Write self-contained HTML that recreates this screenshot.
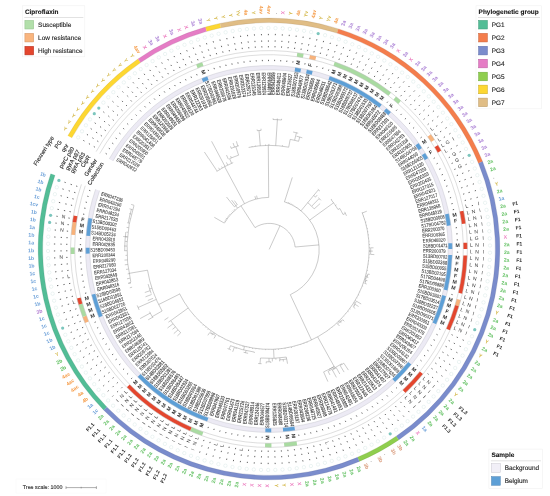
<!DOCTYPE html>
<html><head><meta charset="utf-8"><style>html,body{margin:0;padding:0;background:#fff;}svg{display:block;}</style></head><body>
<svg width="550" height="496" viewBox="0 0 550 496" font-family="Liberation Sans, Arial, sans-serif" text-rendering="geometricPrecision">
<rect width="550" height="496" fill="#fff"/>
<g id="tree" fill="none" stroke="#8a8a8a" stroke-width="0.45">
<path d="M269.2,249.4L280.0,225.7M255.0,227.6A26,26 0 0 1 295.1,247.0M255.0,227.6L240.9,205.8M224.5,222.9A52,52 0 0 1 268.7,197.4M224.3,223.1L214.3,217.3M225.2,221.7L224.5,221.2M226.1,220.3L225.3,219.7M227.1,218.9L225.9,218.1M228.1,217.6L227.4,217.0M229.1,216.2L228.4,215.7M230.2,215.0L229.5,214.3M231.4,213.7L231.0,213.3M232.6,212.5L231.9,211.8M233.8,211.3L233.1,210.6M235.0,210.2L234.2,209.3M237.5,208.1L235.7,205.8M234.4,206.8A55,55 0 0 1 237.3,204.6M234.4,206.8L226.5,197.0M235.8,205.7L231.6,200.1M237.3,204.6L234.4,200.6M255.7,199.2L254.9,196.2M257.3,198.8L256.6,195.6M244.5,203.6L224.6,166.6M216.6,171.5A94,94 0 0 1 233.2,162.6M217.1,171.1L204.4,152.0M225.0,166.4L211.6,141.3M219.7,169.5L218.6,167.8M222.3,167.9L221.6,166.6M231.6,163.3L229.6,158.7M229.6,158.7A99,99 0 0 1 238.6,155.2M228.4,159.2L226.5,155.1M231.3,157.9L230.6,156.1M238.6,155.2L235.8,146.7M231.0,148.4A108,108 0 0 1 238.9,145.7M231.2,148.3L230.5,146.4M234.5,147.1L233.1,143.0M237.8,146.1L236.4,141.3M227.7,165.1L226.4,162.4M268.7,197.4L268.3,145.4M248.8,147.4A104,104 0 0 1 288.7,147.2M248.8,147.4L248.7,147.1M252.1,146.8L252.0,146.0M255.4,146.3L255.3,145.5M260.3,145.8L259.0,130.5M257.3,130.7A119.3,119.3 0 0 1 261.1,130.4M257.3,130.7L257.1,129.5M261.1,130.4L261.0,128.7M265.5,145.5L265.5,144.5M275.7,145.6L277.4,119.7M273.0,119.5A130,130 0 0 1 281.5,120.0M273.0,119.5L273.1,118.3M277.3,119.7L277.3,118.5M281.5,120.0L281.6,118.8M268.9,145.4L268.9,143.9M282.4,146.2L282.5,145.2M288.7,147.2L290.2,139.4M290.2,139.4A112,112 0 0 1 298.6,141.3M294.6,140.3L296.4,132.7M298.6,141.3L299.7,137.1M296.4,136.2A116.4,116.4 0 0 1 302.3,137.8M293.1,132.0A119.8,119.8 0 0 1 298.2,133.2M295.1,247.0L319.0,244.9M284.2,201.7A50,50 0 0 1 290.3,294.7M284.5,201.8L292.3,177.4M286.5,202.5L286.7,202.2M288.1,203.1L288.4,202.2M289.5,203.7L289.9,202.8M291.0,204.4L291.3,203.7M292.5,205.1L292.8,204.5M293.9,205.9L294.1,205.6M295.3,206.7L295.5,206.5M296.7,207.6L297.0,207.1M298.0,208.5L298.2,208.2M299.3,209.5L299.6,209.1M300.6,210.5L300.9,210.1M301.0,210.8L318.4,189.8M307.7,202.6A60.6,60.6 0 0 1 314.2,208.9M311.7,206.2L319.2,198.5M314.2,208.9L320.1,203.6M313.6,195.5A69.8,69.8 0 0 1 315.5,197.1M315.5,197.1L317.2,195.1M318.3,197.7A71.3,71.3 0 0 1 320.9,200.3M317.8,189.3A77.3,77.3 0 0 1 319.9,191.1M309.7,220.1L333.6,202.8M331.2,199.7A79.5,79.5 0 0 1 338.0,209.5M331.2,199.7L332.0,199.1M338.0,209.5L339.8,208.5M339.8,208.5A81.6,81.6 0 0 1 343.0,214.5M343.0,214.5L345.4,213.4M344.6,211.8A84.3,84.3 0 0 1 346.5,215.8M335.5,205.5L336.4,204.9M290.3,294.7L311.5,340.0M362.1,212.4A100,100 0 0 1 179.5,293.6M362.3,213.0L362.5,212.9M363.5,216.0L364.0,215.8M364.5,219.1L365.0,218.9M365.4,222.2L366.3,222.0M366.3,225.3L366.9,225.2M367.0,228.5L367.7,228.4M367.6,231.7L368.2,231.6M368.1,234.9L368.9,234.8M368.6,238.1L369.1,238.0M368.9,241.3L369.3,241.3M369.1,244.6L370.1,244.5M369.2,247.8L370.2,247.8M369.2,251.1L370.1,251.1M369.1,254.3L369.8,254.4M368.9,257.6L369.3,257.6M368.5,260.8L368.9,260.8M368.1,264.0L368.6,264.1M367.6,267.2L367.9,267.2M367.0,270.4L367.8,270.6M366.2,273.5L366.7,273.7M365.4,276.7L366.2,276.9M364.5,279.8L365.0,279.9M363.4,282.9L364.3,283.2M362.3,285.9L363.1,286.2M361.1,288.9L361.2,289.0M359.7,291.9L360.1,292.0M358.3,294.8L359.1,295.2M356.8,297.7L357.3,297.9M355.2,300.5L356.0,301.0M353.5,303.2L353.9,303.5M351.7,305.9L351.9,306.1M349.8,308.6L350.4,309.0M347.8,311.2L348.5,311.7M345.8,313.7L346.1,314.0M343.7,316.1L343.9,316.3M341.5,318.5L341.8,318.8M339.2,320.8L339.9,321.5M336.8,323.1L337.4,323.7M334.4,325.2L334.6,325.4M331.9,327.3L332.2,327.6M329.3,329.3L329.5,329.5M326.7,331.2L326.9,331.4M362.3,213.0L366.8,211.2M370.7,247.8L373.5,247.8M370.7,251.1L372.8,251.1M370.6,254.4L374.3,254.6M370.7,247.8A101.5,101.5 0 0 1 370.6,254.4M369.2,251.1L370.7,251.1M367.9,274.0L369.7,274.4M367.1,277.2L368.3,277.5M367.9,274.0A101.75748604948447,101.75748604948447 0 0 1 367.1,277.2M366.8,275.4L367.5,275.6M366.0,280.3L367.4,280.7M364.9,283.4L366.7,284.0M366.0,280.3A101.60791799087625,101.60791799087625 0 0 1 364.9,283.4M364.9,281.7L365.5,281.8M366.8,275.4A101,101 0 0 1 364.9,281.7M364.9,278.2L365.9,278.5M356.5,301.2L361.2,304.0M355.2,304.4L358.6,306.5M353.4,307.1L355.2,308.4M355.2,304.4A102.08529734743101,102.08529734743101 0 0 1 353.4,307.1M353.8,305.4L354.3,305.7M356.5,301.2A101.5,101.5 0 0 1 353.8,305.4M353.9,302.5L355.2,303.3M342.7,319.7L344.3,321.3M340.4,322.1L341.4,323.1M342.7,319.7A101.72055159494876,101.72055159494876 0 0 1 340.4,322.1M341.2,320.5L341.6,320.9M337.6,323.9L339.5,326.0M341.2,320.5A101.2,101.2 0 0 1 337.6,323.9M338.6,321.4L339.4,322.3M317.7,336.9L334.2,366.6M343.8,363.2L348.4,370.1M340.1,365.5L344.1,372.1M343.8,363.2A136.0591604813039,136.0591604813039 0 0 1 340.1,365.5M341.6,363.8L342.0,364.4M336.3,367.8L339.8,374.0M332.4,370.0L336.4,377.4M336.3,367.8A136.13138786470023,136.13138786470023 0 0 1 332.4,370.0M334.0,368.2L334.4,368.9M328.1,371.3L329.9,374.9M341.6,363.8A135.36109539897532,135.36109539897532 0 0 1 328.1,371.3M334.3,366.5L335.0,367.7M323.6,371.9L327.9,381.6M334.3,366.5A134,134 0 0 1 323.6,371.9M334.2,366.6A134,134 0 0 1 329.0,369.3M306.8,342.1L307.2,342.9M303.8,343.2L304.0,343.9M300.7,344.3L300.9,344.8M297.6,345.3L297.7,345.5M294.5,346.1L294.6,346.4M291.4,346.9L291.6,347.9M288.2,347.6L288.3,348.0M285.0,348.1L285.1,348.9M281.8,348.6L281.8,349.0M278.5,349.0L278.6,349.8M275.3,349.2L275.3,349.9M272.1,349.4L272.1,349.8M268.8,349.4L268.8,349.7M265.6,349.3L265.5,350.1M262.3,349.2L262.3,349.4M259.1,348.9L259.1,349.3M255.9,348.5L255.8,349.2M252.7,348.0L252.5,348.9M249.5,347.4L249.3,348.1M246.3,346.7L246.2,347.2M243.2,345.9L242.9,346.9M240.0,345.1L239.9,345.4M236.9,344.1L236.9,344.3M233.9,343.0L233.7,343.3M230.9,341.8L230.7,342.3M227.9,340.5L227.8,340.7M225.0,339.1L224.8,339.4M222.1,337.6L221.8,338.0M219.2,336.0L218.9,336.6M216.5,334.4L216.3,334.6M213.7,332.6L213.5,333.0M211.1,330.8L210.5,331.5M208.4,328.8L207.8,329.6M205.9,326.8L205.4,327.4M203.4,324.7L202.9,325.3M201.0,322.5L200.6,323.0M198.7,320.3L198.5,320.5M273.6,349.3L274.0,358.3M286.3,357.1A109,109 0 0 1 260.5,358.0M286.3,357.1L286.6,359.0M286.7,359.0A111,111 0 0 1 279.6,359.9M286.7,359.0L287.5,363.7M283.2,359.5L283.4,361.5M279.6,359.9L279.7,361.4M279.8,357.9L280.0,360.0M275.9,358.2L275.9,359.7M272.3,358.4L272.4,361.4M269.0,358.4L269.0,361.8M270.8,361.8A112.4,112.4 0 0 1 266.3,361.8M270.8,361.8L270.8,362.9M266.3,361.8L266.2,363.4M260.5,358.0L260.0,363.6M261.6,363.7A114.6,114.6 0 0 1 258.2,363.5M244.5,346.3L243.6,350.0M254.4,352.1A103.8,103.8 0 0 1 230.5,345.7M254.4,352.1L254.3,352.9M246.0,350.6L245.5,352.7M236.3,347.8L235.9,349.0M230.5,345.7L229.1,349.1M234.4,347.2L232.7,351.8M248.1,353.3A106,106 0 0 1 243.6,352.3M231.0,349.9A107.5,107.5 0 0 1 227.5,348.5M215.7,335.6L213.9,338.5M212.5,334.4L212.0,335.2M209.8,332.5L207.8,335.3M212.5,334.4A102.14298882097295,102.14298882097295 0 0 1 209.8,332.5M211.5,332.9L211.2,333.5M215.7,335.6A101.5,101.5 0 0 1 211.5,332.9M214.4,333.1L213.6,334.3M188.2,308.0L170.7,320.7M180.7,332.8A121.6,121.6 0 0 1 170.7,320.7M180.7,332.8L177.4,335.9M178.0,329.9L173.8,333.6M175.5,326.9L172.5,329.3M173.0,323.8L167.5,328.0M170.6,320.6L168.4,322.2M168.4,317.4L164.4,320.1M179.7,294.0L158.7,304.5M162.1,311.0A123.5,123.5 0 0 1 147.5,270.2M162.1,311.0L152.3,316.6M153.0,317.9A134.9,134.9 0 0 1 149.5,311.7M150.3,313.1L140.1,318.6M152.6,317.3L148.2,319.8M156.3,299.4L138.1,307.5M139.2,310.0A143.4,143.4 0 0 1 137.2,305.4M151.9,288.2L149.6,289.0M151.2,293.5A126,126 0 0 1 148.1,284.1M153.1,298.3L147.8,300.5M151.6,294.5L145.5,296.8M150.1,290.7L144.8,292.5M147.5,270.2L129.0,273.4M130.8,281.9A142.2,142.2 0 0 1 134.0,205.5M132.1,287.2L129.8,287.8M131.0,282.7L128.3,283.3M129.9,278.2L127.0,278.8M129.1,273.6L127.7,273.9M128.4,269.1L126.0,269.4M127.8,264.5L124.8,264.8M127.4,259.9L124.5,260.1M127.1,255.3L125.5,255.4M127.0,250.7L124.3,250.7M127.0,246.1L124.1,246.0M127.2,241.5L125.2,241.4M127.6,236.9L125.3,236.7M128.0,232.3L126.5,232.1M128.7,227.7L126.6,227.4M129.4,223.2L127.3,222.8M130.4,218.6L129.8,218.5M131.4,214.1L129.3,213.6M132.7,209.7L129.5,208.8M134.0,205.3L131.2,204.4M131.0,282.7L128.3,283.3M127.6,236.9L123.2,236.5M124.7,250.7A144.5,144.5 0 0 1 125.8,232.0M128.2,222.9A143.5,143.5 0 0 1 131.4,209.3"/>
</g>
<g font-size="5.5" fill="#464646" font-weight="bold">
<text transform="translate(136.08 171.23) rotate(30.33) scale(0.83 1)" text-anchor="end" dominant-baseline="central" font-size="5.0" font-weight="normal" fill="#3a3a3a" stroke="#3a3a3a" stroke-width="0.08">ERR042832</text>
<text transform="translate(138.67 166.96) rotate(32.19) scale(0.83 1)" text-anchor="end" dominant-baseline="central" font-size="5.0" font-weight="normal" fill="#3a3a3a" stroke="#3a3a3a" stroke-width="0.08">ERR217028</text>
<text transform="translate(141.40 162.77) rotate(34.05) scale(0.83 1)" text-anchor="end" dominant-baseline="central" font-size="5.0" font-weight="normal" fill="#3a3a3a" stroke="#3a3a3a" stroke-width="0.08">ERR048779</text>
<text transform="translate(144.27 158.68) rotate(35.91) scale(0.83 1)" text-anchor="end" dominant-baseline="central" font-size="5.0" font-weight="normal" fill="#3a3a3a" stroke="#3a3a3a" stroke-width="0.08">ERR045991</text>
<text transform="translate(147.26 154.68) rotate(37.77) scale(0.83 1)" text-anchor="end" dominant-baseline="central" font-size="5.0" font-weight="normal" fill="#3a3a3a" stroke="#3a3a3a" stroke-width="0.08">ERR200950</text>
<text transform="translate(150.39 150.78) rotate(39.63) scale(0.83 1)" text-anchor="end" dominant-baseline="central" font-size="5.0" font-weight="normal" fill="#3a3a3a" stroke="#3a3a3a" stroke-width="0.08">ERR203517</text>
<text transform="translate(153.64 146.98) rotate(41.49) scale(0.83 1)" text-anchor="end" dominant-baseline="central" font-size="5.0" font-weight="normal" fill="#3a3a3a" stroke="#3a3a3a" stroke-width="0.08">ERR041408</text>
<text transform="translate(157.01 143.29) rotate(43.35) scale(0.83 1)" text-anchor="end" dominant-baseline="central" font-size="5.0" font-weight="normal" fill="#3a3a3a" stroke="#3a3a3a" stroke-width="0.08">ERR126851</text>
<text transform="translate(160.50 139.71) rotate(45.21) scale(0.83 1)" text-anchor="end" dominant-baseline="central" font-size="5.0" font-weight="normal" fill="#3a3a3a" stroke="#3a3a3a" stroke-width="0.08">ERR043943</text>
<text transform="translate(164.10 136.25) rotate(47.07) scale(0.755 1)" text-anchor="end" dominant-baseline="central">ERR049028</text>
<text transform="translate(167.82 132.91) rotate(48.93) scale(0.755 1)" text-anchor="end" dominant-baseline="central">ERR120968</text>
<text transform="translate(171.64 129.68) rotate(50.79) scale(0.755 1)" text-anchor="end" dominant-baseline="central">ERR202028</text>
<text transform="translate(175.56 126.59) rotate(52.65) scale(0.755 1)" text-anchor="end" dominant-baseline="central">ERR049551</text>
<text transform="translate(179.58 123.62) rotate(54.50) scale(0.755 1)" text-anchor="end" dominant-baseline="central">ERR049455</text>
<text transform="translate(183.70 120.78) rotate(56.36) scale(0.755 1)" text-anchor="end" dominant-baseline="central">ERR206499</text>
<text transform="translate(187.90 118.08) rotate(58.22) scale(0.755 1)" text-anchor="end" dominant-baseline="central">ERR043622</text>
<text transform="translate(192.19 115.52) rotate(60.08) scale(0.755 1)" text-anchor="end" dominant-baseline="central">ERR049120</text>
<text transform="translate(196.57 113.10) rotate(61.94) scale(0.755 1)" text-anchor="end" dominant-baseline="central">ERR044744</text>
<text transform="translate(201.01 110.82) rotate(63.80) scale(0.755 1)" text-anchor="end" dominant-baseline="central">ERR122363</text>
<text transform="translate(205.53 108.69) rotate(65.66) scale(0.755 1)" text-anchor="end" dominant-baseline="central">ERR201929</text>
<text transform="translate(210.12 106.70) rotate(67.52) scale(0.755 1)" text-anchor="end" dominant-baseline="central">ERR205054</text>
<text transform="translate(214.77 104.86) rotate(69.38) scale(0.755 1)" text-anchor="end" dominant-baseline="central">S17BD02961</text>
<text transform="translate(219.48 103.18) rotate(71.24) scale(0.755 1)" text-anchor="end" dominant-baseline="central">ERR049528</text>
<text transform="translate(224.23 101.65) rotate(73.10) scale(0.755 1)" text-anchor="end" dominant-baseline="central">ERR203078</text>
<text transform="translate(229.04 100.28) rotate(74.96) scale(0.755 1)" text-anchor="end" dominant-baseline="central">ERR041596</text>
<text transform="translate(233.89 99.06) rotate(76.82) scale(0.755 1)" text-anchor="end" dominant-baseline="central">ERR201028</text>
<text transform="translate(238.77 98.00) rotate(78.68) scale(0.755 1)" text-anchor="end" dominant-baseline="central">ERR200976</text>
<text transform="translate(243.69 97.09) rotate(80.54) scale(0.755 1)" text-anchor="end" dominant-baseline="central">ERR203374</text>
<text transform="translate(248.63 96.35) rotate(82.40) scale(0.755 1)" text-anchor="end" dominant-baseline="central">ERR128711</text>
<text transform="translate(253.59 95.77) rotate(84.26) scale(0.755 1)" text-anchor="end" dominant-baseline="central">ERR125146</text>
<text transform="translate(258.57 95.35) rotate(86.12) scale(0.755 1)" text-anchor="end" dominant-baseline="central">ERR129593</text>
<text transform="translate(263.57 95.10) rotate(87.98) scale(0.755 1)" text-anchor="end" dominant-baseline="central">ERR125924</text>
<text transform="translate(268.56 95.00) rotate(89.84) scale(0.755 1)" text-anchor="end" dominant-baseline="central">ERR044070</text>
<text transform="translate(273.56 95.07) rotate(271.70) scale(0.755 1)" text-anchor="start" dominant-baseline="central">ERR043999</text>
<text transform="translate(278.55 95.30) rotate(273.56) scale(0.755 1)" text-anchor="start" dominant-baseline="central">ERR049411</text>
<text transform="translate(283.54 95.69) rotate(275.42) scale(0.755 1)" text-anchor="start" dominant-baseline="central">ERR048604</text>
<text transform="translate(288.50 96.24) rotate(277.28) scale(0.755 1)" text-anchor="start" dominant-baseline="central">ERR125627</text>
<text transform="translate(293.45 96.95) rotate(279.14) scale(0.755 1)" text-anchor="start" dominant-baseline="central">S18BD07353</text>
<text transform="translate(298.37 97.83) rotate(280.99) scale(0.755 1)" text-anchor="start" dominant-baseline="central">ERR049977</text>
<text transform="translate(303.26 98.86) rotate(282.85) scale(0.755 1)" text-anchor="start" dominant-baseline="central">S13BD01934</text>
<text transform="translate(308.12 100.05) rotate(284.71) scale(0.755 1)" text-anchor="start" dominant-baseline="central">ERR206850</text>
<text transform="translate(312.93 101.40) rotate(286.57) scale(0.755 1)" text-anchor="start" dominant-baseline="central">ERR045604</text>
<text transform="translate(317.69 102.90) rotate(288.43) scale(0.755 1)" text-anchor="start" dominant-baseline="central">ERR048011</text>
<text transform="translate(322.41 104.56) rotate(290.29) scale(0.755 1)" text-anchor="start" dominant-baseline="central">S16BD00642</text>
<text transform="translate(327.07 106.37) rotate(292.15) scale(0.755 1)" text-anchor="start" dominant-baseline="central">S18BD01271</text>
<text transform="translate(331.67 108.33) rotate(294.01) scale(0.755 1)" text-anchor="start" dominant-baseline="central">S17BD09388</text>
<text transform="translate(336.20 110.43) rotate(295.87) scale(0.755 1)" text-anchor="start" dominant-baseline="central">S15BD05572</text>
<text transform="translate(340.66 112.69) rotate(297.73) scale(0.755 1)" text-anchor="start" dominant-baseline="central">S18BD05737</text>
<text transform="translate(345.05 115.09) rotate(299.59) scale(0.755 1)" text-anchor="start" dominant-baseline="central">S17BD08137</text>
<text transform="translate(349.35 117.62) rotate(301.45) scale(0.755 1)" text-anchor="start" dominant-baseline="central">S17BD07474</text>
<text transform="translate(353.57 120.30) rotate(303.31) scale(0.755 1)" text-anchor="start" dominant-baseline="central">S13BD01533</text>
<text transform="translate(357.70 123.11) rotate(305.17) scale(0.755 1)" text-anchor="start" dominant-baseline="central">S15BD07767</text>
<text transform="translate(361.74 126.06) rotate(307.03) scale(0.755 1)" text-anchor="start" dominant-baseline="central">S18BD01064</text>
<text transform="translate(365.68 129.13) rotate(308.89) scale(0.755 1)" text-anchor="start" dominant-baseline="central">ERR045072</text>
<text transform="translate(369.52 132.33) rotate(310.75) scale(0.755 1)" text-anchor="start" dominant-baseline="central">S18BD09469</text>
<text transform="translate(373.25 135.66) rotate(312.61) scale(0.755 1)" text-anchor="start" dominant-baseline="central">ERR217301</text>
<text transform="translate(376.88 139.10) rotate(314.47) scale(0.83 1)" text-anchor="start" dominant-baseline="central" font-size="5.0" font-weight="normal" fill="#3a3a3a" stroke="#3a3a3a" stroke-width="0.08">ERR046320</text>
<text transform="translate(380.39 142.66) rotate(316.33) scale(0.83 1)" text-anchor="start" dominant-baseline="central" font-size="5.0" font-weight="normal" fill="#3a3a3a" stroke="#3a3a3a" stroke-width="0.08">ERR215685</text>
<text transform="translate(383.78 146.33) rotate(318.19) scale(0.83 1)" text-anchor="start" dominant-baseline="central" font-size="5.0" font-weight="normal" fill="#3a3a3a" stroke="#3a3a3a" stroke-width="0.08">ERR047564</text>
<text transform="translate(387.05 150.11) rotate(320.05) scale(0.83 1)" text-anchor="start" dominant-baseline="central" font-size="5.0" font-weight="normal" fill="#3a3a3a" stroke="#3a3a3a" stroke-width="0.08">ERR042753</text>
<text transform="translate(390.20 153.99) rotate(321.91) scale(0.83 1)" text-anchor="start" dominant-baseline="central" font-size="5.0" font-weight="normal" fill="#3a3a3a" stroke="#3a3a3a" stroke-width="0.08">ERR201918</text>
<text transform="translate(393.22 157.97) rotate(323.77) scale(0.83 1)" text-anchor="start" dominant-baseline="central" font-size="5.0" font-weight="normal" fill="#3a3a3a" stroke="#3a3a3a" stroke-width="0.08">ERR120965</text>
<text transform="translate(396.11 162.05) rotate(325.63) scale(0.83 1)" text-anchor="start" dominant-baseline="central" font-size="5.0" font-weight="normal" fill="#3a3a3a" stroke="#3a3a3a" stroke-width="0.08">S14BD04709</text>
<text transform="translate(398.86 166.22) rotate(327.48) scale(0.83 1)" text-anchor="start" dominant-baseline="central" font-size="5.0" font-weight="normal" fill="#3a3a3a" stroke="#3a3a3a" stroke-width="0.08">ERR044056</text>
<text transform="translate(401.48 170.48) rotate(329.34) scale(0.83 1)" text-anchor="start" dominant-baseline="central" font-size="5.0" font-weight="normal" fill="#3a3a3a" stroke="#3a3a3a" stroke-width="0.08">S16BD06405</text>
<text transform="translate(403.96 174.82) rotate(331.20) scale(0.83 1)" text-anchor="start" dominant-baseline="central" font-size="5.0" font-weight="normal" fill="#3a3a3a" stroke="#3a3a3a" stroke-width="0.08">ERR121320</text>
<text transform="translate(406.29 179.24) rotate(333.06) scale(0.83 1)" text-anchor="start" dominant-baseline="central" font-size="5.0" font-weight="normal" fill="#3a3a3a" stroke="#3a3a3a" stroke-width="0.08">ERR047359</text>
<text transform="translate(408.48 183.73) rotate(334.92) scale(0.83 1)" text-anchor="start" dominant-baseline="central" font-size="5.0" font-weight="normal" fill="#3a3a3a" stroke="#3a3a3a" stroke-width="0.08">ERR200393</text>
<text transform="translate(410.53 188.29) rotate(336.78) scale(0.83 1)" text-anchor="start" dominant-baseline="central" font-size="5.0" font-weight="normal" fill="#3a3a3a" stroke="#3a3a3a" stroke-width="0.08">ERR200405</text>
<text transform="translate(412.42 192.92) rotate(338.64) scale(0.83 1)" text-anchor="start" dominant-baseline="central" font-size="5.0" font-weight="normal" fill="#3a3a3a" stroke="#3a3a3a" stroke-width="0.08">ERR127015</text>
<text transform="translate(414.17 197.60) rotate(340.50) scale(0.83 1)" text-anchor="start" dominant-baseline="central" font-size="5.0" font-weight="normal" fill="#3a3a3a" stroke="#3a3a3a" stroke-width="0.08">ERR042821</text>
<text transform="translate(415.76 202.34) rotate(342.36) scale(0.83 1)" text-anchor="start" dominant-baseline="central" font-size="5.0" font-weight="normal" fill="#3a3a3a" stroke="#3a3a3a" stroke-width="0.08">ERR127017</text>
<text transform="translate(417.20 207.12) rotate(344.22) scale(0.83 1)" text-anchor="start" dominant-baseline="central" font-size="5.0" font-weight="normal" fill="#3a3a3a" stroke="#3a3a3a" stroke-width="0.08">ERR048331</text>
<text transform="translate(418.48 211.95) rotate(346.08) scale(0.83 1)" text-anchor="start" dominant-baseline="central" font-size="5.0" font-weight="normal" fill="#3a3a3a" stroke="#3a3a3a" stroke-width="0.08">ERR126958</text>
<text transform="translate(419.60 216.82) rotate(347.94) scale(0.83 1)" text-anchor="start" dominant-baseline="central" font-size="5.0" font-weight="normal" fill="#3a3a3a" stroke="#3a3a3a" stroke-width="0.08">ERR048319</text>
<text transform="translate(420.57 221.73) rotate(349.80) scale(0.83 1)" text-anchor="start" dominant-baseline="central" font-size="5.0" font-weight="normal" fill="#3a3a3a" stroke="#3a3a3a" stroke-width="0.08">S18BD00006</text>
<text transform="translate(421.37 226.66) rotate(351.66) scale(0.83 1)" text-anchor="start" dominant-baseline="central" font-size="5.0" font-weight="normal" fill="#3a3a3a" stroke="#3a3a3a" stroke-width="0.08">S17BD04752</text>
<text transform="translate(422.02 231.62) rotate(353.52) scale(0.83 1)" text-anchor="start" dominant-baseline="central" font-size="5.0" font-weight="normal" fill="#3a3a3a" stroke="#3a3a3a" stroke-width="0.08">ERR200370</text>
<text transform="translate(422.50 236.59) rotate(355.38) scale(0.83 1)" text-anchor="start" dominant-baseline="central" font-size="5.0" font-weight="normal" fill="#3a3a3a" stroke="#3a3a3a" stroke-width="0.08">ERR200365</text>
<text transform="translate(422.82 241.58) rotate(357.24) scale(0.83 1)" text-anchor="start" dominant-baseline="central" font-size="5.0" font-weight="normal" fill="#3a3a3a" stroke="#3a3a3a" stroke-width="0.08">ERR048320</text>
<text transform="translate(422.98 246.58) rotate(359.10) scale(0.83 1)" text-anchor="start" dominant-baseline="central" font-size="5.0" font-weight="normal" fill="#3a3a3a" stroke="#3a3a3a" stroke-width="0.08">S18BD01471</text>
<text transform="translate(422.98 251.57) rotate(0.96) scale(0.83 1)" text-anchor="start" dominant-baseline="central" font-size="5.0" font-weight="normal" fill="#3a3a3a" stroke="#3a3a3a" stroke-width="0.08">ERR200379</text>
<text transform="translate(422.81 256.57) rotate(2.82) scale(0.83 1)" text-anchor="start" dominant-baseline="central" font-size="5.0" font-weight="normal" fill="#3a3a3a" stroke="#3a3a3a" stroke-width="0.08">S13BD00702</text>
<text transform="translate(422.49 261.56) rotate(4.68) scale(0.83 1)" text-anchor="start" dominant-baseline="central" font-size="5.0" font-weight="normal" fill="#3a3a3a" stroke="#3a3a3a" stroke-width="0.08">S15BD02368</text>
<text transform="translate(422.00 266.53) rotate(6.54) scale(0.83 1)" text-anchor="start" dominant-baseline="central" font-size="5.0" font-weight="normal" fill="#3a3a3a" stroke="#3a3a3a" stroke-width="0.08">S15BD00055</text>
<text transform="translate(421.35 271.49) rotate(8.40) scale(0.83 1)" text-anchor="start" dominant-baseline="central" font-size="5.0" font-weight="normal" fill="#3a3a3a" stroke="#3a3a3a" stroke-width="0.08">S13BD02195</text>
<text transform="translate(420.54 276.42) rotate(10.26) scale(0.83 1)" text-anchor="start" dominant-baseline="central" font-size="5.0" font-weight="normal" fill="#3a3a3a" stroke="#3a3a3a" stroke-width="0.08">S17BD04498</text>
<text transform="translate(419.57 281.32) rotate(12.12) scale(0.83 1)" text-anchor="start" dominant-baseline="central" font-size="5.0" font-weight="normal" fill="#3a3a3a" stroke="#3a3a3a" stroke-width="0.08">S17BD00886</text>
<text transform="translate(418.44 286.19) rotate(13.97) scale(0.83 1)" text-anchor="start" dominant-baseline="central" font-size="5.0" font-weight="normal" fill="#3a3a3a" stroke="#3a3a3a" stroke-width="0.08">ERR200360</text>
<text transform="translate(417.16 291.02) rotate(15.83) scale(0.83 1)" text-anchor="start" dominant-baseline="central" font-size="5.0" font-weight="normal" fill="#3a3a3a" stroke="#3a3a3a" stroke-width="0.08">S16BD03881</text>
<text transform="translate(415.71 295.81) rotate(17.69) scale(0.83 1)" text-anchor="start" dominant-baseline="central" font-size="5.0" font-weight="normal" fill="#3a3a3a" stroke="#3a3a3a" stroke-width="0.08">S17BD03514</text>
<text transform="translate(414.12 300.54) rotate(19.55) scale(0.83 1)" text-anchor="start" dominant-baseline="central" font-size="5.0" font-weight="normal" fill="#3a3a3a" stroke="#3a3a3a" stroke-width="0.08">S18BD02237</text>
<text transform="translate(412.37 305.22) rotate(21.41) scale(0.83 1)" text-anchor="start" dominant-baseline="central" font-size="5.0" font-weight="normal" fill="#3a3a3a" stroke="#3a3a3a" stroke-width="0.08">S18BD00005</text>
<text transform="translate(410.47 309.85) rotate(23.27) scale(0.83 1)" text-anchor="start" dominant-baseline="central" font-size="5.0" font-weight="normal" fill="#3a3a3a" stroke="#3a3a3a" stroke-width="0.08">S13BD05571</text>
<text transform="translate(408.42 314.41) rotate(25.13) scale(0.83 1)" text-anchor="start" dominant-baseline="central" font-size="5.0" font-weight="normal" fill="#3a3a3a" stroke="#3a3a3a" stroke-width="0.08">ERR200861</text>
<text transform="translate(406.22 318.90) rotate(26.99) scale(0.83 1)" text-anchor="start" dominant-baseline="central" font-size="5.0" font-weight="normal" fill="#3a3a3a" stroke="#3a3a3a" stroke-width="0.08">ERR040003</text>
<text transform="translate(403.88 323.31) rotate(28.85) scale(0.83 1)" text-anchor="start" dominant-baseline="central" font-size="5.0" font-weight="normal" fill="#3a3a3a" stroke="#3a3a3a" stroke-width="0.08">ERR202478</text>
<text transform="translate(401.40 327.65) rotate(30.71) scale(0.83 1)" text-anchor="start" dominant-baseline="central" font-size="5.0" font-weight="normal" fill="#3a3a3a" stroke="#3a3a3a" stroke-width="0.08">ERR201662</text>
<text transform="translate(398.78 331.90) rotate(32.57) scale(0.83 1)" text-anchor="start" dominant-baseline="central" font-size="5.0" font-weight="normal" fill="#3a3a3a" stroke="#3a3a3a" stroke-width="0.08">ERR040417</text>
<text transform="translate(396.02 336.07) rotate(34.43) scale(0.83 1)" text-anchor="start" dominant-baseline="central" font-size="5.0" font-weight="normal" fill="#3a3a3a" stroke="#3a3a3a" stroke-width="0.08">ERR043407</text>
<text transform="translate(393.13 340.15) rotate(36.29) scale(0.83 1)" text-anchor="start" dominant-baseline="central" font-size="5.0" font-weight="normal" fill="#3a3a3a" stroke="#3a3a3a" stroke-width="0.08">ERR206164</text>
<text transform="translate(390.11 344.13) rotate(38.15) scale(0.83 1)" text-anchor="start" dominant-baseline="central" font-size="5.0" font-weight="normal" fill="#3a3a3a" stroke="#3a3a3a" stroke-width="0.08">ERR044132</text>
<text transform="translate(386.95 348.01) rotate(40.01) scale(0.83 1)" text-anchor="start" dominant-baseline="central" font-size="5.0" font-weight="normal" fill="#3a3a3a" stroke="#3a3a3a" stroke-width="0.08">S15BD09867</text>
<text transform="translate(383.68 351.78) rotate(41.87) scale(0.83 1)" text-anchor="start" dominant-baseline="central" font-size="5.0" font-weight="normal" fill="#3a3a3a" stroke="#3a3a3a" stroke-width="0.08">S15BD07768</text>
<text transform="translate(380.28 355.45) rotate(43.73) scale(0.83 1)" text-anchor="start" dominant-baseline="central" font-size="5.0" font-weight="normal" fill="#3a3a3a" stroke="#3a3a3a" stroke-width="0.08">S13BD01889</text>
<text transform="translate(376.77 359.01) rotate(45.59) scale(0.83 1)" text-anchor="start" dominant-baseline="central" font-size="5.0" font-weight="normal" fill="#3a3a3a" stroke="#3a3a3a" stroke-width="0.08">S16BD07634</text>
<text transform="translate(373.14 362.45) rotate(47.45) scale(0.755 1)" text-anchor="start" dominant-baseline="central">ERR127927</text>
<text transform="translate(369.41 365.77) rotate(49.31) scale(0.755 1)" text-anchor="start" dominant-baseline="central">ERR041407</text>
<text transform="translate(365.57 368.96) rotate(51.17) scale(0.755 1)" text-anchor="start" dominant-baseline="central">ERR041674</text>
<text transform="translate(361.62 372.03) rotate(53.03) scale(0.755 1)" text-anchor="start" dominant-baseline="central">ERR215613</text>
<text transform="translate(357.58 374.97) rotate(54.89) scale(0.755 1)" text-anchor="start" dominant-baseline="central">ERR214337</text>
<text transform="translate(353.45 377.78) rotate(56.75) scale(0.755 1)" text-anchor="start" dominant-baseline="central">ERR122645</text>
<text transform="translate(349.22 380.45) rotate(58.61) scale(0.755 1)" text-anchor="start" dominant-baseline="central">ERR200378</text>
<text transform="translate(344.92 382.99) rotate(60.46) scale(0.755 1)" text-anchor="start" dominant-baseline="central">ERR048654</text>
<text transform="translate(340.53 385.38) rotate(62.32) scale(0.755 1)" text-anchor="start" dominant-baseline="central">ERR042401</text>
<text transform="translate(336.06 387.63) rotate(64.18) scale(0.755 1)" text-anchor="start" dominant-baseline="central">ERR218899</text>
<text transform="translate(331.53 389.73) rotate(66.04) scale(0.755 1)" text-anchor="start" dominant-baseline="central">ERR048652</text>
<text transform="translate(326.93 391.69) rotate(67.90) scale(0.755 1)" text-anchor="start" dominant-baseline="central">ERR041491</text>
<text transform="translate(322.27 393.49) rotate(69.76) scale(0.755 1)" text-anchor="start" dominant-baseline="central">ERR214278</text>
<text transform="translate(317.55 395.15) rotate(71.62) scale(0.755 1)" text-anchor="start" dominant-baseline="central">ERR206008</text>
<text transform="translate(312.78 396.64) rotate(73.48) scale(0.755 1)" text-anchor="start" dominant-baseline="central">ERR045827</text>
<text transform="translate(307.97 397.99) rotate(75.34) scale(0.755 1)" text-anchor="start" dominant-baseline="central">ERR048725</text>
<text transform="translate(303.12 399.17) rotate(77.20) scale(0.755 1)" text-anchor="start" dominant-baseline="central">ERR208236</text>
<text transform="translate(298.22 400.20) rotate(79.06) scale(0.755 1)" text-anchor="start" dominant-baseline="central">ERR043654</text>
<text transform="translate(293.30 401.07) rotate(80.92) scale(0.755 1)" text-anchor="start" dominant-baseline="central">ERR203197</text>
<text transform="translate(288.35 401.78) rotate(82.78) scale(0.755 1)" text-anchor="start" dominant-baseline="central">S14BD06564</text>
<text transform="translate(283.39 402.33) rotate(84.64) scale(0.755 1)" text-anchor="start" dominant-baseline="central">S18BD03714</text>
<text transform="translate(278.40 402.71) rotate(86.50) scale(0.755 1)" text-anchor="start" dominant-baseline="central">ERR048480</text>
<text transform="translate(273.41 402.94) rotate(88.36) scale(0.755 1)" text-anchor="start" dominant-baseline="central">ERR125825</text>
<text transform="translate(268.41 403.00) rotate(-89.78) scale(0.755 1)" text-anchor="end" dominant-baseline="central">S18BD00474</text>
<text transform="translate(263.42 402.90) rotate(-87.92) scale(0.755 1)" text-anchor="end" dominant-baseline="central">ERR044577</text>
<text transform="translate(258.42 402.64) rotate(-86.06) scale(0.755 1)" text-anchor="end" dominant-baseline="central">ERR124246</text>
<text transform="translate(253.44 402.21) rotate(-84.20) scale(0.755 1)" text-anchor="end" dominant-baseline="central">ERR049914</text>
<text transform="translate(248.48 401.63) rotate(-82.34) scale(0.755 1)" text-anchor="end" dominant-baseline="central">ERR047327</text>
<text transform="translate(243.54 400.88) rotate(-80.48) scale(0.755 1)" text-anchor="end" dominant-baseline="central">ERR215726</text>
<text transform="translate(238.62 399.97) rotate(-78.62) scale(0.755 1)" text-anchor="end" dominant-baseline="central">ERR041319</text>
<text transform="translate(233.74 398.91) rotate(-76.76) scale(0.755 1)" text-anchor="end" dominant-baseline="central">ERR041673</text>
<text transform="translate(228.89 397.69) rotate(-74.90) scale(0.755 1)" text-anchor="end" dominant-baseline="central">ERR047701</text>
<text transform="translate(224.09 396.31) rotate(-73.05) scale(0.755 1)" text-anchor="end" dominant-baseline="central">ERR045533</text>
<text transform="translate(219.33 394.77) rotate(-71.19) scale(0.755 1)" text-anchor="end" dominant-baseline="central">ERR047907</text>
<text transform="translate(214.63 393.08) rotate(-69.33) scale(0.755 1)" text-anchor="end" dominant-baseline="central">S17BD09998</text>
<text transform="translate(209.98 391.24) rotate(-67.47) scale(0.755 1)" text-anchor="end" dominant-baseline="central">S13BD07855</text>
<text transform="translate(205.40 389.25) rotate(-65.61) scale(0.755 1)" text-anchor="end" dominant-baseline="central">S18BD05636</text>
<text transform="translate(200.88 387.12) rotate(-63.75) scale(0.755 1)" text-anchor="end" dominant-baseline="central">S18BD01389</text>
<text transform="translate(196.43 384.83) rotate(-61.89) scale(0.755 1)" text-anchor="end" dominant-baseline="central">S18BD01964</text>
<text transform="translate(192.07 382.41) rotate(-60.03) scale(0.755 1)" text-anchor="end" dominant-baseline="central">S16BD03265</text>
<text transform="translate(187.78 379.84) rotate(-58.17) scale(0.755 1)" text-anchor="end" dominant-baseline="central">S16BD02924</text>
<text transform="translate(183.57 377.13) rotate(-56.31) scale(0.755 1)" text-anchor="end" dominant-baseline="central">S16BD05447</text>
<text transform="translate(179.46 374.29) rotate(-54.45) scale(0.755 1)" text-anchor="end" dominant-baseline="central">S13BD06485</text>
<text transform="translate(175.44 371.32) rotate(-52.59) scale(0.755 1)" text-anchor="end" dominant-baseline="central">S16BD06576</text>
<text transform="translate(171.52 368.22) rotate(-50.73) scale(0.755 1)" text-anchor="end" dominant-baseline="central">S18BD01391</text>
<text transform="translate(167.70 365.00) rotate(-48.87) scale(0.755 1)" text-anchor="end" dominant-baseline="central">S18BD02602</text>
<text transform="translate(163.99 361.65) rotate(-47.01) scale(0.755 1)" text-anchor="end" dominant-baseline="central">S14BD02081</text>
<text transform="translate(160.39 358.18) rotate(-45.15) scale(0.83 1)" text-anchor="end" dominant-baseline="central" font-size="5.0" font-weight="normal" fill="#3a3a3a" stroke="#3a3a3a" stroke-width="0.08">S13BD02476</text>
<text transform="translate(156.91 354.60) rotate(-43.29) scale(0.83 1)" text-anchor="end" dominant-baseline="central" font-size="5.0" font-weight="normal" fill="#3a3a3a" stroke="#3a3a3a" stroke-width="0.08">ERR207624</text>
<text transform="translate(153.54 350.91) rotate(-41.43) scale(0.83 1)" text-anchor="end" dominant-baseline="central" font-size="5.0" font-weight="normal" fill="#3a3a3a" stroke="#3a3a3a" stroke-width="0.08">ERR212394</text>
<text transform="translate(150.29 347.11) rotate(-39.57) scale(0.83 1)" text-anchor="end" dominant-baseline="central" font-size="5.0" font-weight="normal" fill="#3a3a3a" stroke="#3a3a3a" stroke-width="0.08">ERR209762</text>
<text transform="translate(147.17 343.20) rotate(-37.71) scale(0.83 1)" text-anchor="end" dominant-baseline="central" font-size="5.0" font-weight="normal" fill="#3a3a3a" stroke="#3a3a3a" stroke-width="0.08">ERR125741</text>
<text transform="translate(144.18 339.20) rotate(-35.85) scale(0.83 1)" text-anchor="end" dominant-baseline="central" font-size="5.0" font-weight="normal" fill="#3a3a3a" stroke="#3a3a3a" stroke-width="0.08">ERR048989</text>
<text transform="translate(141.32 335.10) rotate(-33.99) scale(0.83 1)" text-anchor="end" dominant-baseline="central" font-size="5.0" font-weight="normal" fill="#3a3a3a" stroke="#3a3a3a" stroke-width="0.08">ERR202146</text>
<text transform="translate(138.59 330.91) rotate(-32.13) scale(0.83 1)" text-anchor="end" dominant-baseline="central" font-size="5.0" font-weight="normal" fill="#3a3a3a" stroke="#3a3a3a" stroke-width="0.08">ERR217084</text>
<text transform="translate(136.00 326.64) rotate(-30.27) scale(0.83 1)" text-anchor="end" dominant-baseline="central" font-size="5.0" font-weight="normal" fill="#3a3a3a" stroke="#3a3a3a" stroke-width="0.08">ERR217081</text>
<text transform="translate(133.55 322.28) rotate(-28.41) scale(0.83 1)" text-anchor="end" dominant-baseline="central" font-size="5.0" font-weight="normal" fill="#3a3a3a" stroke="#3a3a3a" stroke-width="0.08">ERR042852</text>
<text transform="translate(131.25 317.85) rotate(-26.56) scale(0.83 1)" text-anchor="end" dominant-baseline="central" font-size="5.0" font-weight="normal" fill="#3a3a3a" stroke="#3a3a3a" stroke-width="0.08">ERR127036</text>
<text transform="translate(129.08 313.34) rotate(-24.70) scale(0.83 1)" text-anchor="end" dominant-baseline="central" font-size="5.0" font-weight="normal" fill="#3a3a3a" stroke="#3a3a3a" stroke-width="0.08">ERR042831</text>
<text transform="translate(127.07 308.77) rotate(-22.84) scale(0.83 1)" text-anchor="end" dominant-baseline="central" font-size="5.0" font-weight="normal" fill="#3a3a3a" stroke="#3a3a3a" stroke-width="0.08">ERR042851</text>
<text transform="translate(125.21 304.13) rotate(-20.98) scale(0.83 1)" text-anchor="end" dominant-baseline="central" font-size="5.0" font-weight="normal" fill="#3a3a3a" stroke="#3a3a3a" stroke-width="0.08">S16BD02726</text>
<text transform="translate(123.49 299.43) rotate(-19.12) scale(0.83 1)" text-anchor="end" dominant-baseline="central" font-size="5.0" font-weight="normal" fill="#3a3a3a" stroke="#3a3a3a" stroke-width="0.08">S16BD04652</text>
<text transform="translate(121.93 294.69) rotate(-17.26) scale(0.83 1)" text-anchor="end" dominant-baseline="central" font-size="5.0" font-weight="normal" fill="#3a3a3a" stroke="#3a3a3a" stroke-width="0.08">S16BD01991</text>
<text transform="translate(120.53 289.89) rotate(-15.40) scale(0.83 1)" text-anchor="end" dominant-baseline="central" font-size="5.0" font-weight="normal" fill="#3a3a3a" stroke="#3a3a3a" stroke-width="0.08">S16BD03590</text>
<text transform="translate(119.28 285.05) rotate(-13.54) scale(0.83 1)" text-anchor="end" dominant-baseline="central" font-size="5.0" font-weight="normal" fill="#3a3a3a" stroke="#3a3a3a" stroke-width="0.08">ERR048316</text>
<text transform="translate(118.19 280.17) rotate(-11.68) scale(0.83 1)" text-anchor="end" dominant-baseline="central" font-size="5.0" font-weight="normal" fill="#3a3a3a" stroke="#3a3a3a" stroke-width="0.08">ERR042853</text>
<text transform="translate(117.26 275.26) rotate(-9.82) scale(0.83 1)" text-anchor="end" dominant-baseline="central" font-size="5.0" font-weight="normal" fill="#3a3a3a" stroke="#3a3a3a" stroke-width="0.08">ERR042849</text>
<text transform="translate(116.48 270.32) rotate(-7.96) scale(0.83 1)" text-anchor="end" dominant-baseline="central" font-size="5.0" font-weight="normal" fill="#3a3a3a" stroke="#3a3a3a" stroke-width="0.08">ERR127034</text>
<text transform="translate(115.87 265.36) rotate(-6.10) scale(0.83 1)" text-anchor="end" dominant-baseline="central" font-size="5.0" font-weight="normal" fill="#3a3a3a" stroke="#3a3a3a" stroke-width="0.08">ERR217080</text>
<text transform="translate(115.42 260.39) rotate(-4.24) scale(0.83 1)" text-anchor="end" dominant-baseline="central" font-size="5.0" font-weight="normal" fill="#3a3a3a" stroke="#3a3a3a" stroke-width="0.08">ERR048290</text>
<text transform="translate(115.13 255.40) rotate(-2.38) scale(0.83 1)" text-anchor="end" dominant-baseline="central" font-size="5.0" font-weight="normal" fill="#3a3a3a" stroke="#3a3a3a" stroke-width="0.08">ERR200344</text>
<text transform="translate(115.01 250.40) rotate(-0.52) scale(0.83 1)" text-anchor="end" dominant-baseline="central" font-size="5.0" font-weight="normal" fill="#3a3a3a" stroke="#3a3a3a" stroke-width="0.08">S15BD09453</text>
<text transform="translate(115.04 245.40) rotate(1.34) scale(0.83 1)" text-anchor="end" dominant-baseline="central" font-size="5.0" font-weight="normal" fill="#3a3a3a" stroke="#3a3a3a" stroke-width="0.08">ERR042835</text>
<text transform="translate(115.24 240.41) rotate(3.20) scale(0.83 1)" text-anchor="end" dominant-baseline="central" font-size="5.0" font-weight="normal" fill="#3a3a3a" stroke="#3a3a3a" stroke-width="0.08">ERR042810</text>
<text transform="translate(115.60 235.42) rotate(5.06) scale(0.83 1)" text-anchor="end" dominant-baseline="central" font-size="5.0" font-weight="normal" fill="#3a3a3a" stroke="#3a3a3a" stroke-width="0.08">S14BD05234</text>
<text transform="translate(116.12 230.45) rotate(6.92) scale(0.83 1)" text-anchor="end" dominant-baseline="central" font-size="5.0" font-weight="normal" fill="#3a3a3a" stroke="#3a3a3a" stroke-width="0.08">S15BD00463</text>
<text transform="translate(116.80 225.50) rotate(8.78) scale(0.83 1)" text-anchor="end" dominant-baseline="central" font-size="5.0" font-weight="normal" fill="#3a3a3a" stroke="#3a3a3a" stroke-width="0.08">S13BD00302</text>
<text transform="translate(117.65 220.57) rotate(10.64) scale(0.83 1)" text-anchor="end" dominant-baseline="central" font-size="5.0" font-weight="normal" fill="#3a3a3a" stroke="#3a3a3a" stroke-width="0.08">ERR217033</text>
<text transform="translate(118.65 215.68) rotate(12.50) scale(0.83 1)" text-anchor="end" dominant-baseline="central" font-size="5.0" font-weight="normal" fill="#3a3a3a" stroke="#3a3a3a" stroke-width="0.08">ERR048234</text>
<text transform="translate(119.81 210.82) rotate(14.36) scale(0.83 1)" text-anchor="end" dominant-baseline="central" font-size="5.0" font-weight="normal" fill="#3a3a3a" stroke="#3a3a3a" stroke-width="0.08">ERR047294</text>
<text transform="translate(121.13 206.00) rotate(16.22) scale(0.83 1)" text-anchor="end" dominant-baseline="central" font-size="5.0" font-weight="normal" fill="#3a3a3a" stroke="#3a3a3a" stroke-width="0.08">ERR048286</text>
<text transform="translate(122.60 201.22) rotate(18.08) scale(0.83 1)" text-anchor="end" dominant-baseline="central" font-size="5.0" font-weight="normal" fill="#3a3a3a" stroke="#3a3a3a" stroke-width="0.08">ERR047236</text>
</g>
<path d="M109.22,158.97A183.4,183.4 0 1 1 95.60,189.28L99.57,190.64A179.2,179.2 0 1 0 112.88,161.03Z" fill="#eceaf4" stroke="none"/>
<path d="M201.64,78.42A183.4,183.4 0 0 1 207.21,76.32L208.63,80.28A179.2,179.2 0 0 0 203.18,82.32Z" fill="#5d9fd6"/>
<path d="M295.18,67.48A183.4,183.4 0 0 1 301.05,68.42L300.32,72.56A179.2,179.2 0 0 0 294.58,71.63Z" fill="#5d9fd6"/>
<path d="M306.89,69.56A183.4,183.4 0 0 1 312.70,70.88L311.70,74.96A179.2,179.2 0 0 0 306.03,73.67Z" fill="#5d9fd6"/>
<path d="M329.81,75.97A183.4,183.4 0 0 1 381.81,104.40L379.23,107.71A179.2,179.2 0 0 0 328.41,79.94Z" fill="#5d9fd6"/>
<path d="M386.44,108.13A183.4,183.4 0 0 1 390.95,112.02L388.16,115.16A179.2,179.2 0 0 0 383.75,111.36Z" fill="#5d9fd6"/>
<path d="M418.67,143.01A183.4,183.4 0 0 1 422.03,147.92L418.53,150.24A179.2,179.2 0 0 0 415.24,145.44Z" fill="#5d9fd6"/>
<path d="M425.23,152.94A183.4,183.4 0 0 1 428.27,158.06L424.62,160.14A179.2,179.2 0 0 0 421.65,155.14Z" fill="#5d9fd6"/>
<path d="M448.95,213.60A183.4,183.4 0 0 1 450.87,225.35L446.70,225.89A179.2,179.2 0 0 0 444.83,214.41Z" fill="#5d9fd6"/>
<path d="M452.31,243.14A183.4,183.4 0 0 1 452.40,249.09L448.20,249.09A179.2,179.2 0 0 0 448.11,243.27Z" fill="#5d9fd6"/>
<path d="M452.30,255.04A183.4,183.4 0 0 1 447.67,290.40L443.58,289.45A179.2,179.2 0 0 0 448.10,254.90Z" fill="#5d9fd6"/>
<path d="M446.23,296.17A183.4,183.4 0 0 1 436.28,324.19L432.45,322.47A179.2,179.2 0 0 0 442.17,295.09Z" fill="#5d9fd6"/>
<path d="M411.37,364.61A183.4,183.4 0 0 1 395.20,382.07L392.31,379.03A179.2,179.2 0 0 0 408.11,361.97Z" fill="#5d9fd6"/>
<path d="M295.00,430.55A183.4,183.4 0 0 1 283.17,431.85L282.84,427.66A179.2,179.2 0 0 0 294.40,426.39Z" fill="#5d9fd6"/>
<path d="M271.28,432.39A183.4,183.4 0 0 1 265.32,432.36L265.41,428.16A179.2,179.2 0 0 0 271.22,428.19Z" fill="#5d9fd6"/>
<path d="M207.04,421.62A183.4,183.4 0 0 1 137.57,376.91L140.58,373.98A179.2,179.2 0 0 0 208.46,417.66Z" fill="#5d9fd6"/>
<path d="M98.84,317.42A183.4,183.4 0 0 1 91.42,294.82L95.48,293.77A179.2,179.2 0 0 0 102.74,315.86Z" fill="#5d9fd6"/>
<path d="M85.66,253.64A183.4,183.4 0 0 1 85.60,247.69L89.80,247.72A179.2,179.2 0 0 0 89.86,253.54Z" fill="#5d9fd6"/>
<path d="M86.08,235.80A183.4,183.4 0 0 1 88.23,218.08L92.37,218.79A179.2,179.2 0 0 0 90.26,236.10Z" fill="#5d9fd6"/>
<path d="M112.88,161.03A179.2,179.2 0 1 1 99.57,190.64" fill="none" stroke="#c8c8d0" stroke-width="0.5"/>
<path d="M109.22,158.97A183.4,183.4 0 1 1 95.60,189.28" fill="none" stroke="#c8c8d0" stroke-width="0.5"/>
<path d="M196.13,64.47A198.4,198.4 0 0 1 202.16,62.20L203.54,66.06A194.3,194.3 0 0 0 197.64,68.28Z" fill="#a9dba1"/>
<path d="M297.32,52.63A198.4,198.4 0 0 1 303.67,53.65L302.96,57.69A194.3,194.3 0 0 0 296.73,56.69Z" fill="#a9dba1"/>
<path d="M309.99,54.88A198.4,198.4 0 0 1 316.27,56.31L315.30,60.30A194.3,194.3 0 0 0 309.15,58.89Z" fill="#f8b27a"/>
<path d="M334.78,61.82A198.4,198.4 0 0 1 391.04,92.57L388.51,95.80A194.3,194.3 0 0 0 333.42,65.69Z" fill="#a9dba1"/>
<path d="M396.05,96.61A198.4,198.4 0 0 1 400.93,100.82L398.20,103.88A194.3,194.3 0 0 0 393.42,99.76Z" fill="#a9dba1"/>
<path d="M430.91,134.34A198.4,198.4 0 0 1 434.55,139.65L431.13,141.91A194.3,194.3 0 0 0 427.57,136.71Z" fill="#f8b27a"/>
<path d="M438.01,145.08A198.4,198.4 0 0 1 441.29,150.62L437.73,152.66A194.3,194.3 0 0 0 434.52,147.23Z" fill="#e4462e"/>
<path d="M463.67,210.70A198.4,198.4 0 0 1 465.74,223.41L461.68,223.94A194.3,194.3 0 0 0 459.65,211.49Z" fill="#e4462e"/>
<path d="M467.30,242.66A198.4,198.4 0 0 1 467.40,249.10L463.30,249.09A194.3,194.3 0 0 0 463.20,242.79Z" fill="#e4462e"/>
<path d="M467.29,255.53A198.4,198.4 0 0 1 462.28,293.78L458.29,292.86A194.3,194.3 0 0 0 463.19,255.40Z" fill="#e4462e"/>
<path d="M460.72,300.03A198.4,198.4 0 0 1 458.97,306.23L455.04,305.04A194.3,194.3 0 0 0 456.76,298.98Z" fill="#f8b27a"/>
<path d="M458.97,306.23A198.4,198.4 0 0 1 449.96,330.34L446.22,328.66A194.3,194.3 0 0 0 455.04,305.04Z" fill="#e4462e"/>
<path d="M423.01,374.07A198.4,198.4 0 0 1 405.52,392.96L402.70,389.98A194.3,194.3 0 0 0 419.83,371.49Z" fill="#e4462e"/>
<path d="M297.13,445.40A198.4,198.4 0 0 1 284.33,446.81L284.01,442.72A194.3,194.3 0 0 0 296.54,441.34Z" fill="#a9dba1"/>
<path d="M271.46,447.38A198.4,198.4 0 0 1 265.02,447.36L265.11,443.26A194.3,194.3 0 0 0 271.41,443.29Z" fill="#a9dba1"/>
<path d="M201.98,435.74A198.4,198.4 0 0 1 190.00,431.00L191.64,427.23A194.3,194.3 0 0 0 203.36,431.88Z" fill="#a9dba1"/>
<path d="M190.00,431.00A198.4,198.4 0 0 1 126.82,387.37L129.75,384.51A194.3,194.3 0 0 0 191.64,427.23Z" fill="#e4462e"/>
<path d="M84.93,323.02A198.4,198.4 0 0 1 82.62,317.01L86.47,315.60A194.3,194.3 0 0 0 88.73,321.49Z" fill="#f8b27a"/>
<path d="M82.62,317.01A198.4,198.4 0 0 1 78.60,304.78L82.54,303.62A194.3,194.3 0 0 0 86.47,315.60Z" fill="#a9dba1"/>
<path d="M78.60,304.78A198.4,198.4 0 0 1 76.89,298.57L80.86,297.54A194.3,194.3 0 0 0 82.54,303.62Z" fill="#e4462e"/>
<path d="M70.66,254.02A198.4,198.4 0 0 1 70.61,247.58L74.70,247.61A194.3,194.3 0 0 0 74.76,253.92Z" fill="#a9dba1"/>
<path d="M71.11,234.72A198.4,198.4 0 0 1 72.46,221.91L76.52,222.47A194.3,194.3 0 0 0 75.20,235.01Z" fill="#f8b27a"/>
<path d="M72.46,221.91A198.4,198.4 0 0 1 73.44,215.55L77.48,216.24A194.3,194.3 0 0 0 76.52,222.47Z" fill="#e4462e"/>
<path d="M99.72,153.62A194.3,194.3 0 1 1 85.29,185.73" fill="none" stroke="#bdbdbd" stroke-width="0.5"/>
<path d="M96.15,151.60A198.4,198.4 0 1 1 81.41,184.39" fill="none" stroke="#bdbdbd" stroke-width="0.5"/>
<path d="M67.92,135.70A230.8,230.8 0 0 1 138.06,58.94L140.55,62.56A226.4,226.4 0 0 0 71.76,137.86Z" fill="#fdd731" stroke="#fdd731" stroke-width="0.15"/>
<path d="M138.06,58.94A230.8,230.8 0 0 1 205.50,27.11L206.71,31.34A226.4,226.4 0 0 0 140.55,62.56Z" fill="#e57cc5" stroke="#e57cc5" stroke-width="0.15"/>
<path d="M205.50,27.11A230.8,230.8 0 0 1 220.03,23.46L220.96,27.76A226.4,226.4 0 0 0 206.71,31.34Z" fill="#fdd731" stroke="#fdd731" stroke-width="0.15"/>
<path d="M220.03,23.46A230.8,230.8 0 0 1 338.42,28.89L337.09,33.08A226.4,226.4 0 0 0 220.96,27.76Z" fill="#e0bd85" stroke="#e0bd85" stroke-width="0.15"/>
<path d="M338.42,28.89A230.8,230.8 0 0 1 482.56,161.47L478.49,163.14A226.4,226.4 0 0 0 337.09,33.08Z" fill="#f47d4c" stroke="#f47d4c" stroke-width="0.15"/>
<path d="M482.56,161.47A230.8,230.8 0 0 1 398.68,439.93L396.20,436.29A226.4,226.4 0 0 0 478.49,163.14Z" fill="#7a8ccc" stroke="#7a8ccc" stroke-width="0.15"/>
<path d="M398.68,439.93A230.8,230.8 0 0 1 359.28,461.41L357.56,457.36A226.4,226.4 0 0 0 396.20,436.29Z" fill="#8fce4e" stroke="#8fce4e" stroke-width="0.15"/>
<path d="M359.28,461.41A230.8,230.8 0 0 1 103.60,409.97L106.75,406.90A226.4,226.4 0 0 0 357.56,457.36Z" fill="#7a8ccc" stroke="#7a8ccc" stroke-width="0.15"/>
<path d="M103.60,409.97A230.8,230.8 0 0 1 50.78,173.84L54.94,175.27A226.4,226.4 0 0 0 106.75,406.90Z" fill="#52bd96" stroke="#52bd96" stroke-width="0.15"/>
<path d="M71.76,137.86A226.4,226.4 0 1 1 54.94,175.27" fill="none" stroke="#000" stroke-opacity="0.18" stroke-width="0.4"/>
<path d="M67.92,135.70A230.8,230.8 0 1 1 50.78,173.84" fill="none" stroke="#000" stroke-opacity="0.18" stroke-width="0.4"/>
<path d="M106.8,154.1L105.7,153.4" stroke="#4a4a4a" stroke-width="0.85"/>
<path d="M94.9,147.2L93.8,146.5" stroke="#4a4a4a" stroke-width="0.85"/>
<path d="M90.0,144.3L88.9,143.6" stroke="#4a4a4a" stroke-width="0.85"/>
<path d="M84.4,141.0L83.3,140.4" stroke="#4a4a4a" stroke-width="0.85"/>
<path d="M109.9,148.9L108.8,148.2" stroke="#4a4a4a" stroke-width="0.85"/>
<path d="M98.3,141.6L97.2,140.9" stroke="#4a4a4a" stroke-width="0.85"/>
<path d="M93.5,138.5L92.4,137.8" stroke="#4a4a4a" stroke-width="0.85"/>
<path d="M88.0,135.1L86.9,134.4" stroke="#4a4a4a" stroke-width="0.85"/>
<path d="M113.3,143.8L112.2,143.0" stroke="#4a4a4a" stroke-width="0.85"/>
<path d="M101.9,136.1L100.8,135.4" stroke="#4a4a4a" stroke-width="0.85"/>
<path d="M97.2,132.9L96.1,132.2" stroke="#4a4a4a" stroke-width="0.85"/>
<path d="M91.8,129.3L90.7,128.5" stroke="#4a4a4a" stroke-width="0.85"/>
<path d="M116.8,138.8L115.7,138.0" stroke="#4a4a4a" stroke-width="0.85"/>
<path d="M105.7,130.7L104.6,130.0" stroke="#4a4a4a" stroke-width="0.85"/>
<path d="M101.1,127.4L100.0,126.6" stroke="#4a4a4a" stroke-width="0.85"/>
<path d="M95.8,123.6L94.7,122.8" stroke="#4a4a4a" stroke-width="0.85"/>
<path d="M120.4,133.9L119.4,133.1" stroke="#4a4a4a" stroke-width="0.85"/>
<path d="M109.6,125.5L108.6,124.7" stroke="#4a4a4a" stroke-width="0.85"/>
<path d="M105.1,122.0L104.1,121.2" stroke="#4a4a4a" stroke-width="0.85"/>
<path d="M100.0,118.0L98.9,117.2" stroke="#4a4a4a" stroke-width="0.85"/>
<path d="M124.2,129.1L123.2,128.3" stroke="#4a4a4a" stroke-width="0.85"/>
<path d="M113.7,120.4L112.7,119.6" stroke="#4a4a4a" stroke-width="0.85"/>
<path d="M109.3,116.8L108.3,115.9" stroke="#4a4a4a" stroke-width="0.85"/>
<path d="M104.3,112.6L103.3,111.8" stroke="#4a4a4a" stroke-width="0.85"/>
<path d="M128.2,124.5L127.2,123.6" stroke="#4a4a4a" stroke-width="0.85"/>
<path d="M117.9,115.4L117.0,114.6" stroke="#4a4a4a" stroke-width="0.85"/>
<path d="M113.7,111.6L112.7,110.8" stroke="#4a4a4a" stroke-width="0.85"/>
<path d="M108.8,107.3L107.8,106.5" stroke="#4a4a4a" stroke-width="0.85"/>
<path d="M132.3,120.0L131.4,119.1" stroke="#4a4a4a" stroke-width="0.85"/>
<path d="M122.4,110.6L121.4,109.7" stroke="#4a4a4a" stroke-width="0.85"/>
<path d="M118.2,106.7L117.3,105.8" stroke="#4a4a4a" stroke-width="0.85"/>
<path d="M113.5,102.2L112.5,101.3" stroke="#4a4a4a" stroke-width="0.85"/>
<path d="M136.6,115.6L135.7,114.7" stroke="#4a4a4a" stroke-width="0.85"/>
<path d="M126.9,105.9L126.0,105.0" stroke="#4a4a4a" stroke-width="0.85"/>
<path d="M122.9,101.9L122.0,100.9" stroke="#4a4a4a" stroke-width="0.85"/>
<path d="M118.3,97.2L117.4,96.3" stroke="#4a4a4a" stroke-width="0.85"/>
<path d="M141.0,111.4L140.1,110.4" stroke="#4a4a4a" stroke-width="0.85"/>
<path d="M131.6,101.4L130.8,100.4" stroke="#4a4a4a" stroke-width="0.85"/>
<text x="127.32" y="96.71" transform="rotate(47.07 127.32 96.71)" text-anchor="middle" dominant-baseline="central" font-size="5.0" fill="#333">~</text>
<path d="M123.3,92.4L122.5,91.5" stroke="#4a4a4a" stroke-width="0.85"/>
<path d="M145.5,107.3L144.7,106.3" stroke="#4a4a4a" stroke-width="0.85"/>
<path d="M136.5,97.0L135.7,96.0" stroke="#4a4a4a" stroke-width="0.85"/>
<path d="M132.8,92.7L131.9,91.7" stroke="#4a4a4a" stroke-width="0.85"/>
<path d="M128.5,87.8L127.6,86.8" stroke="#4a4a4a" stroke-width="0.85"/>
<path d="M150.2,103.4L149.4,102.4" stroke="#4a4a4a" stroke-width="0.85"/>
<path d="M141.5,92.8L140.7,91.8" stroke="#4a4a4a" stroke-width="0.85"/>
<path d="M137.9,88.3L137.1,87.3" stroke="#4a4a4a" stroke-width="0.85"/>
<path d="M133.8,83.3L133.0,82.3" stroke="#4a4a4a" stroke-width="0.85"/>
<path d="M155.0,99.6L154.2,98.6" stroke="#4a4a4a" stroke-width="0.85"/>
<path d="M146.6,88.7L145.9,87.7" stroke="#4a4a4a" stroke-width="0.85"/>
<path d="M143.2,84.2L142.4,83.1" stroke="#4a4a4a" stroke-width="0.85"/>
<path d="M139.2,79.0L138.5,78.0" stroke="#4a4a4a" stroke-width="0.85"/>
<path d="M159.9,96.0L159.1,94.9" stroke="#4a4a4a" stroke-width="0.85"/>
<path d="M151.9,84.8L151.2,83.8" stroke="#4a4a4a" stroke-width="0.85"/>
<path d="M148.6,80.2L147.9,79.1" stroke="#4a4a4a" stroke-width="0.85"/>
<path d="M144.8,74.9L144.1,73.8" stroke="#4a4a4a" stroke-width="0.85"/>
<path d="M164.9,92.5L164.2,91.4" stroke="#4a4a4a" stroke-width="0.85"/>
<path d="M157.3,81.1L156.6,80.0" stroke="#4a4a4a" stroke-width="0.85"/>
<path d="M154.1,76.4L153.4,75.3" stroke="#4a4a4a" stroke-width="0.85"/>
<path d="M150.5,71.0L149.8,69.9" stroke="#4a4a4a" stroke-width="0.85"/>
<path d="M170.0,89.2L169.3,88.1" stroke="#4a4a4a" stroke-width="0.85"/>
<path d="M162.8,77.6L162.1,76.5" stroke="#4a4a4a" stroke-width="0.85"/>
<path d="M159.8,72.7L159.1,71.6" stroke="#4a4a4a" stroke-width="0.85"/>
<path d="M156.4,67.2L155.7,66.1" stroke="#4a4a4a" stroke-width="0.85"/>
<path d="M175.3,86.1L174.6,85.0" stroke="#4a4a4a" stroke-width="0.85"/>
<path d="M168.4,74.2L167.8,73.1" stroke="#4a4a4a" stroke-width="0.85"/>
<path d="M165.6,69.3L164.9,68.2" stroke="#4a4a4a" stroke-width="0.85"/>
<path d="M162.3,63.6L161.7,62.5" stroke="#4a4a4a" stroke-width="0.85"/>
<path d="M180.6,83.1L180.0,82.0" stroke="#4a4a4a" stroke-width="0.85"/>
<path d="M174.2,71.0L173.5,69.9" stroke="#4a4a4a" stroke-width="0.85"/>
<path d="M171.5,66.0L170.9,64.9" stroke="#4a4a4a" stroke-width="0.85"/>
<path d="M168.4,60.3L167.8,59.1" stroke="#4a4a4a" stroke-width="0.85"/>
<path d="M186.0,80.4L185.5,79.2" stroke="#4a4a4a" stroke-width="0.85"/>
<path d="M180.0,68.1L179.4,66.9" stroke="#4a4a4a" stroke-width="0.85"/>
<path d="M177.5,62.9L176.9,61.8" stroke="#4a4a4a" stroke-width="0.85"/>
<path d="M174.6,57.1L174.0,56.0" stroke="#4a4a4a" stroke-width="0.85"/>
<path d="M191.5,77.8L191.0,76.6" stroke="#4a4a4a" stroke-width="0.85"/>
<path d="M185.9,65.3L185.4,64.1" stroke="#4a4a4a" stroke-width="0.85"/>
<path d="M183.5,60.1L183.0,58.9" stroke="#4a4a4a" stroke-width="0.85"/>
<path d="M180.9,54.2L180.3,53.0" stroke="#4a4a4a" stroke-width="0.85"/>
<path d="M197.1,75.3L196.6,74.1" stroke="#4a4a4a" stroke-width="0.85"/>
<path d="M191.9,62.7L191.4,61.5" stroke="#4a4a4a" stroke-width="0.85"/>
<path d="M189.7,57.4L189.2,56.2" stroke="#4a4a4a" stroke-width="0.85"/>
<path d="M187.2,51.4L186.7,50.2" stroke="#4a4a4a" stroke-width="0.85"/>
<text x="202.59" y="72.48" transform="rotate(69.38 202.59 72.48)" text-anchor="middle" dominant-baseline="central" font-size="5.2" font-weight="bold" fill="#333">M</text>
<path d="M198.0,60.3L197.5,59.0" stroke="#4a4a4a" stroke-width="0.85"/>
<path d="M196.0,54.9L195.5,53.7" stroke="#4a4a4a" stroke-width="0.85"/>
<path d="M193.7,48.8L193.2,47.6" stroke="#4a4a4a" stroke-width="0.85"/>
<path d="M208.6,71.0L208.1,69.8" stroke="#4a4a4a" stroke-width="0.85"/>
<path d="M204.2,58.1L203.7,56.8" stroke="#4a4a4a" stroke-width="0.85"/>
<path d="M202.3,52.7L201.9,51.4" stroke="#4a4a4a" stroke-width="0.85"/>
<path d="M200.2,46.5L199.8,45.3" stroke="#4a4a4a" stroke-width="0.85"/>
<path d="M214.4,69.2L214.0,67.9" stroke="#4a4a4a" stroke-width="0.85"/>
<path d="M210.4,56.1L210.0,54.8" stroke="#4a4a4a" stroke-width="0.85"/>
<path d="M208.7,50.6L208.3,49.4" stroke="#4a4a4a" stroke-width="0.85"/>
<path d="M206.8,44.4L206.5,43.1" stroke="#4a4a4a" stroke-width="0.85"/>
<path d="M220.2,67.5L219.9,66.2" stroke="#4a4a4a" stroke-width="0.85"/>
<path d="M216.7,54.3L216.3,53.0" stroke="#4a4a4a" stroke-width="0.85"/>
<path d="M215.2,48.8L214.9,47.5" stroke="#4a4a4a" stroke-width="0.85"/>
<path d="M213.5,42.5L213.2,41.2" stroke="#4a4a4a" stroke-width="0.85"/>
<path d="M226.1,66.0L225.8,64.7" stroke="#4a4a4a" stroke-width="0.85"/>
<path d="M223.0,52.7L222.7,51.4" stroke="#4a4a4a" stroke-width="0.85"/>
<path d="M221.7,47.1L221.4,45.8" stroke="#4a4a4a" stroke-width="0.85"/>
<path d="M220.2,40.8L219.9,39.5" stroke="#4a4a4a" stroke-width="0.85"/>
<path d="M232.1,64.7L231.9,63.4" stroke="#4a4a4a" stroke-width="0.85"/>
<path d="M229.4,51.3L229.2,50.0" stroke="#4a4a4a" stroke-width="0.85"/>
<path d="M228.3,45.7L228.0,44.4" stroke="#4a4a4a" stroke-width="0.85"/>
<path d="M227.0,39.3L226.8,38.0" stroke="#4a4a4a" stroke-width="0.85"/>
<path d="M238.1,63.6L237.9,62.3" stroke="#4a4a4a" stroke-width="0.85"/>
<path d="M235.9,50.1L235.6,48.8" stroke="#4a4a4a" stroke-width="0.85"/>
<path d="M234.9,44.5L234.7,43.2" stroke="#4a4a4a" stroke-width="0.85"/>
<path d="M233.8,38.1L233.6,36.8" stroke="#4a4a4a" stroke-width="0.85"/>
<path d="M244.1,62.7L244.0,61.4" stroke="#4a4a4a" stroke-width="0.85"/>
<path d="M242.3,49.1L242.2,47.8" stroke="#4a4a4a" stroke-width="0.85"/>
<path d="M241.6,43.5L241.4,42.2" stroke="#4a4a4a" stroke-width="0.85"/>
<path d="M240.7,37.0L240.5,35.7" stroke="#4a4a4a" stroke-width="0.85"/>
<path d="M250.2,62.0L250.1,60.7" stroke="#4a4a4a" stroke-width="0.85"/>
<path d="M248.8,48.4L248.7,47.1" stroke="#4a4a4a" stroke-width="0.85"/>
<path d="M248.3,42.7L248.1,41.4" stroke="#4a4a4a" stroke-width="0.85"/>
<path d="M247.6,36.2L247.5,34.9" stroke="#4a4a4a" stroke-width="0.85"/>
<path d="M256.3,61.5L256.2,60.2" stroke="#4a4a4a" stroke-width="0.85"/>
<path d="M255.3,47.8L255.3,46.5" stroke="#4a4a4a" stroke-width="0.85"/>
<path d="M255.0,42.1L254.9,40.8" stroke="#4a4a4a" stroke-width="0.85"/>
<path d="M254.5,35.6L254.4,34.3" stroke="#4a4a4a" stroke-width="0.85"/>
<path d="M262.4,61.2L262.3,59.9" stroke="#4a4a4a" stroke-width="0.85"/>
<path d="M261.9,47.5L261.8,46.2" stroke="#4a4a4a" stroke-width="0.85"/>
<path d="M261.7,41.8L261.6,40.5" stroke="#4a4a4a" stroke-width="0.85"/>
<path d="M261.5,35.3L261.4,34.0" stroke="#4a4a4a" stroke-width="0.85"/>
<path d="M268.5,61.1L268.5,59.8" stroke="#4a4a4a" stroke-width="0.85"/>
<path d="M268.4,47.4L268.4,46.1" stroke="#4a4a4a" stroke-width="0.85"/>
<path d="M268.4,41.7L268.4,40.4" stroke="#4a4a4a" stroke-width="0.85"/>
<path d="M268.4,35.2L268.4,33.9" stroke="#4a4a4a" stroke-width="0.85"/>
<path d="M274.6,61.1L274.6,59.8" stroke="#4a4a4a" stroke-width="0.85"/>
<path d="M275.0,47.4L275.0,46.1" stroke="#4a4a4a" stroke-width="0.85"/>
<path d="M275.1,41.7L275.2,40.4" stroke="#4a4a4a" stroke-width="0.85"/>
<path d="M275.3,35.2L275.4,33.9" stroke="#4a4a4a" stroke-width="0.85"/>
<path d="M280.7,61.4L280.7,60.1" stroke="#4a4a4a" stroke-width="0.85"/>
<path d="M281.5,47.7L281.6,46.4" stroke="#4a4a4a" stroke-width="0.85"/>
<path d="M281.9,42.0L281.9,40.8" stroke="#4a4a4a" stroke-width="0.85"/>
<path d="M282.3,35.6L282.3,34.3" stroke="#4a4a4a" stroke-width="0.85"/>
<path d="M286.7,61.9L286.9,60.6" stroke="#4a4a4a" stroke-width="0.85"/>
<path d="M288.0,48.3L288.2,47.0" stroke="#4a4a4a" stroke-width="0.85"/>
<path d="M288.6,42.6L288.7,41.3" stroke="#4a4a4a" stroke-width="0.85"/>
<path d="M289.2,36.1L289.3,34.8" stroke="#4a4a4a" stroke-width="0.85"/>
<path d="M292.8,62.6L293.0,61.3" stroke="#4a4a4a" stroke-width="0.85"/>
<path d="M294.5,49.0L294.7,47.7" stroke="#4a4a4a" stroke-width="0.85"/>
<path d="M295.3,43.3L295.4,42.0" stroke="#4a4a4a" stroke-width="0.85"/>
<path d="M296.1,36.9L296.2,35.6" stroke="#4a4a4a" stroke-width="0.85"/>
<text x="298.94" y="62.79" transform="rotate(279.14 298.94 62.79)" text-anchor="middle" dominant-baseline="central" font-size="5.2" font-weight="bold" fill="#333">M</text>
<path d="M301.0,49.9L301.2,48.6" stroke="#4a4a4a" stroke-width="0.85"/>
<path d="M301.9,44.3L302.1,43.0" stroke="#4a4a4a" stroke-width="0.85"/>
<path d="M303.0,37.9L303.2,36.6" stroke="#4a4a4a" stroke-width="0.85"/>
<path d="M304.8,64.5L305.1,63.2" stroke="#4a4a4a" stroke-width="0.85"/>
<path d="M307.5,51.1L307.7,49.8" stroke="#4a4a4a" stroke-width="0.85"/>
<path d="M308.5,45.5L308.8,44.2" stroke="#4a4a4a" stroke-width="0.85"/>
<path d="M309.8,39.1L310.0,37.8" stroke="#4a4a4a" stroke-width="0.85"/>
<text x="310.96" y="65.13" transform="rotate(282.85 310.96 65.13)" text-anchor="middle" dominant-baseline="central" font-size="5.2" font-weight="bold" fill="#333">F</text>
<path d="M313.9,52.4L314.2,51.1" stroke="#4a4a4a" stroke-width="0.85"/>
<path d="M315.1,46.8L315.4,45.6" stroke="#4a4a4a" stroke-width="0.85"/>
<path d="M316.6,40.5L316.9,39.2" stroke="#4a4a4a" stroke-width="0.85"/>
<path d="M316.7,67.2L317.1,66.0" stroke="#4a4a4a" stroke-width="0.85"/>
<path d="M320.2,54.0L320.5,52.7" stroke="#4a4a4a" stroke-width="0.85"/>
<path d="M321.7,48.4L322.0,47.2" stroke="#4a4a4a" stroke-width="0.85"/>
<path d="M323.3,42.2L323.6,40.9" stroke="#4a4a4a" stroke-width="0.85"/>
<path d="M322.6,68.9L323.0,67.6" stroke="#4a4a4a" stroke-width="0.85"/>
<path d="M326.5,55.7L326.9,54.5" stroke="#4a4a4a" stroke-width="0.85"/>
<path d="M328.1,50.3L328.5,49.0" stroke="#4a4a4a" stroke-width="0.85"/>
<path d="M330.0,44.0L330.4,42.8" stroke="#4a4a4a" stroke-width="0.85"/>
<path d="M328.4,70.7L328.8,69.5" stroke="#4a4a4a" stroke-width="0.85"/>
<path d="M332.8,57.7L333.2,56.5" stroke="#4a4a4a" stroke-width="0.85"/>
<path d="M334.6,52.3L335.0,51.1" stroke="#4a4a4a" stroke-width="0.85"/>
<path d="M336.6,46.1L337.0,44.9" stroke="#4a4a4a" stroke-width="0.85"/>
<text x="334.41" y="72.11" transform="rotate(290.29 334.41 72.11)" text-anchor="middle" dominant-baseline="central" font-size="5.2" font-weight="bold" fill="#333">M</text>
<path d="M338.9,59.9L339.4,58.6" stroke="#4a4a4a" stroke-width="0.85"/>
<path d="M340.9,54.5L341.4,53.3" stroke="#4a4a4a" stroke-width="0.85"/>
<path d="M343.2,48.4L343.6,47.2" stroke="#4a4a4a" stroke-width="0.85"/>
<text x="340.12" y="74.32" transform="rotate(292.15 340.12 74.32)" text-anchor="middle" dominant-baseline="central" font-size="5.2" font-weight="bold" fill="#333">M</text>
<path d="M345.0,62.2L345.5,61.0" stroke="#4a4a4a" stroke-width="0.85"/>
<path d="M347.2,57.0L347.7,55.8" stroke="#4a4a4a" stroke-width="0.85"/>
<path d="M349.6,50.9L350.1,49.7" stroke="#4a4a4a" stroke-width="0.85"/>
<text x="345.75" y="76.72" transform="rotate(294.01 345.75 76.72)" text-anchor="middle" dominant-baseline="central" font-size="5.2" font-weight="bold" fill="#333">M</text>
<path d="M351.1,64.8L351.6,63.6" stroke="#4a4a4a" stroke-width="0.85"/>
<path d="M353.4,59.6L353.9,58.4" stroke="#4a4a4a" stroke-width="0.85"/>
<path d="M356.0,53.7L356.6,52.5" stroke="#4a4a4a" stroke-width="0.85"/>
<text x="351.30" y="79.30" transform="rotate(295.87 351.30 79.30)" text-anchor="middle" dominant-baseline="central" font-size="5.2" font-weight="bold" fill="#333">M</text>
<path d="M357.0,67.6L357.6,66.4" stroke="#4a4a4a" stroke-width="0.85"/>
<path d="M359.5,62.4L360.0,61.3" stroke="#4a4a4a" stroke-width="0.85"/>
<path d="M362.3,56.6L362.9,55.4" stroke="#4a4a4a" stroke-width="0.85"/>
<text x="356.76" y="82.06" transform="rotate(297.73 356.76 82.06)" text-anchor="middle" dominant-baseline="central" font-size="5.2" font-weight="bold" fill="#333">M</text>
<path d="M362.8,70.5L363.4,69.4" stroke="#4a4a4a" stroke-width="0.85"/>
<path d="M365.5,65.5L366.1,64.3" stroke="#4a4a4a" stroke-width="0.85"/>
<path d="M368.5,59.7L369.1,58.6" stroke="#4a4a4a" stroke-width="0.85"/>
<text x="362.13" y="85.00" transform="rotate(299.59 362.13 85.00)" text-anchor="middle" dominant-baseline="central" font-size="5.2" font-weight="bold" fill="#333">M</text>
<path d="M368.6,73.7L369.2,72.5" stroke="#4a4a4a" stroke-width="0.85"/>
<path d="M371.4,68.7L372.0,67.6" stroke="#4a4a4a" stroke-width="0.85"/>
<path d="M374.6,63.0L375.2,61.9" stroke="#4a4a4a" stroke-width="0.85"/>
<text x="367.40" y="88.11" transform="rotate(301.45 367.40 88.11)" text-anchor="middle" dominant-baseline="central" font-size="5.2" font-weight="bold" fill="#333">M</text>
<path d="M374.2,77.0L374.9,75.9" stroke="#4a4a4a" stroke-width="0.85"/>
<path d="M377.2,72.1L377.9,71.0" stroke="#4a4a4a" stroke-width="0.85"/>
<path d="M380.6,66.6L381.3,65.5" stroke="#4a4a4a" stroke-width="0.85"/>
<text x="372.57" y="91.38" transform="rotate(303.31 372.57 91.38)" text-anchor="middle" dominant-baseline="central" font-size="5.2" font-weight="bold" fill="#333">M</text>
<path d="M379.7,80.5L380.5,79.4" stroke="#4a4a4a" stroke-width="0.85"/>
<path d="M382.9,75.7L383.6,74.6" stroke="#4a4a4a" stroke-width="0.85"/>
<path d="M386.4,70.3L387.2,69.2" stroke="#4a4a4a" stroke-width="0.85"/>
<text x="377.63" y="94.83" transform="rotate(305.17 377.63 94.83)" text-anchor="middle" dominant-baseline="central" font-size="5.2" font-weight="bold" fill="#333">M</text>
<path d="M385.2,84.2L385.9,83.1" stroke="#4a4a4a" stroke-width="0.85"/>
<path d="M388.4,79.5L389.2,78.4" stroke="#4a4a4a" stroke-width="0.85"/>
<path d="M392.2,74.2L392.9,73.1" stroke="#4a4a4a" stroke-width="0.85"/>
<text x="382.58" y="98.44" transform="rotate(307.03 382.58 98.44)" text-anchor="middle" dominant-baseline="central" font-size="5.2" font-weight="bold" fill="#333">M</text>
<path d="M390.4,88.0L391.2,87.0" stroke="#4a4a4a" stroke-width="0.85"/>
<path d="M393.9,83.5L394.7,82.4" stroke="#4a4a4a" stroke-width="0.85"/>
<path d="M397.8,78.3L398.6,77.2" stroke="#4a4a4a" stroke-width="0.85"/>
<path d="M387.0,102.7L387.8,101.7" stroke="#4a4a4a" stroke-width="0.85"/>
<path d="M395.6,92.0L396.4,91.0" stroke="#4a4a4a" stroke-width="0.85"/>
<path d="M399.2,87.6L400.0,86.6" stroke="#4a4a4a" stroke-width="0.85"/>
<path d="M403.3,82.5L404.1,81.5" stroke="#4a4a4a" stroke-width="0.85"/>
<text x="392.11" y="106.12" transform="rotate(310.75 392.11 106.12)" text-anchor="middle" dominant-baseline="central" font-size="5.2" font-weight="bold" fill="#333">F</text>
<path d="M400.6,96.2L401.5,95.2" stroke="#4a4a4a" stroke-width="0.85"/>
<path d="M404.3,91.9L405.2,90.9" stroke="#4a4a4a" stroke-width="0.85"/>
<path d="M408.6,87.0L409.4,86.0" stroke="#4a4a4a" stroke-width="0.85"/>
<path d="M396.2,110.7L397.1,109.7" stroke="#4a4a4a" stroke-width="0.85"/>
<path d="M405.5,100.6L406.4,99.6" stroke="#4a4a4a" stroke-width="0.85"/>
<path d="M409.4,96.4L410.3,95.4" stroke="#4a4a4a" stroke-width="0.85"/>
<path d="M413.8,91.6L414.7,90.6" stroke="#4a4a4a" stroke-width="0.85"/>
<path d="M400.7,114.9L401.6,113.9" stroke="#4a4a4a" stroke-width="0.85"/>
<path d="M410.3,105.1L411.2,104.2" stroke="#4a4a4a" stroke-width="0.85"/>
<path d="M414.2,101.0L415.2,100.1" stroke="#4a4a4a" stroke-width="0.85"/>
<path d="M418.8,96.4L419.7,95.5" stroke="#4a4a4a" stroke-width="0.85"/>
<path d="M404.9,119.2L405.9,118.3" stroke="#4a4a4a" stroke-width="0.85"/>
<path d="M414.9,109.8L415.8,108.9" stroke="#4a4a4a" stroke-width="0.85"/>
<path d="M419.0,105.8L419.9,104.9" stroke="#4a4a4a" stroke-width="0.85"/>
<path d="M423.7,101.3L424.6,100.4" stroke="#4a4a4a" stroke-width="0.85"/>
<path d="M409.1,123.7L410.1,122.8" stroke="#4a4a4a" stroke-width="0.85"/>
<path d="M419.3,114.6L420.3,113.7" stroke="#4a4a4a" stroke-width="0.85"/>
<path d="M423.5,110.8L424.5,109.9" stroke="#4a4a4a" stroke-width="0.85"/>
<path d="M428.4,106.4L429.4,105.6" stroke="#4a4a4a" stroke-width="0.85"/>
<path d="M413.1,128.3L414.1,127.5" stroke="#4a4a4a" stroke-width="0.85"/>
<path d="M423.6,119.5L424.6,118.7" stroke="#4a4a4a" stroke-width="0.85"/>
<path d="M427.9,115.8L428.9,115.0" stroke="#4a4a4a" stroke-width="0.85"/>
<path d="M432.9,111.7L433.9,110.8" stroke="#4a4a4a" stroke-width="0.85"/>
<path d="M416.9,133.0L417.9,132.2" stroke="#4a4a4a" stroke-width="0.85"/>
<path d="M427.7,124.6L428.7,123.8" stroke="#4a4a4a" stroke-width="0.85"/>
<path d="M432.2,121.1L433.2,120.3" stroke="#4a4a4a" stroke-width="0.85"/>
<path d="M437.3,117.1L438.3,116.3" stroke="#4a4a4a" stroke-width="0.85"/>
<path d="M420.6,137.9L421.7,137.1" stroke="#4a4a4a" stroke-width="0.85"/>
<text x="432.18" y="129.42" transform="rotate(323.77 432.18 129.42)" text-anchor="middle" dominant-baseline="central" font-size="5.0" fill="#333">L</text>
<path d="M436.2,126.4L437.3,125.7" stroke="#4a4a4a" stroke-width="0.85"/>
<path d="M441.5,122.6L442.5,121.8" stroke="#4a4a4a" stroke-width="0.85"/>
<text x="424.66" y="142.52" transform="rotate(325.63 424.66 142.52)" text-anchor="middle" dominant-baseline="central" font-size="5.2" font-weight="bold" fill="#333">M</text>
<text x="435.97" y="134.78" transform="rotate(325.63 435.97 134.78)" text-anchor="middle" dominant-baseline="central" font-size="5.0" fill="#333">L</text>
<path d="M440.1,131.9L441.2,131.2" stroke="#4a4a4a" stroke-width="0.85"/>
<path d="M445.5,128.3L446.6,127.5" stroke="#4a4a4a" stroke-width="0.85"/>
<path d="M427.5,148.0L428.6,147.3" stroke="#4a4a4a" stroke-width="0.85"/>
<text x="439.59" y="140.26" transform="rotate(327.48 439.59 140.26)" text-anchor="middle" dominant-baseline="central" font-size="5.0" fill="#333">L</text>
<path d="M443.8,137.5L444.9,136.8" stroke="#4a4a4a" stroke-width="0.85"/>
<path d="M449.3,134.1L450.4,133.4" stroke="#4a4a4a" stroke-width="0.85"/>
<text x="431.24" y="152.84" transform="rotate(329.34 431.24 152.84)" text-anchor="middle" dominant-baseline="central" font-size="5.2" font-weight="bold" fill="#333">F</text>
<text x="443.03" y="145.85" transform="rotate(329.34 443.03 145.85)" text-anchor="middle" dominant-baseline="central" font-size="5.0" fill="#333">L</text>
<text x="447.93" y="142.95" transform="rotate(329.34 447.93 142.95)" text-anchor="middle" dominant-baseline="central" font-size="5.0" fill="#333">G</text>
<text x="453.52" y="139.63" transform="rotate(329.34 453.52 139.63)" text-anchor="middle" dominant-baseline="central" font-size="5.0" fill="#333">I</text>
<path d="M433.7,158.5L434.8,157.8" stroke="#4a4a4a" stroke-width="0.85"/>
<text x="446.28" y="151.55" transform="rotate(331.20 446.28 151.55)" text-anchor="middle" dominant-baseline="central" font-size="5.0" fill="#333">L</text>
<path d="M450.7,149.1L451.8,148.5" stroke="#4a4a4a" stroke-width="0.85"/>
<path d="M456.4,146.0L457.5,145.4" stroke="#4a4a4a" stroke-width="0.85"/>
<path d="M436.6,163.9L437.7,163.3" stroke="#4a4a4a" stroke-width="0.85"/>
<path d="M448.8,157.7L449.9,157.1" stroke="#4a4a4a" stroke-width="0.85"/>
<text x="454.43" y="154.78" transform="rotate(333.06 454.43 154.78)" text-anchor="middle" dominant-baseline="central" font-size="5.0" fill="#333">G</text>
<path d="M459.6,152.1L460.8,151.5" stroke="#4a4a4a" stroke-width="0.85"/>
<path d="M439.2,169.3L440.4,168.8" stroke="#4a4a4a" stroke-width="0.85"/>
<path d="M451.6,163.5L452.8,163.0" stroke="#4a4a4a" stroke-width="0.85"/>
<text x="457.39" y="160.84" transform="rotate(334.92 457.39 160.84)" text-anchor="middle" dominant-baseline="central" font-size="5.0" fill="#333">G</text>
<path d="M462.7,158.4L463.9,157.8" stroke="#4a4a4a" stroke-width="0.85"/>
<path d="M441.7,174.9L442.9,174.4" stroke="#4a4a4a" stroke-width="0.85"/>
<path d="M454.3,169.5L455.5,169.0" stroke="#4a4a4a" stroke-width="0.85"/>
<text x="460.16" y="167.00" transform="rotate(336.78 460.16 167.00)" text-anchor="middle" dominant-baseline="central" font-size="5.0" fill="#333">G</text>
<path d="M465.5,164.7L466.7,164.2" stroke="#4a4a4a" stroke-width="0.85"/>
<path d="M444.0,180.6L445.3,180.1" stroke="#4a4a4a" stroke-width="0.85"/>
<path d="M456.8,175.6L458.0,175.1" stroke="#4a4a4a" stroke-width="0.85"/>
<path d="M462.1,173.5L463.3,173.0" stroke="#4a4a4a" stroke-width="0.85"/>
<path d="M468.2,171.1L469.4,170.6" stroke="#4a4a4a" stroke-width="0.85"/>
<path d="M446.2,186.3L447.4,185.8" stroke="#4a4a4a" stroke-width="0.85"/>
<path d="M459.1,181.7L460.3,181.3" stroke="#4a4a4a" stroke-width="0.85"/>
<path d="M464.5,179.8L465.7,179.4" stroke="#4a4a4a" stroke-width="0.85"/>
<path d="M470.6,177.6L471.8,177.2" stroke="#4a4a4a" stroke-width="0.85"/>
<path d="M448.1,192.0L449.4,191.7" stroke="#4a4a4a" stroke-width="0.85"/>
<path d="M461.2,187.9L462.4,187.5" stroke="#4a4a4a" stroke-width="0.85"/>
<path d="M466.6,186.2L467.8,185.8" stroke="#4a4a4a" stroke-width="0.85"/>
<path d="M472.8,184.2L474.0,183.8" stroke="#4a4a4a" stroke-width="0.85"/>
<path d="M449.9,197.9L451.1,197.5" stroke="#4a4a4a" stroke-width="0.85"/>
<path d="M463.1,194.2L464.3,193.8" stroke="#4a4a4a" stroke-width="0.85"/>
<path d="M468.5,192.6L469.8,192.3" stroke="#4a4a4a" stroke-width="0.85"/>
<path d="M474.8,190.8L476.0,190.5" stroke="#4a4a4a" stroke-width="0.85"/>
<path d="M451.4,203.8L452.7,203.5" stroke="#4a4a4a" stroke-width="0.85"/>
<path d="M464.7,200.5L466.0,200.2" stroke="#4a4a4a" stroke-width="0.85"/>
<path d="M470.3,199.1L471.5,198.8" stroke="#4a4a4a" stroke-width="0.85"/>
<path d="M476.6,197.6L477.8,197.2" stroke="#4a4a4a" stroke-width="0.85"/>
<path d="M452.8,209.7L454.1,209.5" stroke="#4a4a4a" stroke-width="0.85"/>
<text x="466.84" y="206.73" transform="rotate(347.94 466.84 206.73)" text-anchor="middle" dominant-baseline="central" font-size="5.0" fill="#333">L</text>
<path d="M471.8,205.7L473.0,205.4" stroke="#4a4a4a" stroke-width="0.85"/>
<text x="478.77" y="204.18" transform="rotate(347.94 478.77 204.18)" text-anchor="middle" dominant-baseline="central" font-size="5.0" fill="#333">I</text>
<text x="454.62" y="215.60" transform="rotate(349.80 454.62 215.60)" text-anchor="middle" dominant-baseline="central" font-size="5.2" font-weight="bold" fill="#333">M</text>
<text x="468.10" y="213.18" transform="rotate(349.80 468.10 213.18)" text-anchor="middle" dominant-baseline="central" font-size="5.0" fill="#333">L</text>
<text x="473.71" y="212.17" transform="rotate(349.80 473.71 212.17)" text-anchor="middle" dominant-baseline="central" font-size="5.0" fill="#333">N</text>
<text x="480.11" y="211.02" transform="rotate(349.80 480.11 211.02)" text-anchor="middle" dominant-baseline="central" font-size="5.0" fill="#333">I</text>
<text x="455.61" y="221.64" transform="rotate(351.66 455.61 221.64)" text-anchor="middle" dominant-baseline="central" font-size="5.2" font-weight="bold" fill="#333">F</text>
<text x="469.16" y="219.66" transform="rotate(351.66 469.16 219.66)" text-anchor="middle" dominant-baseline="central" font-size="5.0" fill="#333">L</text>
<text x="474.80" y="218.83" transform="rotate(351.66 474.80 218.83)" text-anchor="middle" dominant-baseline="central" font-size="5.0" fill="#333">N</text>
<text x="481.23" y="217.89" transform="rotate(351.66 481.23 217.89)" text-anchor="middle" dominant-baseline="central" font-size="5.0" fill="#333">I</text>
<path d="M455.7,227.8L457.0,227.6" stroke="#4a4a4a" stroke-width="0.85"/>
<text x="470.01" y="226.17" transform="rotate(353.52 470.01 226.17)" text-anchor="middle" dominant-baseline="central" font-size="5.0" fill="#333">L</text>
<text x="475.67" y="225.52" transform="rotate(353.52 475.67 225.52)" text-anchor="middle" dominant-baseline="central" font-size="5.0" fill="#333">N</text>
<text x="482.13" y="224.79" transform="rotate(353.52 482.13 224.79)" text-anchor="middle" dominant-baseline="central" font-size="5.0" fill="#333">I</text>
<path d="M456.3,233.9L457.6,233.8" stroke="#4a4a4a" stroke-width="0.85"/>
<text x="470.64" y="232.70" transform="rotate(355.38 470.64 232.70)" text-anchor="middle" dominant-baseline="central" font-size="5.0" fill="#333">L</text>
<text x="476.32" y="232.24" transform="rotate(355.38 476.32 232.24)" text-anchor="middle" dominant-baseline="central" font-size="5.0" fill="#333">N</text>
<text x="482.80" y="231.72" transform="rotate(355.38 482.80 231.72)" text-anchor="middle" dominant-baseline="central" font-size="5.0" fill="#333">I</text>
<path d="M456.7,239.9L458.0,239.9" stroke="#4a4a4a" stroke-width="0.85"/>
<text x="471.07" y="239.25" transform="rotate(357.24 471.07 239.25)" text-anchor="middle" dominant-baseline="central" font-size="5.0" fill="#333">L</text>
<text x="476.76" y="238.98" transform="rotate(357.24 476.76 238.98)" text-anchor="middle" dominant-baseline="central" font-size="5.0" fill="#333">G</text>
<text x="483.25" y="238.67" transform="rotate(357.24 483.25 238.67)" text-anchor="middle" dominant-baseline="central" font-size="5.0" fill="#333">I</text>
<text x="457.58" y="246.03" transform="rotate(359.10 457.58 246.03)" text-anchor="middle" dominant-baseline="central" font-size="5.2" font-weight="bold" fill="#333">M</text>
<text x="471.27" y="245.82" transform="rotate(359.10 471.27 245.82)" text-anchor="middle" dominant-baseline="central" font-size="5.0" fill="#333">L</text>
<text x="476.97" y="245.73" transform="rotate(359.10 476.97 245.73)" text-anchor="middle" dominant-baseline="central" font-size="5.0" fill="#333">N</text>
<text x="483.47" y="245.62" transform="rotate(359.10 483.47 245.62)" text-anchor="middle" dominant-baseline="central" font-size="5.0" fill="#333">I</text>
<path d="M456.9,252.1L458.2,252.2" stroke="#4a4a4a" stroke-width="0.85"/>
<text x="471.27" y="252.38" transform="rotate(0.96 471.27 252.38)" text-anchor="middle" dominant-baseline="central" font-size="5.0" fill="#333">L</text>
<text x="476.97" y="252.48" transform="rotate(0.96 476.97 252.48)" text-anchor="middle" dominant-baseline="central" font-size="5.0" fill="#333">N</text>
<text x="483.47" y="252.58" transform="rotate(0.96 483.47 252.58)" text-anchor="middle" dominant-baseline="central" font-size="5.0" fill="#333">I</text>
<text x="457.37" y="258.27" transform="rotate(2.82 457.37 258.27)" text-anchor="middle" dominant-baseline="central" font-size="5.2" font-weight="bold" fill="#333">M</text>
<text x="471.06" y="258.94" transform="rotate(2.82 471.06 258.94)" text-anchor="middle" dominant-baseline="central" font-size="5.0" fill="#333">L</text>
<text x="476.75" y="259.22" transform="rotate(2.82 476.75 259.22)" text-anchor="middle" dominant-baseline="central" font-size="5.0" fill="#333">N</text>
<text x="483.24" y="259.54" transform="rotate(2.82 483.24 259.54)" text-anchor="middle" dominant-baseline="central" font-size="5.0" fill="#333">I</text>
<text x="456.97" y="264.38" transform="rotate(4.68 456.97 264.38)" text-anchor="middle" dominant-baseline="central" font-size="5.2" font-weight="bold" fill="#333">F</text>
<text x="470.63" y="265.49" transform="rotate(4.68 470.63 265.49)" text-anchor="middle" dominant-baseline="central" font-size="5.0" fill="#333">L</text>
<text x="476.31" y="265.96" transform="rotate(4.68 476.31 265.96)" text-anchor="middle" dominant-baseline="central" font-size="5.0" fill="#333">N</text>
<text x="482.79" y="266.49" transform="rotate(4.68 482.79 266.49)" text-anchor="middle" dominant-baseline="central" font-size="5.0" fill="#333">I</text>
<text x="456.37" y="270.47" transform="rotate(6.54 456.37 270.47)" text-anchor="middle" dominant-baseline="central" font-size="5.2" font-weight="bold" fill="#333">M</text>
<text x="469.98" y="272.03" transform="rotate(6.54 469.98 272.03)" text-anchor="middle" dominant-baseline="central" font-size="5.0" fill="#333">L</text>
<text x="475.65" y="272.68" transform="rotate(6.54 475.65 272.68)" text-anchor="middle" dominant-baseline="central" font-size="5.0" fill="#333">N</text>
<text x="482.11" y="273.42" transform="rotate(6.54 482.11 273.42)" text-anchor="middle" dominant-baseline="central" font-size="5.0" fill="#333">I</text>
<text x="455.58" y="276.54" transform="rotate(8.40 455.58 276.54)" text-anchor="middle" dominant-baseline="central" font-size="5.2" font-weight="bold" fill="#333">F</text>
<text x="469.13" y="278.54" transform="rotate(8.40 469.13 278.54)" text-anchor="middle" dominant-baseline="central" font-size="5.0" fill="#333">L</text>
<text x="474.77" y="279.37" transform="rotate(8.40 474.77 279.37)" text-anchor="middle" dominant-baseline="central" font-size="5.0" fill="#333">N</text>
<text x="481.20" y="280.32" transform="rotate(8.40 481.20 280.32)" text-anchor="middle" dominant-baseline="central" font-size="5.0" fill="#333">I</text>
<text x="454.59" y="282.58" transform="rotate(10.26 454.59 282.58)" text-anchor="middle" dominant-baseline="central" font-size="5.2" font-weight="bold" fill="#333">M</text>
<text x="468.07" y="285.02" transform="rotate(10.26 468.07 285.02)" text-anchor="middle" dominant-baseline="central" font-size="5.0" fill="#333">L</text>
<text x="473.68" y="286.03" transform="rotate(10.26 473.68 286.03)" text-anchor="middle" dominant-baseline="central" font-size="5.0" fill="#333">N</text>
<text x="480.07" y="287.19" transform="rotate(10.26 480.07 287.19)" text-anchor="middle" dominant-baseline="central" font-size="5.0" fill="#333">I</text>
<text x="453.40" y="288.58" transform="rotate(12.12 453.40 288.58)" text-anchor="middle" dominant-baseline="central" font-size="5.2" font-weight="bold" fill="#333">M</text>
<text x="466.79" y="291.46" transform="rotate(12.12 466.79 291.46)" text-anchor="middle" dominant-baseline="central" font-size="5.0" fill="#333">L</text>
<text x="472.37" y="292.65" transform="rotate(12.12 472.37 292.65)" text-anchor="middle" dominant-baseline="central" font-size="5.0" fill="#333">N</text>
<text x="478.72" y="294.02" transform="rotate(12.12 478.72 294.02)" text-anchor="middle" dominant-baseline="central" font-size="5.0" fill="#333">I</text>
<path d="M451.4,294.4L452.6,294.7" stroke="#4a4a4a" stroke-width="0.85"/>
<text x="465.31" y="297.85" transform="rotate(13.97 465.31 297.85)" text-anchor="middle" dominant-baseline="central" font-size="5.0" fill="#333">L</text>
<text x="470.84" y="299.23" transform="rotate(13.97 470.84 299.23)" text-anchor="middle" dominant-baseline="central" font-size="5.0" fill="#333">N</text>
<text x="477.15" y="300.80" transform="rotate(13.97 477.15 300.80)" text-anchor="middle" dominant-baseline="central" font-size="5.0" fill="#333">I</text>
<text x="450.44" y="300.46" transform="rotate(15.83 450.44 300.46)" text-anchor="middle" dominant-baseline="central" font-size="5.2" font-weight="bold" fill="#333">M</text>
<text x="463.62" y="304.20" transform="rotate(15.83 463.62 304.20)" text-anchor="middle" dominant-baseline="central" font-size="5.0" fill="#333">L</text>
<text x="469.11" y="305.75" transform="rotate(15.83 469.11 305.75)" text-anchor="middle" dominant-baseline="central" font-size="5.0" fill="#333">N</text>
<text x="475.36" y="307.53" transform="rotate(15.83 475.36 307.53)" text-anchor="middle" dominant-baseline="central" font-size="5.0" fill="#333">I</text>
<text x="448.68" y="306.32" transform="rotate(17.69 448.68 306.32)" text-anchor="middle" dominant-baseline="central" font-size="5.2" font-weight="bold" fill="#333">M</text>
<text x="461.73" y="310.49" transform="rotate(17.69 461.73 310.49)" text-anchor="middle" dominant-baseline="central" font-size="5.0" fill="#333">L</text>
<text x="467.16" y="312.22" transform="rotate(17.69 467.16 312.22)" text-anchor="middle" dominant-baseline="central" font-size="5.0" fill="#333">N</text>
<text x="473.35" y="314.19" transform="rotate(17.69 473.35 314.19)" text-anchor="middle" dominant-baseline="central" font-size="5.0" fill="#333">I</text>
<text x="446.72" y="312.12" transform="rotate(19.55 446.72 312.12)" text-anchor="middle" dominant-baseline="central" font-size="5.2" font-weight="bold" fill="#333">F</text>
<text x="459.63" y="316.71" transform="rotate(19.55 459.63 316.71)" text-anchor="middle" dominant-baseline="central" font-size="5.0" fill="#333">L</text>
<text x="465.00" y="318.62" transform="rotate(19.55 465.00 318.62)" text-anchor="middle" dominant-baseline="central" font-size="5.0" fill="#333">N</text>
<text x="471.13" y="320.79" transform="rotate(19.55 471.13 320.79)" text-anchor="middle" dominant-baseline="central" font-size="5.0" fill="#333">I</text>
<text x="444.58" y="317.86" transform="rotate(21.41 444.58 317.86)" text-anchor="middle" dominant-baseline="central" font-size="5.2" font-weight="bold" fill="#333">M</text>
<text x="457.34" y="322.86" transform="rotate(21.41 457.34 322.86)" text-anchor="middle" dominant-baseline="central" font-size="5.0" fill="#333">L</text>
<text x="462.64" y="324.94" transform="rotate(21.41 462.64 324.94)" text-anchor="middle" dominant-baseline="central" font-size="5.0" fill="#333">N</text>
<text x="468.69" y="327.31" transform="rotate(21.41 468.69 327.31)" text-anchor="middle" dominant-baseline="central" font-size="5.0" fill="#333">I</text>
<text x="442.25" y="323.52" transform="rotate(23.27 442.25 323.52)" text-anchor="middle" dominant-baseline="central" font-size="5.2" font-weight="bold" fill="#333">M</text>
<text x="454.84" y="328.93" transform="rotate(23.27 454.84 328.93)" text-anchor="middle" dominant-baseline="central" font-size="5.0" fill="#333">L</text>
<text x="460.08" y="331.18" transform="rotate(23.27 460.08 331.18)" text-anchor="middle" dominant-baseline="central" font-size="5.0" fill="#333">N</text>
<text x="466.05" y="333.75" transform="rotate(23.27 466.05 333.75)" text-anchor="middle" dominant-baseline="central" font-size="5.0" fill="#333">I</text>
<path d="M439.2,328.8L440.3,329.4" stroke="#4a4a4a" stroke-width="0.85"/>
<path d="M451.6,334.6L452.7,335.2" stroke="#4a4a4a" stroke-width="0.85"/>
<path d="M456.7,337.1L457.9,337.6" stroke="#4a4a4a" stroke-width="0.85"/>
<path d="M462.6,339.8L463.8,340.4" stroke="#4a4a4a" stroke-width="0.85"/>
<path d="M436.5,334.3L437.6,334.9" stroke="#4a4a4a" stroke-width="0.85"/>
<path d="M448.7,340.5L449.8,341.1" stroke="#4a4a4a" stroke-width="0.85"/>
<path d="M453.8,343.1L454.9,343.7" stroke="#4a4a4a" stroke-width="0.85"/>
<path d="M459.6,346.1L460.7,346.6" stroke="#4a4a4a" stroke-width="0.85"/>
<path d="M433.6,339.7L434.8,340.3" stroke="#4a4a4a" stroke-width="0.85"/>
<path d="M445.6,346.3L446.8,346.9" stroke="#4a4a4a" stroke-width="0.85"/>
<path d="M450.6,349.1L451.8,349.7" stroke="#4a4a4a" stroke-width="0.85"/>
<path d="M456.3,352.2L457.4,352.8" stroke="#4a4a4a" stroke-width="0.85"/>
<path d="M430.6,345.0L431.7,345.7" stroke="#4a4a4a" stroke-width="0.85"/>
<path d="M442.4,352.0L443.5,352.6" stroke="#4a4a4a" stroke-width="0.85"/>
<path d="M447.3,354.9L448.4,355.6" stroke="#4a4a4a" stroke-width="0.85"/>
<path d="M452.9,358.2L454.0,358.9" stroke="#4a4a4a" stroke-width="0.85"/>
<path d="M427.4,350.2L428.5,350.9" stroke="#4a4a4a" stroke-width="0.85"/>
<path d="M438.9,357.6L440.0,358.3" stroke="#4a4a4a" stroke-width="0.85"/>
<path d="M443.7,360.6L444.8,361.3" stroke="#4a4a4a" stroke-width="0.85"/>
<path d="M449.2,364.1L450.3,364.8" stroke="#4a4a4a" stroke-width="0.85"/>
<path d="M424.0,355.3L425.1,356.0" stroke="#4a4a4a" stroke-width="0.85"/>
<path d="M435.3,363.0L436.4,363.7" stroke="#4a4a4a" stroke-width="0.85"/>
<path d="M440.0,366.2L441.1,367.0" stroke="#4a4a4a" stroke-width="0.85"/>
<path d="M445.4,369.9L446.5,370.6" stroke="#4a4a4a" stroke-width="0.85"/>
<path d="M420.5,360.2L421.5,361.0" stroke="#4a4a4a" stroke-width="0.85"/>
<path d="M431.5,368.4L432.6,369.1" stroke="#4a4a4a" stroke-width="0.85"/>
<path d="M436.1,371.7L437.2,372.5" stroke="#4a4a4a" stroke-width="0.85"/>
<path d="M441.4,375.6L442.4,376.3" stroke="#4a4a4a" stroke-width="0.85"/>
<path d="M416.8,365.1L417.8,365.9" stroke="#4a4a4a" stroke-width="0.85"/>
<path d="M427.6,373.6L428.6,374.4" stroke="#4a4a4a" stroke-width="0.85"/>
<path d="M432.1,377.1L433.1,377.9" stroke="#4a4a4a" stroke-width="0.85"/>
<path d="M437.2,381.1L438.2,381.9" stroke="#4a4a4a" stroke-width="0.85"/>
<text x="413.46" y="370.25" transform="rotate(40.01 413.46 370.25)" text-anchor="middle" dominant-baseline="central" font-size="5.2" font-weight="bold" fill="#333">M</text>
<text x="423.95" y="379.06" transform="rotate(40.01 423.95 379.06)" text-anchor="middle" dominant-baseline="central" font-size="5.0" fill="#333">L</text>
<text x="428.32" y="382.73" transform="rotate(40.01 428.32 382.73)" text-anchor="middle" dominant-baseline="central" font-size="5.0" fill="#333">N</text>
<text x="433.29" y="386.90" transform="rotate(40.01 433.29 386.90)" text-anchor="middle" dominant-baseline="central" font-size="5.0" fill="#333">I</text>
<text x="409.45" y="374.88" transform="rotate(41.87 409.45 374.88)" text-anchor="middle" dominant-baseline="central" font-size="5.2" font-weight="bold" fill="#333">M</text>
<text x="419.65" y="384.02" transform="rotate(41.87 419.65 384.02)" text-anchor="middle" dominant-baseline="central" font-size="5.0" fill="#333">L</text>
<text x="423.89" y="387.82" transform="rotate(41.87 423.89 387.82)" text-anchor="middle" dominant-baseline="central" font-size="5.0" fill="#333">N</text>
<text x="428.73" y="392.16" transform="rotate(41.87 428.73 392.16)" text-anchor="middle" dominant-baseline="central" font-size="5.0" fill="#333">I</text>
<text x="405.29" y="379.37" transform="rotate(43.73 405.29 379.37)" text-anchor="middle" dominant-baseline="central" font-size="5.2" font-weight="bold" fill="#333">M</text>
<text x="415.19" y="388.84" transform="rotate(43.73 415.19 388.84)" text-anchor="middle" dominant-baseline="central" font-size="5.0" fill="#333">L</text>
<text x="419.31" y="392.78" transform="rotate(43.73 419.31 392.78)" text-anchor="middle" dominant-baseline="central" font-size="5.0" fill="#333">N</text>
<text x="424.00" y="397.27" transform="rotate(43.73 424.00 397.27)" text-anchor="middle" dominant-baseline="central" font-size="5.0" fill="#333">I</text>
<text x="400.98" y="383.72" transform="rotate(45.59 400.98 383.72)" text-anchor="middle" dominant-baseline="central" font-size="5.2" font-weight="bold" fill="#333">M</text>
<text x="410.57" y="393.51" transform="rotate(45.59 410.57 393.51)" text-anchor="middle" dominant-baseline="central" font-size="5.0" fill="#333">L</text>
<text x="414.56" y="397.58" transform="rotate(45.59 414.56 397.58)" text-anchor="middle" dominant-baseline="central" font-size="5.0" fill="#333">N</text>
<text x="419.11" y="402.22" transform="rotate(45.59 419.11 402.22)" text-anchor="middle" dominant-baseline="central" font-size="5.0" fill="#333">I</text>
<path d="M396.1,387.5L397.0,388.4" stroke="#4a4a4a" stroke-width="0.85"/>
<text x="405.81" y="398.03" transform="rotate(47.45 405.81 398.03)" text-anchor="middle" dominant-baseline="central" font-size="5.0" fill="#333">L</text>
<text x="409.66" y="402.23" transform="rotate(47.45 409.66 402.23)" text-anchor="middle" dominant-baseline="central" font-size="5.0" fill="#333">N</text>
<text x="414.06" y="407.01" transform="rotate(47.45 414.06 407.01)" text-anchor="middle" dominant-baseline="central" font-size="5.0" fill="#333">I</text>
<path d="M391.5,391.5L392.4,392.5" stroke="#4a4a4a" stroke-width="0.85"/>
<path d="M400.5,401.9L401.3,402.9" stroke="#4a4a4a" stroke-width="0.85"/>
<path d="M404.2,406.2L405.0,407.2" stroke="#4a4a4a" stroke-width="0.85"/>
<path d="M408.4,411.1L409.3,412.1" stroke="#4a4a4a" stroke-width="0.85"/>
<path d="M386.9,395.4L387.7,396.4" stroke="#4a4a4a" stroke-width="0.85"/>
<path d="M395.4,406.1L396.3,407.1" stroke="#4a4a4a" stroke-width="0.85"/>
<path d="M399.0,410.5L399.8,411.5" stroke="#4a4a4a" stroke-width="0.85"/>
<path d="M403.1,415.6L403.9,416.6" stroke="#4a4a4a" stroke-width="0.85"/>
<path d="M382.0,399.2L382.8,400.2" stroke="#4a4a4a" stroke-width="0.85"/>
<path d="M390.3,410.1L391.1,411.1" stroke="#4a4a4a" stroke-width="0.85"/>
<path d="M393.7,414.7L394.5,415.7" stroke="#4a4a4a" stroke-width="0.85"/>
<path d="M397.6,419.8L398.4,420.9" stroke="#4a4a4a" stroke-width="0.85"/>
<path d="M377.1,402.7L377.9,403.8" stroke="#4a4a4a" stroke-width="0.85"/>
<path d="M385.0,414.0L385.7,415.0" stroke="#4a4a4a" stroke-width="0.85"/>
<path d="M388.3,418.6L389.0,419.7" stroke="#4a4a4a" stroke-width="0.85"/>
<path d="M392.0,423.9L392.8,425.0" stroke="#4a4a4a" stroke-width="0.85"/>
<path d="M372.1,406.2L372.8,407.3" stroke="#4a4a4a" stroke-width="0.85"/>
<path d="M379.6,417.6L380.3,418.7" stroke="#4a4a4a" stroke-width="0.85"/>
<path d="M382.7,422.4L383.4,423.5" stroke="#4a4a4a" stroke-width="0.85"/>
<path d="M386.3,427.8L387.0,428.9" stroke="#4a4a4a" stroke-width="0.85"/>
<path d="M366.9,409.4L367.6,410.5" stroke="#4a4a4a" stroke-width="0.85"/>
<path d="M374.0,421.1L374.7,422.2" stroke="#4a4a4a" stroke-width="0.85"/>
<path d="M377.0,426.0L377.7,427.1" stroke="#4a4a4a" stroke-width="0.85"/>
<path d="M380.4,431.5L381.1,432.7" stroke="#4a4a4a" stroke-width="0.85"/>
<path d="M361.7,412.5L362.3,413.7" stroke="#4a4a4a" stroke-width="0.85"/>
<path d="M368.4,424.4L369.0,425.6" stroke="#4a4a4a" stroke-width="0.85"/>
<path d="M371.2,429.4L371.9,430.5" stroke="#4a4a4a" stroke-width="0.85"/>
<path d="M374.4,435.1L375.1,436.2" stroke="#4a4a4a" stroke-width="0.85"/>
<path d="M356.3,415.4L356.9,416.6" stroke="#4a4a4a" stroke-width="0.85"/>
<path d="M362.7,427.6L363.3,428.7" stroke="#4a4a4a" stroke-width="0.85"/>
<path d="M365.3,432.6L365.9,433.8" stroke="#4a4a4a" stroke-width="0.85"/>
<path d="M368.3,438.4L368.9,439.5" stroke="#4a4a4a" stroke-width="0.85"/>
<path d="M350.8,418.2L351.4,419.4" stroke="#4a4a4a" stroke-width="0.85"/>
<path d="M356.8,430.5L357.4,431.7" stroke="#4a4a4a" stroke-width="0.85"/>
<path d="M359.3,435.7L359.9,436.8" stroke="#4a4a4a" stroke-width="0.85"/>
<path d="M362.1,441.5L362.7,442.7" stroke="#4a4a4a" stroke-width="0.85"/>
<path d="M345.3,420.8L345.8,421.9" stroke="#4a4a4a" stroke-width="0.85"/>
<path d="M350.9,433.3L351.4,434.5" stroke="#4a4a4a" stroke-width="0.85"/>
<path d="M353.2,438.5L353.7,439.7" stroke="#4a4a4a" stroke-width="0.85"/>
<path d="M355.8,444.4L356.4,445.6" stroke="#4a4a4a" stroke-width="0.85"/>
<path d="M339.7,423.1L340.2,424.3" stroke="#4a4a4a" stroke-width="0.85"/>
<path d="M344.9,435.8L345.3,437.0" stroke="#4a4a4a" stroke-width="0.85"/>
<path d="M347.0,441.1L347.5,442.3" stroke="#4a4a4a" stroke-width="0.85"/>
<path d="M349.4,447.1L349.9,448.3" stroke="#4a4a4a" stroke-width="0.85"/>
<path d="M334.0,425.3L334.5,426.6" stroke="#4a4a4a" stroke-width="0.85"/>
<path d="M338.8,438.2L339.2,439.4" stroke="#4a4a4a" stroke-width="0.85"/>
<path d="M340.7,443.6L341.2,444.8" stroke="#4a4a4a" stroke-width="0.85"/>
<path d="M343.0,449.6L343.4,450.9" stroke="#4a4a4a" stroke-width="0.85"/>
<path d="M328.3,427.4L328.7,428.6" stroke="#4a4a4a" stroke-width="0.85"/>
<path d="M332.6,440.4L333.0,441.6" stroke="#4a4a4a" stroke-width="0.85"/>
<path d="M334.4,445.8L334.8,447.0" stroke="#4a4a4a" stroke-width="0.85"/>
<path d="M336.4,451.9L336.8,453.2" stroke="#4a4a4a" stroke-width="0.85"/>
<path d="M322.4,429.2L322.8,430.4" stroke="#4a4a4a" stroke-width="0.85"/>
<text x="326.52" y="442.95" transform="rotate(73.48 326.52 442.95)" text-anchor="middle" dominant-baseline="central" font-size="5.0" fill="#333">L</text>
<path d="M328.0,447.8L328.3,449.0" stroke="#4a4a4a" stroke-width="0.85"/>
<path d="M329.8,454.0L330.2,455.3" stroke="#4a4a4a" stroke-width="0.85"/>
<path d="M316.6,430.8L316.9,432.1" stroke="#4a4a4a" stroke-width="0.85"/>
<path d="M320.0,444.1L320.4,445.3" stroke="#4a4a4a" stroke-width="0.85"/>
<path d="M321.5,449.6L321.8,450.9" stroke="#4a4a4a" stroke-width="0.85"/>
<path d="M323.1,455.9L323.4,457.1" stroke="#4a4a4a" stroke-width="0.85"/>
<path d="M310.6,432.3L310.9,433.5" stroke="#4a4a4a" stroke-width="0.85"/>
<path d="M313.7,445.6L314.0,446.9" stroke="#4a4a4a" stroke-width="0.85"/>
<path d="M314.9,451.2L315.2,452.5" stroke="#4a4a4a" stroke-width="0.85"/>
<path d="M316.4,457.5L316.7,458.8" stroke="#4a4a4a" stroke-width="0.85"/>
<path d="M304.7,433.5L304.9,434.8" stroke="#4a4a4a" stroke-width="0.85"/>
<path d="M307.3,447.0L307.5,448.3" stroke="#4a4a4a" stroke-width="0.85"/>
<path d="M308.3,452.6L308.6,453.9" stroke="#4a4a4a" stroke-width="0.85"/>
<path d="M309.6,459.0L309.8,460.2" stroke="#4a4a4a" stroke-width="0.85"/>
<path d="M298.7,434.6L298.9,435.9" stroke="#4a4a4a" stroke-width="0.85"/>
<path d="M300.8,448.1L301.0,449.4" stroke="#4a4a4a" stroke-width="0.85"/>
<path d="M301.7,453.8L301.9,455.0" stroke="#4a4a4a" stroke-width="0.85"/>
<path d="M302.7,460.2L303.0,461.5" stroke="#4a4a4a" stroke-width="0.85"/>
<text x="292.70" y="436.10" transform="rotate(82.78 292.70 436.10)" text-anchor="middle" dominant-baseline="central" font-size="5.2" font-weight="bold" fill="#333">M</text>
<path d="M294.3,449.1L294.5,450.3" stroke="#4a4a4a" stroke-width="0.85"/>
<path d="M295.1,454.7L295.2,456.0" stroke="#4a4a4a" stroke-width="0.85"/>
<path d="M295.9,461.2L296.0,462.4" stroke="#4a4a4a" stroke-width="0.85"/>
<text x="286.62" y="436.78" transform="rotate(84.64 286.62 436.78)" text-anchor="middle" dominant-baseline="central" font-size="5.2" font-weight="bold" fill="#333">M</text>
<path d="M287.8,449.8L288.0,451.1" stroke="#4a4a4a" stroke-width="0.85"/>
<path d="M288.4,455.4L288.5,456.7" stroke="#4a4a4a" stroke-width="0.85"/>
<path d="M289.0,461.9L289.1,463.2" stroke="#4a4a4a" stroke-width="0.85"/>
<path d="M280.5,436.6L280.6,437.9" stroke="#4a4a4a" stroke-width="0.85"/>
<path d="M281.3,450.3L281.4,451.6" stroke="#4a4a4a" stroke-width="0.85"/>
<path d="M281.7,456.0L281.7,457.3" stroke="#4a4a4a" stroke-width="0.85"/>
<path d="M282.1,462.5L282.1,463.7" stroke="#4a4a4a" stroke-width="0.85"/>
<path d="M274.4,436.9L274.4,438.2" stroke="#4a4a4a" stroke-width="0.85"/>
<path d="M274.8,450.6L274.8,451.9" stroke="#4a4a4a" stroke-width="0.85"/>
<path d="M274.9,456.3L275.0,457.6" stroke="#4a4a4a" stroke-width="0.85"/>
<path d="M275.1,462.8L275.2,464.1" stroke="#4a4a4a" stroke-width="0.85"/>
<text x="268.28" y="437.60" transform="rotate(-89.78 268.28 437.60)" text-anchor="middle" dominant-baseline="central" font-size="5.2" font-weight="bold" fill="#333">M</text>
<path d="M268.2,450.6L268.2,451.9" stroke="#4a4a4a" stroke-width="0.85"/>
<path d="M268.2,456.3L268.2,457.6" stroke="#4a4a4a" stroke-width="0.85"/>
<path d="M268.2,462.8L268.2,464.1" stroke="#4a4a4a" stroke-width="0.85"/>
<path d="M262.2,436.8L262.1,438.1" stroke="#4a4a4a" stroke-width="0.85"/>
<path d="M261.7,450.5L261.6,451.8" stroke="#4a4a4a" stroke-width="0.85"/>
<path d="M261.5,456.2L261.4,457.5" stroke="#4a4a4a" stroke-width="0.85"/>
<path d="M261.2,462.7L261.2,464.0" stroke="#4a4a4a" stroke-width="0.85"/>
<path d="M256.1,436.5L256.0,437.8" stroke="#4a4a4a" stroke-width="0.85"/>
<path d="M255.2,450.2L255.1,451.5" stroke="#4a4a4a" stroke-width="0.85"/>
<path d="M254.8,455.9L254.7,457.2" stroke="#4a4a4a" stroke-width="0.85"/>
<path d="M254.3,462.3L254.2,463.6" stroke="#4a4a4a" stroke-width="0.85"/>
<path d="M250.0,436.0L249.9,437.3" stroke="#4a4a4a" stroke-width="0.85"/>
<path d="M248.6,449.6L248.5,450.9" stroke="#4a4a4a" stroke-width="0.85"/>
<path d="M248.1,455.3L247.9,456.6" stroke="#4a4a4a" stroke-width="0.85"/>
<path d="M247.4,461.8L247.3,463.0" stroke="#4a4a4a" stroke-width="0.85"/>
<path d="M244.0,435.3L243.8,436.6" stroke="#4a4a4a" stroke-width="0.85"/>
<text x="242.05" y="449.50" transform="rotate(-82.34 242.05 449.50)" text-anchor="middle" dominant-baseline="central" font-size="5.0" fill="#333">L</text>
<path d="M241.4,454.5L241.2,455.8" stroke="#4a4a4a" stroke-width="0.85"/>
<path d="M240.5,460.9L240.3,462.2" stroke="#4a4a4a" stroke-width="0.85"/>
<path d="M237.9,434.4L237.7,435.6" stroke="#4a4a4a" stroke-width="0.85"/>
<path d="M235.7,447.9L235.4,449.2" stroke="#4a4a4a" stroke-width="0.85"/>
<path d="M234.7,453.5L234.5,454.8" stroke="#4a4a4a" stroke-width="0.85"/>
<path d="M233.6,459.9L233.4,461.2" stroke="#4a4a4a" stroke-width="0.85"/>
<path d="M231.9,433.3L231.7,434.5" stroke="#4a4a4a" stroke-width="0.85"/>
<path d="M229.2,446.7L229.0,448.0" stroke="#4a4a4a" stroke-width="0.85"/>
<path d="M228.1,452.3L227.8,453.6" stroke="#4a4a4a" stroke-width="0.85"/>
<path d="M226.8,458.6L226.6,459.9" stroke="#4a4a4a" stroke-width="0.85"/>
<path d="M226.0,432.0L225.7,433.2" stroke="#4a4a4a" stroke-width="0.85"/>
<text x="222.68" y="445.93" transform="rotate(-76.76 222.68 445.93)" text-anchor="middle" dominant-baseline="central" font-size="5.0" fill="#333">L</text>
<path d="M221.5,450.8L221.2,452.1" stroke="#4a4a4a" stroke-width="0.85"/>
<path d="M220.0,457.2L219.7,458.4" stroke="#4a4a4a" stroke-width="0.85"/>
<path d="M220.1,430.5L219.7,431.7" stroke="#4a4a4a" stroke-width="0.85"/>
<text x="216.32" y="444.32" transform="rotate(-74.90 216.32 444.32)" text-anchor="middle" dominant-baseline="central" font-size="5.0" fill="#333">L</text>
<path d="M215.0,449.2L214.7,450.5" stroke="#4a4a4a" stroke-width="0.85"/>
<path d="M213.3,455.5L213.0,456.7" stroke="#4a4a4a" stroke-width="0.85"/>
<path d="M214.2,428.8L213.8,430.0" stroke="#4a4a4a" stroke-width="0.85"/>
<path d="M210.2,441.9L209.8,443.1" stroke="#4a4a4a" stroke-width="0.85"/>
<path d="M208.5,447.3L208.2,448.6" stroke="#4a4a4a" stroke-width="0.85"/>
<path d="M206.6,453.6L206.3,454.8" stroke="#4a4a4a" stroke-width="0.85"/>
<path d="M208.4,426.9L208.0,428.1" stroke="#4a4a4a" stroke-width="0.85"/>
<path d="M204.0,439.9L203.5,441.1" stroke="#4a4a4a" stroke-width="0.85"/>
<path d="M202.1,445.3L201.7,446.5" stroke="#4a4a4a" stroke-width="0.85"/>
<path d="M200.0,451.4L199.6,452.7" stroke="#4a4a4a" stroke-width="0.85"/>
<text x="202.41" y="425.45" transform="rotate(-69.33 202.41 425.45)" text-anchor="middle" dominant-baseline="central" font-size="5.2" font-weight="bold" fill="#333">M</text>
<text x="197.58" y="438.27" transform="rotate(-69.33 197.58 438.27)" text-anchor="middle" dominant-baseline="central" font-size="5.0" fill="#333">L</text>
<text x="195.57" y="443.61" transform="rotate(-69.33 195.57 443.61)" text-anchor="middle" dominant-baseline="central" font-size="5.0" fill="#333">N</text>
<text x="193.27" y="449.69" transform="rotate(-69.33 193.27 449.69)" text-anchor="middle" dominant-baseline="central" font-size="5.0" fill="#333">I</text>
<text x="196.72" y="423.20" transform="rotate(-67.47 196.72 423.20)" text-anchor="middle" dominant-baseline="central" font-size="5.2" font-weight="bold" fill="#333">M</text>
<text x="191.47" y="435.86" transform="rotate(-67.47 191.47 435.86)" text-anchor="middle" dominant-baseline="central" font-size="5.0" fill="#333">L</text>
<text x="189.29" y="441.12" transform="rotate(-67.47 189.29 441.12)" text-anchor="middle" dominant-baseline="central" font-size="5.0" fill="#333">N</text>
<text x="186.80" y="447.12" transform="rotate(-67.47 186.80 447.12)" text-anchor="middle" dominant-baseline="central" font-size="5.0" fill="#333">I</text>
<text x="191.11" y="420.76" transform="rotate(-65.61 191.11 420.76)" text-anchor="middle" dominant-baseline="central" font-size="5.2" font-weight="bold" fill="#333">M</text>
<text x="185.45" y="433.24" transform="rotate(-65.61 185.45 433.24)" text-anchor="middle" dominant-baseline="central" font-size="5.0" fill="#333">L</text>
<text x="183.10" y="438.43" transform="rotate(-65.61 183.10 438.43)" text-anchor="middle" dominant-baseline="central" font-size="5.0" fill="#333">N</text>
<text x="180.41" y="444.35" transform="rotate(-65.61 180.41 444.35)" text-anchor="middle" dominant-baseline="central" font-size="5.0" fill="#333">I</text>
<text x="185.58" y="418.15" transform="rotate(-63.75 185.58 418.15)" text-anchor="middle" dominant-baseline="central" font-size="5.2" font-weight="bold" fill="#333">M</text>
<text x="179.52" y="430.43" transform="rotate(-63.75 179.52 430.43)" text-anchor="middle" dominant-baseline="central" font-size="5.0" fill="#333">L</text>
<text x="176.99" y="435.55" transform="rotate(-63.75 176.99 435.55)" text-anchor="middle" dominant-baseline="central" font-size="5.0" fill="#333">N</text>
<text x="174.12" y="441.37" transform="rotate(-63.75 174.12 441.37)" text-anchor="middle" dominant-baseline="central" font-size="5.0" fill="#333">I</text>
<text x="180.13" y="415.35" transform="rotate(-61.89 180.13 415.35)" text-anchor="middle" dominant-baseline="central" font-size="5.2" font-weight="bold" fill="#333">M</text>
<text x="173.68" y="427.43" transform="rotate(-61.89 173.68 427.43)" text-anchor="middle" dominant-baseline="central" font-size="5.0" fill="#333">L</text>
<text x="170.99" y="432.46" transform="rotate(-61.89 170.99 432.46)" text-anchor="middle" dominant-baseline="central" font-size="5.0" fill="#333">N</text>
<text x="167.93" y="438.19" transform="rotate(-61.89 167.93 438.19)" text-anchor="middle" dominant-baseline="central" font-size="5.0" fill="#333">I</text>
<text x="174.78" y="412.38" transform="rotate(-60.03 174.78 412.38)" text-anchor="middle" dominant-baseline="central" font-size="5.2" font-weight="bold" fill="#333">M</text>
<text x="167.94" y="424.25" transform="rotate(-60.03 167.94 424.25)" text-anchor="middle" dominant-baseline="central" font-size="5.0" fill="#333">L</text>
<text x="165.09" y="429.18" transform="rotate(-60.03 165.09 429.18)" text-anchor="middle" dominant-baseline="central" font-size="5.0" fill="#333">N</text>
<text x="161.84" y="434.81" transform="rotate(-60.03 161.84 434.81)" text-anchor="middle" dominant-baseline="central" font-size="5.0" fill="#333">I</text>
<text x="169.53" y="409.23" transform="rotate(-58.17 169.53 409.23)" text-anchor="middle" dominant-baseline="central" font-size="5.2" font-weight="bold" fill="#333">M</text>
<text x="162.30" y="420.87" transform="rotate(-58.17 162.30 420.87)" text-anchor="middle" dominant-baseline="central" font-size="5.0" fill="#333">L</text>
<text x="159.30" y="425.72" transform="rotate(-58.17 159.30 425.72)" text-anchor="middle" dominant-baseline="central" font-size="5.0" fill="#333">N</text>
<text x="155.87" y="431.24" transform="rotate(-58.17 155.87 431.24)" text-anchor="middle" dominant-baseline="central" font-size="5.0" fill="#333">I</text>
<text x="164.38" y="405.92" transform="rotate(-56.31 164.38 405.92)" text-anchor="middle" dominant-baseline="central" font-size="5.2" font-weight="bold" fill="#333">M</text>
<text x="156.78" y="417.32" transform="rotate(-56.31 156.78 417.32)" text-anchor="middle" dominant-baseline="central" font-size="5.0" fill="#333">L</text>
<text x="153.62" y="422.06" transform="rotate(-56.31 153.62 422.06)" text-anchor="middle" dominant-baseline="central" font-size="5.0" fill="#333">N</text>
<text x="150.01" y="427.47" transform="rotate(-56.31 150.01 427.47)" text-anchor="middle" dominant-baseline="central" font-size="5.0" fill="#333">I</text>
<text x="159.34" y="402.45" transform="rotate(-54.45 159.34 402.45)" text-anchor="middle" dominant-baseline="central" font-size="5.2" font-weight="bold" fill="#333">M</text>
<text x="151.38" y="413.59" transform="rotate(-54.45 151.38 413.59)" text-anchor="middle" dominant-baseline="central" font-size="5.0" fill="#333">L</text>
<text x="148.06" y="418.23" transform="rotate(-54.45 148.06 418.23)" text-anchor="middle" dominant-baseline="central" font-size="5.0" fill="#333">N</text>
<text x="144.28" y="423.52" transform="rotate(-54.45 144.28 423.52)" text-anchor="middle" dominant-baseline="central" font-size="5.0" fill="#333">I</text>
<text x="154.42" y="398.81" transform="rotate(-52.59 154.42 398.81)" text-anchor="middle" dominant-baseline="central" font-size="5.2" font-weight="bold" fill="#333">M</text>
<text x="146.10" y="409.69" transform="rotate(-52.59 146.10 409.69)" text-anchor="middle" dominant-baseline="central" font-size="5.0" fill="#333">L</text>
<text x="142.64" y="414.22" transform="rotate(-52.59 142.64 414.22)" text-anchor="middle" dominant-baseline="central" font-size="5.0" fill="#333">N</text>
<text x="138.69" y="419.38" transform="rotate(-52.59 138.69 419.38)" text-anchor="middle" dominant-baseline="central" font-size="5.0" fill="#333">I</text>
<text x="149.62" y="395.01" transform="rotate(-50.73 149.62 395.01)" text-anchor="middle" dominant-baseline="central" font-size="5.2" font-weight="bold" fill="#333">M</text>
<text x="140.95" y="405.61" transform="rotate(-50.73 140.95 405.61)" text-anchor="middle" dominant-baseline="central" font-size="5.0" fill="#333">L</text>
<text x="137.34" y="410.03" transform="rotate(-50.73 137.34 410.03)" text-anchor="middle" dominant-baseline="central" font-size="5.0" fill="#333">N</text>
<text x="133.23" y="415.06" transform="rotate(-50.73 133.23 415.06)" text-anchor="middle" dominant-baseline="central" font-size="5.0" fill="#333">I</text>
<text x="144.95" y="391.06" transform="rotate(-48.87 144.95 391.06)" text-anchor="middle" dominant-baseline="central" font-size="5.2" font-weight="bold" fill="#333">M</text>
<text x="135.93" y="401.38" transform="rotate(-48.87 135.93 401.38)" text-anchor="middle" dominant-baseline="central" font-size="5.0" fill="#333">L</text>
<text x="132.18" y="405.67" transform="rotate(-48.87 132.18 405.67)" text-anchor="middle" dominant-baseline="central" font-size="5.0" fill="#333">N</text>
<text x="127.91" y="410.57" transform="rotate(-48.87 127.91 410.57)" text-anchor="middle" dominant-baseline="central" font-size="5.0" fill="#333">I</text>
<text x="140.40" y="386.96" transform="rotate(-47.01 140.40 386.96)" text-anchor="middle" dominant-baseline="central" font-size="5.2" font-weight="bold" fill="#333">M</text>
<text x="131.06" y="396.98" transform="rotate(-47.01 131.06 396.98)" text-anchor="middle" dominant-baseline="central" font-size="5.0" fill="#333">L</text>
<text x="127.17" y="401.15" transform="rotate(-47.01 127.17 401.15)" text-anchor="middle" dominant-baseline="central" font-size="5.0" fill="#333">N</text>
<text x="122.74" y="405.90" transform="rotate(-47.01 122.74 405.90)" text-anchor="middle" dominant-baseline="central" font-size="5.0" fill="#333">I</text>
<text x="135.99" y="382.71" transform="rotate(-45.15 135.99 382.71)" text-anchor="middle" dominant-baseline="central" font-size="5.2" font-weight="bold" fill="#333">M</text>
<text x="126.33" y="392.42" transform="rotate(-45.15 126.33 392.42)" text-anchor="middle" dominant-baseline="central" font-size="5.0" fill="#333">L</text>
<text x="122.31" y="396.47" transform="rotate(-45.15 122.31 396.47)" text-anchor="middle" dominant-baseline="central" font-size="5.0" fill="#333">N</text>
<text x="117.73" y="401.07" transform="rotate(-45.15 117.73 401.07)" text-anchor="middle" dominant-baseline="central" font-size="5.0" fill="#333">I</text>
<path d="M132.2,377.9L131.2,378.8" stroke="#4a4a4a" stroke-width="0.85"/>
<path d="M122.2,387.3L121.3,388.2" stroke="#4a4a4a" stroke-width="0.85"/>
<path d="M118.1,391.2L117.1,392.1" stroke="#4a4a4a" stroke-width="0.85"/>
<path d="M113.3,395.6L112.4,396.5" stroke="#4a4a4a" stroke-width="0.85"/>
<path d="M128.1,373.4L127.1,374.2" stroke="#4a4a4a" stroke-width="0.85"/>
<path d="M117.8,382.4L116.8,383.3" stroke="#4a4a4a" stroke-width="0.85"/>
<path d="M113.5,386.2L112.6,387.1" stroke="#4a4a4a" stroke-width="0.85"/>
<path d="M108.7,390.5L107.7,391.4" stroke="#4a4a4a" stroke-width="0.85"/>
<path d="M124.1,368.7L123.1,369.6" stroke="#4a4a4a" stroke-width="0.85"/>
<path d="M113.6,377.5L112.6,378.3" stroke="#4a4a4a" stroke-width="0.85"/>
<path d="M109.2,381.1L108.2,381.9" stroke="#4a4a4a" stroke-width="0.85"/>
<path d="M104.2,385.2L103.2,386.1" stroke="#4a4a4a" stroke-width="0.85"/>
<path d="M120.3,364.0L119.3,364.8" stroke="#4a4a4a" stroke-width="0.85"/>
<path d="M109.5,372.4L108.4,373.1" stroke="#4a4a4a" stroke-width="0.85"/>
<path d="M105.0,375.8L103.9,376.6" stroke="#4a4a4a" stroke-width="0.85"/>
<path d="M99.8,379.8L98.8,380.6" stroke="#4a4a4a" stroke-width="0.85"/>
<path d="M116.7,359.1L115.6,359.8" stroke="#4a4a4a" stroke-width="0.85"/>
<path d="M105.6,367.1L104.5,367.9" stroke="#4a4a4a" stroke-width="0.85"/>
<path d="M100.9,370.4L99.9,371.2" stroke="#4a4a4a" stroke-width="0.85"/>
<path d="M95.7,374.3L94.6,375.0" stroke="#4a4a4a" stroke-width="0.85"/>
<path d="M113.2,354.1L112.1,354.8" stroke="#4a4a4a" stroke-width="0.85"/>
<path d="M101.8,361.7L100.7,362.5" stroke="#4a4a4a" stroke-width="0.85"/>
<path d="M97.1,364.9L96.0,365.7" stroke="#4a4a4a" stroke-width="0.85"/>
<path d="M91.7,368.6L90.6,369.3" stroke="#4a4a4a" stroke-width="0.85"/>
<path d="M109.8,349.0L108.7,349.7" stroke="#4a4a4a" stroke-width="0.85"/>
<path d="M98.2,356.3L97.1,356.9" stroke="#4a4a4a" stroke-width="0.85"/>
<path d="M93.4,359.3L92.3,360.0" stroke="#4a4a4a" stroke-width="0.85"/>
<path d="M87.9,362.7L86.8,363.4" stroke="#4a4a4a" stroke-width="0.85"/>
<path d="M106.7,343.8L105.6,344.4" stroke="#4a4a4a" stroke-width="0.85"/>
<path d="M94.9,350.7L93.7,351.3" stroke="#4a4a4a" stroke-width="0.85"/>
<path d="M89.9,353.5L88.8,354.2" stroke="#4a4a4a" stroke-width="0.85"/>
<path d="M84.3,356.8L83.2,357.5" stroke="#4a4a4a" stroke-width="0.85"/>
<path d="M103.7,338.4L102.5,339.1" stroke="#4a4a4a" stroke-width="0.85"/>
<path d="M91.6,345.0L90.5,345.6" stroke="#4a4a4a" stroke-width="0.85"/>
<path d="M86.6,347.7L85.5,348.3" stroke="#4a4a4a" stroke-width="0.85"/>
<path d="M80.9,350.8L79.8,351.4" stroke="#4a4a4a" stroke-width="0.85"/>
<path d="M100.9,333.0L99.7,333.6" stroke="#4a4a4a" stroke-width="0.85"/>
<path d="M88.6,339.1L87.5,339.7" stroke="#4a4a4a" stroke-width="0.85"/>
<path d="M83.5,341.7L82.4,342.3" stroke="#4a4a4a" stroke-width="0.85"/>
<path d="M77.7,344.6L76.5,345.2" stroke="#4a4a4a" stroke-width="0.85"/>
<path d="M98.2,327.5L97.1,328.1" stroke="#4a4a4a" stroke-width="0.85"/>
<path d="M85.8,333.2L84.6,333.8" stroke="#4a4a4a" stroke-width="0.85"/>
<path d="M80.6,335.6L79.4,336.2" stroke="#4a4a4a" stroke-width="0.85"/>
<path d="M74.7,338.3L73.5,338.9" stroke="#4a4a4a" stroke-width="0.85"/>
<path d="M95.8,321.9L94.6,322.4" stroke="#4a4a4a" stroke-width="0.85"/>
<path d="M83.2,327.3L82.0,327.8" stroke="#4a4a4a" stroke-width="0.85"/>
<path d="M77.9,329.5L76.7,330.0" stroke="#4a4a4a" stroke-width="0.85"/>
<path d="M71.9,332.0L70.7,332.5" stroke="#4a4a4a" stroke-width="0.85"/>
<text x="92.90" y="316.52" transform="rotate(-20.98 92.90 316.52)" text-anchor="middle" dominant-baseline="central" font-size="5.2" font-weight="bold" fill="#333">M</text>
<path d="M80.7,321.2L79.5,321.7" stroke="#4a4a4a" stroke-width="0.85"/>
<path d="M75.4,323.2L74.2,323.7" stroke="#4a4a4a" stroke-width="0.85"/>
<path d="M69.3,325.6L68.1,326.0" stroke="#4a4a4a" stroke-width="0.85"/>
<text x="90.80" y="310.77" transform="rotate(-19.12 90.80 310.77)" text-anchor="middle" dominant-baseline="central" font-size="5.2" font-weight="bold" fill="#333">M</text>
<path d="M78.5,315.0L77.2,315.5" stroke="#4a4a4a" stroke-width="0.85"/>
<path d="M73.1,316.9L71.9,317.3" stroke="#4a4a4a" stroke-width="0.85"/>
<path d="M66.9,319.0L65.7,319.5" stroke="#4a4a4a" stroke-width="0.85"/>
<text x="88.89" y="304.95" transform="rotate(-17.26 88.89 304.95)" text-anchor="middle" dominant-baseline="central" font-size="5.2" font-weight="bold" fill="#333">M</text>
<path d="M76.4,308.8L75.2,309.2" stroke="#4a4a4a" stroke-width="0.85"/>
<path d="M71.0,310.5L69.7,310.9" stroke="#4a4a4a" stroke-width="0.85"/>
<path d="M64.8,312.4L63.5,312.8" stroke="#4a4a4a" stroke-width="0.85"/>
<text x="87.17" y="299.08" transform="rotate(-15.40 87.17 299.08)" text-anchor="middle" dominant-baseline="central" font-size="5.2" font-weight="bold" fill="#333">M</text>
<text x="73.96" y="302.71" transform="rotate(-15.40 73.96 302.71)" text-anchor="middle" dominant-baseline="central" font-size="5.0" fill="#333">L</text>
<path d="M69.1,304.1L67.8,304.4" stroke="#4a4a4a" stroke-width="0.85"/>
<path d="M62.8,305.8L61.6,306.1" stroke="#4a4a4a" stroke-width="0.85"/>
<path d="M86.3,293.0L85.0,293.3" stroke="#4a4a4a" stroke-width="0.85"/>
<path d="M73.0,296.2L71.7,296.5" stroke="#4a4a4a" stroke-width="0.85"/>
<path d="M67.4,297.5L66.1,297.8" stroke="#4a4a4a" stroke-width="0.85"/>
<path d="M61.1,299.1L59.8,299.4" stroke="#4a4a4a" stroke-width="0.85"/>
<path d="M84.9,287.0L83.7,287.3" stroke="#4a4a4a" stroke-width="0.85"/>
<path d="M71.5,289.8L70.3,290.1" stroke="#4a4a4a" stroke-width="0.85"/>
<path d="M65.9,291.0L64.7,291.2" stroke="#4a4a4a" stroke-width="0.85"/>
<path d="M59.6,292.3L58.3,292.6" stroke="#4a4a4a" stroke-width="0.85"/>
<path d="M83.8,281.1L82.5,281.3" stroke="#4a4a4a" stroke-width="0.85"/>
<path d="M70.3,283.4L69.0,283.6" stroke="#4a4a4a" stroke-width="0.85"/>
<path d="M64.7,284.4L63.4,284.6" stroke="#4a4a4a" stroke-width="0.85"/>
<path d="M58.3,285.5L57.0,285.7" stroke="#4a4a4a" stroke-width="0.85"/>
<path d="M82.9,275.0L81.6,275.2" stroke="#4a4a4a" stroke-width="0.85"/>
<text x="68.65" y="277.01" transform="rotate(-7.96 68.65 277.01)" text-anchor="middle" dominant-baseline="central" font-size="5.0" fill="#333">L</text>
<path d="M63.6,277.7L62.4,277.9" stroke="#4a4a4a" stroke-width="0.85"/>
<path d="M57.2,278.6L55.9,278.8" stroke="#4a4a4a" stroke-width="0.85"/>
<path d="M82.1,269.0L80.8,269.1" stroke="#4a4a4a" stroke-width="0.85"/>
<path d="M68.5,270.4L67.2,270.6" stroke="#4a4a4a" stroke-width="0.85"/>
<path d="M62.8,271.0L61.5,271.2" stroke="#4a4a4a" stroke-width="0.85"/>
<path d="M56.4,271.7L55.1,271.9" stroke="#4a4a4a" stroke-width="0.85"/>
<path d="M81.6,262.9L80.3,263.0" stroke="#4a4a4a" stroke-width="0.85"/>
<path d="M67.9,263.9L66.6,264.0" stroke="#4a4a4a" stroke-width="0.85"/>
<path d="M62.2,264.3L60.9,264.4" stroke="#4a4a4a" stroke-width="0.85"/>
<path d="M55.7,264.8L54.4,264.9" stroke="#4a4a4a" stroke-width="0.85"/>
<path d="M81.2,256.8L79.9,256.9" stroke="#4a4a4a" stroke-width="0.85"/>
<path d="M67.5,257.4L66.2,257.4" stroke="#4a4a4a" stroke-width="0.85"/>
<text x="61.18" y="257.64" transform="rotate(-2.38 61.18 257.64)" text-anchor="middle" dominant-baseline="central" font-size="5.0" fill="#333">N</text>
<path d="M55.3,257.9L54.0,257.9" stroke="#4a4a4a" stroke-width="0.85"/>
<text x="80.41" y="250.71" transform="rotate(-0.52 80.41 250.71)" text-anchor="middle" dominant-baseline="central" font-size="5.2" font-weight="bold" fill="#333">M</text>
<path d="M67.4,250.8L66.1,250.8" stroke="#4a4a4a" stroke-width="0.85"/>
<path d="M61.7,250.9L60.4,250.9" stroke="#4a4a4a" stroke-width="0.85"/>
<path d="M55.2,250.9L53.9,251.0" stroke="#4a4a4a" stroke-width="0.85"/>
<path d="M81.1,244.6L79.8,244.6" stroke="#4a4a4a" stroke-width="0.85"/>
<path d="M67.4,244.3L66.1,244.3" stroke="#4a4a4a" stroke-width="0.85"/>
<path d="M61.7,244.2L60.4,244.1" stroke="#4a4a4a" stroke-width="0.85"/>
<path d="M55.2,244.0L53.9,244.0" stroke="#4a4a4a" stroke-width="0.85"/>
<path d="M81.3,238.5L80.0,238.4" stroke="#4a4a4a" stroke-width="0.85"/>
<path d="M67.7,237.7L66.4,237.7" stroke="#4a4a4a" stroke-width="0.85"/>
<path d="M62.0,237.4L60.7,237.4" stroke="#4a4a4a" stroke-width="0.85"/>
<path d="M55.5,237.1L54.2,237.0" stroke="#4a4a4a" stroke-width="0.85"/>
<text x="81.13" y="232.37" transform="rotate(5.06 81.13 232.37)" text-anchor="middle" dominant-baseline="central" font-size="5.2" font-weight="bold" fill="#333">M</text>
<path d="M68.1,231.2L66.8,231.1" stroke="#4a4a4a" stroke-width="0.85"/>
<text x="61.81" y="230.66" transform="rotate(5.06 61.81 230.66)" text-anchor="middle" dominant-baseline="central" font-size="5.0" fill="#333">N</text>
<path d="M56.0,230.1L54.7,230.0" stroke="#4a4a4a" stroke-width="0.85"/>
<text x="81.77" y="226.28" transform="rotate(6.92 81.77 226.28)" text-anchor="middle" dominant-baseline="central" font-size="5.2" font-weight="bold" fill="#333">M</text>
<path d="M68.8,224.7L67.5,224.6" stroke="#4a4a4a" stroke-width="0.85"/>
<text x="62.51" y="223.95" transform="rotate(6.92 62.51 223.95)" text-anchor="middle" dominant-baseline="central" font-size="5.0" fill="#333">N</text>
<path d="M56.7,223.2L55.4,223.1" stroke="#4a4a4a" stroke-width="0.85"/>
<text x="82.61" y="220.22" transform="rotate(8.78 82.61 220.22)" text-anchor="middle" dominant-baseline="central" font-size="5.2" font-weight="bold" fill="#333">F</text>
<path d="M69.7,218.2L68.4,218.0" stroke="#4a4a4a" stroke-width="0.85"/>
<text x="63.44" y="217.26" transform="rotate(8.78 63.44 217.26)" text-anchor="middle" dominant-baseline="central" font-size="5.0" fill="#333">N</text>
<path d="M57.7,216.4L56.4,216.2" stroke="#4a4a4a" stroke-width="0.85"/>
<path d="M84.3,214.3L83.0,214.1" stroke="#4a4a4a" stroke-width="0.85"/>
<path d="M70.8,211.8L69.5,211.5" stroke="#4a4a4a" stroke-width="0.85"/>
<path d="M65.2,210.7L63.9,210.5" stroke="#4a4a4a" stroke-width="0.85"/>
<path d="M58.8,209.5L57.5,209.3" stroke="#4a4a4a" stroke-width="0.85"/>
<path d="M85.5,208.3L84.2,208.1" stroke="#4a4a4a" stroke-width="0.85"/>
<path d="M72.1,205.4L70.9,205.1" stroke="#4a4a4a" stroke-width="0.85"/>
<path d="M66.6,204.1L65.3,203.9" stroke="#4a4a4a" stroke-width="0.85"/>
<path d="M60.2,202.7L58.9,202.4" stroke="#4a4a4a" stroke-width="0.85"/>
<path d="M86.9,202.4L85.7,202.1" stroke="#4a4a4a" stroke-width="0.85"/>
<path d="M73.6,199.0L72.4,198.7" stroke="#4a4a4a" stroke-width="0.85"/>
<path d="M68.1,197.6L66.9,197.3" stroke="#4a4a4a" stroke-width="0.85"/>
<path d="M61.8,196.0L60.6,195.7" stroke="#4a4a4a" stroke-width="0.85"/>
<path d="M88.5,196.5L87.3,196.2" stroke="#4a4a4a" stroke-width="0.85"/>
<path d="M75.4,192.7L74.1,192.3" stroke="#4a4a4a" stroke-width="0.85"/>
<path d="M69.9,191.1L68.7,190.7" stroke="#4a4a4a" stroke-width="0.85"/>
<path d="M63.7,189.3L62.4,188.9" stroke="#4a4a4a" stroke-width="0.85"/>
<path d="M90.3,190.7L89.1,190.3" stroke="#4a4a4a" stroke-width="0.85"/>
<path d="M77.3,186.4L76.1,186.0" stroke="#4a4a4a" stroke-width="0.85"/>
<path d="M71.9,184.7L70.6,184.3" stroke="#4a4a4a" stroke-width="0.85"/>
<path d="M65.7,182.6L64.5,182.2" stroke="#4a4a4a" stroke-width="0.85"/>
<circle cx="78.2" cy="137.4" r="1.7" fill="none" stroke="#d8e8e6" stroke-width="0.5"/>
<circle cx="82.0" cy="131.3" r="1.7" fill="none" stroke="#d8e8e6" stroke-width="0.5"/>
<circle cx="85.9" cy="125.3" r="1.7" fill="none" stroke="#d8e8e6" stroke-width="0.5"/>
<circle cx="90.0" cy="119.4" r="1.7" fill="none" stroke="#d8e8e6" stroke-width="0.5"/>
<circle cx="94.30" cy="113.64" r="1.6" fill="#7cc6bd"/>
<circle cx="98.79" cy="108.05" r="1.6" fill="#7cc6bd"/>
<circle cx="103.4" cy="102.6" r="1.7" fill="none" stroke="#d8e8e6" stroke-width="0.5"/>
<circle cx="108.3" cy="97.3" r="1.7" fill="none" stroke="#d8e8e6" stroke-width="0.5"/>
<circle cx="113.3" cy="92.2" r="1.7" fill="none" stroke="#d8e8e6" stroke-width="0.5"/>
<circle cx="118.5" cy="87.2" r="1.7" fill="none" stroke="#d8e8e6" stroke-width="0.5"/>
<circle cx="123.8" cy="82.4" r="1.7" fill="none" stroke="#d8e8e6" stroke-width="0.5"/>
<circle cx="129.3" cy="77.8" r="1.7" fill="none" stroke="#d8e8e6" stroke-width="0.5"/>
<circle cx="134.9" cy="73.3" r="1.7" fill="none" stroke="#d8e8e6" stroke-width="0.5"/>
<circle cx="140.7" cy="69.1" r="1.7" fill="none" stroke="#d8e8e6" stroke-width="0.5"/>
<circle cx="146.6" cy="65.0" r="1.7" fill="none" stroke="#d8e8e6" stroke-width="0.5"/>
<circle cx="152.6" cy="61.1" r="1.7" fill="none" stroke="#d8e8e6" stroke-width="0.5"/>
<circle cx="158.8" cy="57.4" r="1.7" fill="none" stroke="#d8e8e6" stroke-width="0.5"/>
<circle cx="165.1" cy="54.0" r="1.7" fill="none" stroke="#d8e8e6" stroke-width="0.5"/>
<circle cx="171.4" cy="50.7" r="1.7" fill="none" stroke="#d8e8e6" stroke-width="0.5"/>
<circle cx="177.9" cy="47.6" r="1.7" fill="none" stroke="#d8e8e6" stroke-width="0.5"/>
<circle cx="184.5" cy="44.8" r="1.7" fill="none" stroke="#d8e8e6" stroke-width="0.5"/>
<circle cx="191.2" cy="42.2" r="1.7" fill="none" stroke="#d8e8e6" stroke-width="0.5"/>
<circle cx="197.9" cy="39.7" r="1.7" fill="none" stroke="#d8e8e6" stroke-width="0.5"/>
<circle cx="204.8" cy="37.5" r="1.7" fill="none" stroke="#d8e8e6" stroke-width="0.5"/>
<circle cx="211.7" cy="35.6" r="1.7" fill="none" stroke="#d8e8e6" stroke-width="0.5"/>
<circle cx="218.6" cy="33.8" r="1.7" fill="none" stroke="#d8e8e6" stroke-width="0.5"/>
<circle cx="225.6" cy="32.3" r="1.7" fill="none" stroke="#d8e8e6" stroke-width="0.5"/>
<circle cx="232.7" cy="31.0" r="1.7" fill="none" stroke="#d8e8e6" stroke-width="0.5"/>
<circle cx="239.8" cy="29.9" r="1.7" fill="none" stroke="#d8e8e6" stroke-width="0.5"/>
<circle cx="246.9" cy="29.1" r="1.7" fill="none" stroke="#d8e8e6" stroke-width="0.5"/>
<circle cx="254.0" cy="28.5" r="1.7" fill="none" stroke="#d8e8e6" stroke-width="0.5"/>
<circle cx="261.2" cy="28.1" r="1.7" fill="none" stroke="#d8e8e6" stroke-width="0.5"/>
<circle cx="268.4" cy="28.0" r="1.7" fill="none" stroke="#d8e8e6" stroke-width="0.5"/>
<circle cx="275.5" cy="28.1" r="1.7" fill="none" stroke="#d8e8e6" stroke-width="0.5"/>
<circle cx="282.7" cy="28.4" r="1.7" fill="none" stroke="#d8e8e6" stroke-width="0.5"/>
<circle cx="289.9" cy="29.0" r="1.7" fill="none" stroke="#d8e8e6" stroke-width="0.5"/>
<circle cx="297.0" cy="29.8" r="1.7" fill="none" stroke="#d8e8e6" stroke-width="0.5"/>
<circle cx="304.1" cy="30.8" r="1.7" fill="none" stroke="#d8e8e6" stroke-width="0.5"/>
<circle cx="311.1" cy="32.1" r="1.7" fill="none" stroke="#d8e8e6" stroke-width="0.5"/>
<circle cx="318.17" cy="33.54" r="1.6" fill="#7cc6bd"/>
<circle cx="325.1" cy="35.2" r="1.7" fill="none" stroke="#d8e8e6" stroke-width="0.5"/>
<circle cx="332.0" cy="37.2" r="1.7" fill="none" stroke="#d8e8e6" stroke-width="0.5"/>
<circle cx="338.9" cy="39.3" r="1.7" fill="none" stroke="#d8e8e6" stroke-width="0.5"/>
<circle cx="345.6" cy="41.7" r="1.7" fill="none" stroke="#d8e8e6" stroke-width="0.5"/>
<circle cx="352.3" cy="44.3" r="1.7" fill="none" stroke="#d8e8e6" stroke-width="0.5"/>
<circle cx="358.9" cy="47.1" r="1.7" fill="none" stroke="#d8e8e6" stroke-width="0.5"/>
<circle cx="365.4" cy="50.1" r="1.7" fill="none" stroke="#d8e8e6" stroke-width="0.5"/>
<circle cx="371.8" cy="53.4" r="1.7" fill="none" stroke="#d8e8e6" stroke-width="0.5"/>
<circle cx="378.1" cy="56.8" r="1.7" fill="none" stroke="#d8e8e6" stroke-width="0.5"/>
<circle cx="384.3" cy="60.5" r="1.7" fill="none" stroke="#d8e8e6" stroke-width="0.5"/>
<circle cx="390.4" cy="64.3" r="1.7" fill="none" stroke="#d8e8e6" stroke-width="0.5"/>
<circle cx="396.3" cy="68.3" r="1.7" fill="none" stroke="#d8e8e6" stroke-width="0.5"/>
<circle cx="402.1" cy="72.6" r="1.7" fill="none" stroke="#d8e8e6" stroke-width="0.5"/>
<circle cx="407.7" cy="77.0" r="1.7" fill="none" stroke="#d8e8e6" stroke-width="0.5"/>
<circle cx="413.3" cy="81.6" r="1.7" fill="none" stroke="#d8e8e6" stroke-width="0.5"/>
<circle cx="418.6" cy="86.3" r="1.7" fill="none" stroke="#d8e8e6" stroke-width="0.5"/>
<circle cx="423.8" cy="91.3" r="1.7" fill="none" stroke="#d8e8e6" stroke-width="0.5"/>
<circle cx="428.8" cy="96.4" r="1.7" fill="none" stroke="#d8e8e6" stroke-width="0.5"/>
<circle cx="433.7" cy="101.7" r="1.7" fill="none" stroke="#d8e8e6" stroke-width="0.5"/>
<circle cx="438.4" cy="107.1" r="1.7" fill="none" stroke="#d8e8e6" stroke-width="0.5"/>
<circle cx="442.9" cy="112.7" r="1.7" fill="none" stroke="#d8e8e6" stroke-width="0.5"/>
<circle cx="447.3" cy="118.4" r="1.7" fill="none" stroke="#d8e8e6" stroke-width="0.5"/>
<circle cx="451.4" cy="124.2" r="1.7" fill="none" stroke="#d8e8e6" stroke-width="0.5"/>
<circle cx="455.4" cy="130.2" r="1.7" fill="none" stroke="#d8e8e6" stroke-width="0.5"/>
<circle cx="459.1" cy="136.3" r="1.7" fill="none" stroke="#d8e8e6" stroke-width="0.5"/>
<circle cx="462.7" cy="142.5" r="1.7" fill="none" stroke="#d8e8e6" stroke-width="0.5"/>
<circle cx="466.0" cy="148.9" r="1.7" fill="none" stroke="#d8e8e6" stroke-width="0.5"/>
<circle cx="469.17" cy="155.33" r="1.6" fill="#7cc6bd"/>
<circle cx="472.1" cy="161.9" r="1.7" fill="none" stroke="#d8e8e6" stroke-width="0.5"/>
<circle cx="474.8" cy="168.5" r="1.7" fill="none" stroke="#d8e8e6" stroke-width="0.5"/>
<circle cx="477.3" cy="175.2" r="1.7" fill="none" stroke="#d8e8e6" stroke-width="0.5"/>
<circle cx="479.6" cy="182.0" r="1.7" fill="none" stroke="#d8e8e6" stroke-width="0.5"/>
<circle cx="481.7" cy="188.9" r="1.7" fill="none" stroke="#d8e8e6" stroke-width="0.5"/>
<circle cx="483.5" cy="195.8" r="1.7" fill="none" stroke="#d8e8e6" stroke-width="0.5"/>
<circle cx="485.1" cy="202.8" r="1.7" fill="none" stroke="#d8e8e6" stroke-width="0.5"/>
<circle cx="486.5" cy="209.9" r="1.7" fill="none" stroke="#d8e8e6" stroke-width="0.5"/>
<circle cx="487.7" cy="216.9" r="1.7" fill="none" stroke="#d8e8e6" stroke-width="0.5"/>
<circle cx="488.6" cy="224.1" r="1.7" fill="none" stroke="#d8e8e6" stroke-width="0.5"/>
<circle cx="489.3" cy="231.2" r="1.7" fill="none" stroke="#d8e8e6" stroke-width="0.5"/>
<circle cx="489.7" cy="238.4" r="1.7" fill="none" stroke="#d8e8e6" stroke-width="0.5"/>
<circle cx="490.0" cy="245.5" r="1.7" fill="none" stroke="#d8e8e6" stroke-width="0.5"/>
<circle cx="490.0" cy="252.7" r="1.7" fill="none" stroke="#d8e8e6" stroke-width="0.5"/>
<circle cx="489.7" cy="259.9" r="1.7" fill="none" stroke="#d8e8e6" stroke-width="0.5"/>
<circle cx="489.3" cy="267.0" r="1.7" fill="none" stroke="#d8e8e6" stroke-width="0.5"/>
<circle cx="488.6" cy="274.2" r="1.7" fill="none" stroke="#d8e8e6" stroke-width="0.5"/>
<circle cx="487.6" cy="281.3" r="1.7" fill="none" stroke="#d8e8e6" stroke-width="0.5"/>
<circle cx="486.5" cy="288.3" r="1.7" fill="none" stroke="#d8e8e6" stroke-width="0.5"/>
<circle cx="485.1" cy="295.4" r="1.7" fill="none" stroke="#d8e8e6" stroke-width="0.5"/>
<circle cx="483.5" cy="302.4" r="1.7" fill="none" stroke="#d8e8e6" stroke-width="0.5"/>
<circle cx="481.6" cy="309.3" r="1.7" fill="none" stroke="#d8e8e6" stroke-width="0.5"/>
<circle cx="479.5" cy="316.2" r="1.7" fill="none" stroke="#d8e8e6" stroke-width="0.5"/>
<circle cx="477.3" cy="323.0" r="1.7" fill="none" stroke="#d8e8e6" stroke-width="0.5"/>
<circle cx="474.74" cy="329.69" r="1.6" fill="#7cc6bd"/>
<circle cx="472.0" cy="336.3" r="1.7" fill="none" stroke="#d8e8e6" stroke-width="0.5"/>
<circle cx="469.1" cy="342.9" r="1.7" fill="none" stroke="#d8e8e6" stroke-width="0.5"/>
<circle cx="465.9" cy="349.3" r="1.7" fill="none" stroke="#d8e8e6" stroke-width="0.5"/>
<circle cx="462.6" cy="355.6" r="1.7" fill="none" stroke="#d8e8e6" stroke-width="0.5"/>
<circle cx="459.0" cy="361.9" r="1.7" fill="none" stroke="#d8e8e6" stroke-width="0.5"/>
<circle cx="455.2" cy="368.0" r="1.7" fill="none" stroke="#d8e8e6" stroke-width="0.5"/>
<circle cx="451.3" cy="374.0" r="1.7" fill="none" stroke="#d8e8e6" stroke-width="0.5"/>
<circle cx="447.1" cy="379.8" r="1.7" fill="none" stroke="#d8e8e6" stroke-width="0.5"/>
<circle cx="442.8" cy="385.5" r="1.7" fill="none" stroke="#d8e8e6" stroke-width="0.5"/>
<circle cx="438.3" cy="391.1" r="1.7" fill="none" stroke="#d8e8e6" stroke-width="0.5"/>
<circle cx="433.6" cy="396.5" r="1.7" fill="none" stroke="#d8e8e6" stroke-width="0.5"/>
<circle cx="428.7" cy="401.8" r="1.7" fill="none" stroke="#d8e8e6" stroke-width="0.5"/>
<circle cx="423.7" cy="406.9" r="1.7" fill="none" stroke="#d8e8e6" stroke-width="0.5"/>
<circle cx="418.5" cy="411.8" r="1.7" fill="none" stroke="#d8e8e6" stroke-width="0.5"/>
<circle cx="413.1" cy="416.6" r="1.7" fill="none" stroke="#d8e8e6" stroke-width="0.5"/>
<circle cx="407.6" cy="421.2" r="1.7" fill="none" stroke="#d8e8e6" stroke-width="0.5"/>
<circle cx="401.9" cy="425.6" r="1.7" fill="none" stroke="#d8e8e6" stroke-width="0.5"/>
<circle cx="396.1" cy="429.8" r="1.7" fill="none" stroke="#d8e8e6" stroke-width="0.5"/>
<circle cx="390.19" cy="433.81" r="1.6" fill="#7cc6bd"/>
<circle cx="384.1" cy="437.6" r="1.7" fill="none" stroke="#d8e8e6" stroke-width="0.5"/>
<circle cx="377.9" cy="441.3" r="1.7" fill="none" stroke="#d8e8e6" stroke-width="0.5"/>
<circle cx="371.6" cy="444.7" r="1.7" fill="none" stroke="#d8e8e6" stroke-width="0.5"/>
<circle cx="365.2" cy="447.9" r="1.7" fill="none" stroke="#d8e8e6" stroke-width="0.5"/>
<circle cx="358.7" cy="451.0" r="1.7" fill="none" stroke="#d8e8e6" stroke-width="0.5"/>
<circle cx="352.1" cy="453.8" r="1.7" fill="none" stroke="#d8e8e6" stroke-width="0.5"/>
<circle cx="345.4" cy="456.4" r="1.7" fill="none" stroke="#d8e8e6" stroke-width="0.5"/>
<circle cx="338.7" cy="458.7" r="1.7" fill="none" stroke="#d8e8e6" stroke-width="0.5"/>
<circle cx="331.8" cy="460.9" r="1.7" fill="none" stroke="#d8e8e6" stroke-width="0.5"/>
<circle cx="324.9" cy="462.8" r="1.7" fill="none" stroke="#d8e8e6" stroke-width="0.5"/>
<circle cx="318.0" cy="464.5" r="1.7" fill="none" stroke="#d8e8e6" stroke-width="0.5"/>
<circle cx="310.9" cy="466.0" r="1.7" fill="none" stroke="#d8e8e6" stroke-width="0.5"/>
<circle cx="303.9" cy="467.2" r="1.7" fill="none" stroke="#d8e8e6" stroke-width="0.5"/>
<circle cx="296.8" cy="468.2" r="1.7" fill="none" stroke="#d8e8e6" stroke-width="0.5"/>
<circle cx="289.6" cy="469.0" r="1.7" fill="none" stroke="#d8e8e6" stroke-width="0.5"/>
<circle cx="282.5" cy="469.6" r="1.7" fill="none" stroke="#d8e8e6" stroke-width="0.5"/>
<circle cx="275.3" cy="469.9" r="1.7" fill="none" stroke="#d8e8e6" stroke-width="0.5"/>
<circle cx="268.2" cy="470.0" r="1.7" fill="none" stroke="#d8e8e6" stroke-width="0.5"/>
<circle cx="261.0" cy="469.9" r="1.7" fill="none" stroke="#d8e8e6" stroke-width="0.5"/>
<circle cx="253.8" cy="469.5" r="1.7" fill="none" stroke="#d8e8e6" stroke-width="0.5"/>
<circle cx="246.7" cy="468.9" r="1.7" fill="none" stroke="#d8e8e6" stroke-width="0.5"/>
<circle cx="239.6" cy="468.0" r="1.7" fill="none" stroke="#d8e8e6" stroke-width="0.5"/>
<circle cx="232.5" cy="467.0" r="1.7" fill="none" stroke="#d8e8e6" stroke-width="0.5"/>
<circle cx="225.4" cy="465.7" r="1.7" fill="none" stroke="#d8e8e6" stroke-width="0.5"/>
<circle cx="218.4" cy="464.1" r="1.7" fill="none" stroke="#d8e8e6" stroke-width="0.5"/>
<circle cx="211.4" cy="462.4" r="1.7" fill="none" stroke="#d8e8e6" stroke-width="0.5"/>
<circle cx="204.6" cy="460.4" r="1.7" fill="none" stroke="#d8e8e6" stroke-width="0.5"/>
<circle cx="197.7" cy="458.2" r="1.7" fill="none" stroke="#d8e8e6" stroke-width="0.5"/>
<circle cx="191.0" cy="455.8" r="1.7" fill="none" stroke="#d8e8e6" stroke-width="0.5"/>
<circle cx="184.3" cy="453.1" r="1.7" fill="none" stroke="#d8e8e6" stroke-width="0.5"/>
<circle cx="177.7" cy="450.3" r="1.7" fill="none" stroke="#d8e8e6" stroke-width="0.5"/>
<circle cx="171.2" cy="447.2" r="1.7" fill="none" stroke="#d8e8e6" stroke-width="0.5"/>
<circle cx="164.9" cy="443.9" r="1.7" fill="none" stroke="#d8e8e6" stroke-width="0.5"/>
<circle cx="158.6" cy="440.4" r="1.7" fill="none" stroke="#d8e8e6" stroke-width="0.5"/>
<circle cx="152.4" cy="436.8" r="1.7" fill="none" stroke="#d8e8e6" stroke-width="0.5"/>
<circle cx="146.4" cy="432.9" r="1.7" fill="none" stroke="#d8e8e6" stroke-width="0.5"/>
<circle cx="140.5" cy="428.8" r="1.7" fill="none" stroke="#d8e8e6" stroke-width="0.5"/>
<circle cx="134.7" cy="424.5" r="1.7" fill="none" stroke="#d8e8e6" stroke-width="0.5"/>
<circle cx="129.1" cy="420.1" r="1.7" fill="none" stroke="#d8e8e6" stroke-width="0.5"/>
<circle cx="123.6" cy="415.5" r="1.7" fill="none" stroke="#d8e8e6" stroke-width="0.5"/>
<circle cx="118.3" cy="410.7" r="1.7" fill="none" stroke="#d8e8e6" stroke-width="0.5"/>
<circle cx="113.1" cy="405.7" r="1.7" fill="none" stroke="#d8e8e6" stroke-width="0.5"/>
<circle cx="108.1" cy="400.5" r="1.7" fill="none" stroke="#d8e8e6" stroke-width="0.5"/>
<circle cx="103.3" cy="395.2" r="1.7" fill="none" stroke="#d8e8e6" stroke-width="0.5"/>
<circle cx="98.6" cy="389.8" r="1.7" fill="none" stroke="#d8e8e6" stroke-width="0.5"/>
<circle cx="94.2" cy="384.2" r="1.7" fill="none" stroke="#d8e8e6" stroke-width="0.5"/>
<circle cx="89.9" cy="378.4" r="1.7" fill="none" stroke="#d8e8e6" stroke-width="0.5"/>
<circle cx="85.8" cy="372.6" r="1.7" fill="none" stroke="#d8e8e6" stroke-width="0.5"/>
<circle cx="81.9" cy="366.6" r="1.7" fill="none" stroke="#d8e8e6" stroke-width="0.5"/>
<circle cx="78.1" cy="360.4" r="1.7" fill="none" stroke="#d8e8e6" stroke-width="0.5"/>
<circle cx="74.6" cy="354.2" r="1.7" fill="none" stroke="#d8e8e6" stroke-width="0.5"/>
<circle cx="71.3" cy="347.8" r="1.7" fill="none" stroke="#d8e8e6" stroke-width="0.5"/>
<circle cx="68.2" cy="341.3" r="1.7" fill="none" stroke="#d8e8e6" stroke-width="0.5"/>
<circle cx="65.3" cy="334.8" r="1.7" fill="none" stroke="#d8e8e6" stroke-width="0.5"/>
<circle cx="62.65" cy="328.11" r="1.6" fill="#7cc6bd"/>
<circle cx="60.2" cy="321.4" r="1.7" fill="none" stroke="#d8e8e6" stroke-width="0.5"/>
<circle cx="57.9" cy="314.6" r="1.7" fill="none" stroke="#d8e8e6" stroke-width="0.5"/>
<circle cx="55.9" cy="307.7" r="1.7" fill="none" stroke="#d8e8e6" stroke-width="0.5"/>
<circle cx="54.1" cy="300.7" r="1.7" fill="none" stroke="#d8e8e6" stroke-width="0.5"/>
<circle cx="52.6" cy="293.7" r="1.7" fill="none" stroke="#d8e8e6" stroke-width="0.5"/>
<circle cx="51.2" cy="286.7" r="1.7" fill="none" stroke="#d8e8e6" stroke-width="0.5"/>
<circle cx="50.1" cy="279.6" r="1.7" fill="none" stroke="#d8e8e6" stroke-width="0.5"/>
<circle cx="49.3" cy="272.5" r="1.7" fill="none" stroke="#d8e8e6" stroke-width="0.5"/>
<circle cx="48.6" cy="265.3" r="1.7" fill="none" stroke="#d8e8e6" stroke-width="0.5"/>
<circle cx="48.2" cy="258.2" r="1.7" fill="none" stroke="#d8e8e6" stroke-width="0.5"/>
<circle cx="48.0" cy="251.0" r="1.7" fill="none" stroke="#d8e8e6" stroke-width="0.5"/>
<circle cx="48.1" cy="243.8" r="1.7" fill="none" stroke="#d8e8e6" stroke-width="0.5"/>
<circle cx="48.3" cy="236.7" r="1.7" fill="none" stroke="#d8e8e6" stroke-width="0.5"/>
<circle cx="48.9" cy="229.5" r="1.7" fill="none" stroke="#d8e8e6" stroke-width="0.5"/>
<circle cx="49.61" cy="222.38" r="1.6" fill="#7cc6bd"/>
<circle cx="50.59" cy="215.28" r="1.6" fill="#7cc6bd"/>
<circle cx="51.8" cy="208.2" r="1.7" fill="none" stroke="#d8e8e6" stroke-width="0.5"/>
<circle cx="53.2" cy="201.2" r="1.7" fill="none" stroke="#d8e8e6" stroke-width="0.5"/>
<circle cx="54.9" cy="194.2" r="1.7" fill="none" stroke="#d8e8e6" stroke-width="0.5"/>
<circle cx="56.8" cy="187.3" r="1.7" fill="none" stroke="#d8e8e6" stroke-width="0.5"/>
<circle cx="58.91" cy="180.43" r="1.6" fill="#7cc6bd"/>
<g font-size="5.1" font-weight="bold">
<text x="66.16" y="130.33" transform="rotate(30.33 66.16 130.33)" text-anchor="end" dominant-baseline="central" fill="#d4b84a">Y</text>
<text x="70.12" y="123.81" transform="rotate(32.19 70.12 123.81)" text-anchor="end" dominant-baseline="central" fill="#d4b84a">Y</text>
<text x="74.29" y="117.42" transform="rotate(34.05 74.29 117.42)" text-anchor="end" dominant-baseline="central" fill="#d4b84a">Y</text>
<text x="78.66" y="111.17" transform="rotate(35.91 78.66 111.17)" text-anchor="end" dominant-baseline="central" fill="#d4b84a">Y</text>
<text x="83.23" y="105.07" transform="rotate(37.77 83.23 105.07)" text-anchor="end" dominant-baseline="central" fill="#d4b84a">Y</text>
<text x="88.00" y="99.12" transform="rotate(39.63 88.00 99.12)" text-anchor="end" dominant-baseline="central" fill="#d4b84a">Y</text>
<text x="92.96" y="93.32" transform="rotate(41.49 92.96 93.32)" text-anchor="end" dominant-baseline="central" fill="#d4b84a">Y</text>
<text x="98.11" y="87.69" transform="rotate(43.35 98.11 87.69)" text-anchor="end" dominant-baseline="central" fill="#d4b84a">Y</text>
<text x="103.43" y="82.23" transform="rotate(45.21 103.43 82.23)" text-anchor="end" dominant-baseline="central" fill="#d4b84a">Y</text>
<text x="108.93" y="76.95" transform="rotate(47.07 108.93 76.95)" text-anchor="end" dominant-baseline="central" fill="#d4b84a">Y</text>
<text x="114.60" y="71.84" transform="rotate(48.93 114.60 71.84)" text-anchor="end" dominant-baseline="central" fill="#d4b84a">Y</text>
<text x="120.43" y="66.93" transform="rotate(50.79 120.43 66.93)" text-anchor="end" dominant-baseline="central" fill="#d4b84a">Y</text>
<text x="126.41" y="62.20" transform="rotate(52.65 126.41 62.20)" text-anchor="end" dominant-baseline="central" fill="#d4b84a">Y</text>
<text x="132.55" y="57.67" transform="rotate(54.50 132.55 57.67)" text-anchor="end" dominant-baseline="central" fill="#d4b84a">Y</text>
<text x="138.83" y="53.34" transform="rotate(56.36 138.83 53.34)" text-anchor="end" dominant-baseline="central" fill="#f59a45">4av</text>
<text x="145.25" y="49.22" transform="rotate(58.22 145.25 49.22)" text-anchor="end" dominant-baseline="central" fill="#ec7fc0">X</text>
<text x="151.80" y="45.31" transform="rotate(60.08 151.80 45.31)" text-anchor="end" dominant-baseline="central" fill="#ad84d6">3a</text>
<text x="158.47" y="41.62" transform="rotate(61.94 158.47 41.62)" text-anchor="end" dominant-baseline="central" fill="#ad84d6">3a</text>
<text x="165.26" y="38.14" transform="rotate(63.80 165.26 38.14)" text-anchor="end" dominant-baseline="central" fill="#ec7fc0">X</text>
<text x="172.15" y="34.88" transform="rotate(65.66 172.15 34.88)" text-anchor="end" dominant-baseline="central" fill="#ad84d6">3a</text>
<text x="179.15" y="31.85" transform="rotate(67.52 179.15 31.85)" text-anchor="end" dominant-baseline="central" fill="#ec7fc0">X</text>
<text x="186.25" y="29.05" transform="rotate(69.38 186.25 29.05)" text-anchor="end" dominant-baseline="central" fill="#ec7fc0">X</text>
<text x="193.43" y="26.48" transform="rotate(71.24 193.43 26.48)" text-anchor="end" dominant-baseline="central" fill="#ad84d6">3a</text>
<text x="200.69" y="24.15" transform="rotate(73.10 200.69 24.15)" text-anchor="end" dominant-baseline="central" fill="#ad84d6">3a</text>
<text x="208.02" y="22.05" transform="rotate(74.96 208.02 22.05)" text-anchor="end" dominant-baseline="central" fill="#d4b84a">Y</text>
<text x="215.42" y="20.19" transform="rotate(76.82 215.42 20.19)" text-anchor="end" dominant-baseline="central" fill="#d4b84a">Y</text>
<text x="222.87" y="18.57" transform="rotate(78.68 222.87 18.57)" text-anchor="end" dominant-baseline="central" fill="#d4b84a">Y</text>
<text x="230.37" y="17.20" transform="rotate(80.54 230.37 17.20)" text-anchor="end" dominant-baseline="central" fill="#d4b84a">Y</text>
<text x="237.91" y="16.06" transform="rotate(82.40 237.91 16.06)" text-anchor="end" dominant-baseline="central" fill="#d4b84a">Yv</text>
<text x="245.49" y="15.18" transform="rotate(84.26 245.49 15.18)" text-anchor="end" dominant-baseline="central" fill="#f59a45">4a</text>
<text x="253.09" y="14.54" transform="rotate(86.12 253.09 14.54)" text-anchor="end" dominant-baseline="central" fill="#d4b84a">Y</text>
<text x="260.71" y="14.15" transform="rotate(87.98 260.71 14.15)" text-anchor="end" dominant-baseline="central" fill="#f59a45">4av</text>
<text x="268.33" y="14.00" transform="rotate(89.84 268.33 14.00)" text-anchor="end" dominant-baseline="central" fill="#f59a45">4av</text>
<text x="275.96" y="14.10" transform="rotate(271.70 275.96 14.10)" text-anchor="start" dominant-baseline="central" fill="#999999">.</text>
<text x="283.58" y="14.45" transform="rotate(273.56 283.58 14.45)" text-anchor="start" dominant-baseline="central" fill="#ec7fc0">X</text>
<text x="291.18" y="15.05" transform="rotate(275.42 291.18 15.05)" text-anchor="start" dominant-baseline="central" fill="#d4b84a">Y</text>
<text x="298.76" y="15.89" transform="rotate(277.28 298.76 15.89)" text-anchor="start" dominant-baseline="central" fill="#f59a45">4a</text>
<text x="306.31" y="16.98" transform="rotate(279.14 306.31 16.98)" text-anchor="start" dominant-baseline="central" fill="#d4b84a">Yv</text>
<text x="313.82" y="18.31" transform="rotate(280.99 313.82 18.31)" text-anchor="start" dominant-baseline="central" fill="#f59a45">4av</text>
<text x="321.28" y="19.89" transform="rotate(282.85 321.28 19.89)" text-anchor="start" dominant-baseline="central" fill="#d4b84a">Y</text>
<text x="328.69" y="21.71" transform="rotate(284.71 328.69 21.71)" text-anchor="start" dominant-baseline="central" fill="#d4b84a">Yv</text>
<text x="336.03" y="23.76" transform="rotate(286.57 336.03 23.76)" text-anchor="start" dominant-baseline="central" fill="#f59a45">4a</text>
<text x="343.31" y="26.06" transform="rotate(288.43 343.31 26.06)" text-anchor="start" dominant-baseline="central" fill="#ad84d6">3a</text>
<text x="350.50" y="28.59" transform="rotate(290.29 350.50 28.59)" text-anchor="start" dominant-baseline="central" fill="#ad84d6">3a</text>
<text x="357.61" y="31.35" transform="rotate(292.15 357.61 31.35)" text-anchor="start" dominant-baseline="central" fill="#ad84d6">3a</text>
<text x="364.63" y="34.34" transform="rotate(294.01 364.63 34.34)" text-anchor="start" dominant-baseline="central" fill="#ad84d6">3a</text>
<text x="371.54" y="37.55" transform="rotate(295.87 371.54 37.55)" text-anchor="start" dominant-baseline="central" fill="#ad84d6">3a</text>
<text x="378.35" y="40.99" transform="rotate(297.73 378.35 40.99)" text-anchor="start" dominant-baseline="central" fill="#ad84d6">3a</text>
<text x="385.04" y="44.65" transform="rotate(299.59 385.04 44.65)" text-anchor="start" dominant-baseline="central" fill="#ad84d6">3a</text>
<text x="391.61" y="48.52" transform="rotate(301.45 391.61 48.52)" text-anchor="start" dominant-baseline="central" fill="#ad84d6">3a</text>
<text x="398.05" y="52.61" transform="rotate(303.31 398.05 52.61)" text-anchor="start" dominant-baseline="central" fill="#ec7fc0">X</text>
<text x="404.36" y="56.90" transform="rotate(305.17 404.36 56.90)" text-anchor="start" dominant-baseline="central" fill="#ad84d6">3a</text>
<text x="410.52" y="61.39" transform="rotate(307.03 410.52 61.39)" text-anchor="start" dominant-baseline="central" fill="#ec7fc0">X</text>
<text x="416.54" y="66.08" transform="rotate(308.89 416.54 66.08)" text-anchor="start" dominant-baseline="central" fill="#ad84d6">3a</text>
<text x="422.39" y="70.97" transform="rotate(310.75 422.39 70.97)" text-anchor="start" dominant-baseline="central" fill="#ad84d6">3a</text>
<text x="428.09" y="76.04" transform="rotate(312.61 428.09 76.04)" text-anchor="start" dominant-baseline="central" fill="#ad84d6">3a</text>
<text x="433.62" y="81.29" transform="rotate(314.47 433.62 81.29)" text-anchor="start" dominant-baseline="central" fill="#ad84d6">3a</text>
<text x="438.97" y="86.72" transform="rotate(316.33 438.97 86.72)" text-anchor="start" dominant-baseline="central" fill="#ad84d6">3a</text>
<text x="444.15" y="92.32" transform="rotate(318.19 444.15 92.32)" text-anchor="start" dominant-baseline="central" fill="#ad84d6">3a</text>
<text x="449.14" y="98.09" transform="rotate(320.05 449.14 98.09)" text-anchor="start" dominant-baseline="central" fill="#ad84d6">3a</text>
<text x="453.94" y="104.02" transform="rotate(321.91 453.94 104.02)" text-anchor="start" dominant-baseline="central" fill="#ad84d6">3a</text>
<text x="458.55" y="110.09" transform="rotate(323.77 458.55 110.09)" text-anchor="start" dominant-baseline="central" fill="#ad84d6">3a</text>
<text x="462.96" y="116.32" transform="rotate(325.63 462.96 116.32)" text-anchor="start" dominant-baseline="central" fill="#ad84d6">3a</text>
<text x="467.16" y="122.68" transform="rotate(327.48 467.16 122.68)" text-anchor="start" dominant-baseline="central" fill="#ad84d6">3a</text>
<text x="471.16" y="129.18" transform="rotate(329.34 471.16 129.18)" text-anchor="start" dominant-baseline="central" fill="#ad84d6">3a</text>
<text x="474.94" y="135.80" transform="rotate(331.20 474.94 135.80)" text-anchor="start" dominant-baseline="central" fill="#ad84d6">3a</text>
<text x="478.50" y="142.54" transform="rotate(333.06 478.50 142.54)" text-anchor="start" dominant-baseline="central" fill="#ad84d6">3a</text>
<text x="481.85" y="149.40" transform="rotate(334.92 481.85 149.40)" text-anchor="start" dominant-baseline="central" fill="#ad84d6">3a</text>
<text x="484.97" y="156.36" transform="rotate(336.78 484.97 156.36)" text-anchor="start" dominant-baseline="central" fill="#ad84d6">3a</text>
<text x="487.86" y="163.42" transform="rotate(338.64 487.86 163.42)" text-anchor="start" dominant-baseline="central" fill="#66c266">2a</text>
<text x="490.52" y="170.56" transform="rotate(340.50 490.52 170.56)" text-anchor="start" dominant-baseline="central" fill="#66c266">2a</text>
<text x="492.95" y="177.79" transform="rotate(342.36 492.95 177.79)" text-anchor="start" dominant-baseline="central" fill="#999999">.</text>
<text x="495.14" y="185.10" transform="rotate(344.22 495.14 185.10)" text-anchor="start" dominant-baseline="central" fill="#d4b84a">Y</text>
<text x="497.10" y="192.47" transform="rotate(346.08 497.10 192.47)" text-anchor="start" dominant-baseline="central" fill="#66c266">2a</text>
<text x="498.81" y="199.90" transform="rotate(347.94 498.81 199.90)" text-anchor="start" dominant-baseline="central" fill="#6a9fd8">1a</text>
<text x="500.29" y="207.39" transform="rotate(349.80 500.29 207.39)" text-anchor="start" dominant-baseline="central" fill="#66c266">2a</text>
<text x="501.51" y="214.91" transform="rotate(351.66 501.51 214.91)" text-anchor="start" dominant-baseline="central" fill="#66c266">2a</text>
<text x="502.50" y="222.48" transform="rotate(353.52 502.50 222.48)" text-anchor="start" dominant-baseline="central" fill="#66c266">2a</text>
<text x="503.24" y="230.07" transform="rotate(355.38 503.24 230.07)" text-anchor="start" dominant-baseline="central" fill="#66c266">2a</text>
<text x="503.73" y="237.68" transform="rotate(357.24 503.73 237.68)" text-anchor="start" dominant-baseline="central" fill="#ec7fc0">X</text>
<text x="503.97" y="245.30" transform="rotate(359.10 503.97 245.30)" text-anchor="start" dominant-baseline="central" fill="#66c266">2a</text>
<text x="503.97" y="252.93" transform="rotate(0.96 503.97 252.93)" text-anchor="start" dominant-baseline="central" fill="#66c266">2a</text>
<text x="503.72" y="260.55" transform="rotate(2.82 503.72 260.55)" text-anchor="start" dominant-baseline="central" fill="#66c266">2a</text>
<text x="503.22" y="268.16" transform="rotate(4.68 503.22 268.16)" text-anchor="start" dominant-baseline="central" fill="#66c266">2a</text>
<text x="502.47" y="275.75" transform="rotate(6.54 502.47 275.75)" text-anchor="start" dominant-baseline="central" fill="#66c266">2a</text>
<text x="501.48" y="283.31" transform="rotate(8.40 501.48 283.31)" text-anchor="start" dominant-baseline="central" fill="#66c266">2a</text>
<text x="500.25" y="290.84" transform="rotate(10.26 500.25 290.84)" text-anchor="start" dominant-baseline="central" fill="#66c266">2a</text>
<text x="498.77" y="298.32" transform="rotate(12.12 498.77 298.32)" text-anchor="start" dominant-baseline="central" fill="#66c266">2a</text>
<text x="497.04" y="305.75" transform="rotate(13.97 497.04 305.75)" text-anchor="start" dominant-baseline="central" fill="#66c266">2a</text>
<text x="495.08" y="313.12" transform="rotate(15.83 495.08 313.12)" text-anchor="start" dominant-baseline="central" fill="#d4b84a">Y</text>
<text x="492.88" y="320.42" transform="rotate(17.69 492.88 320.42)" text-anchor="start" dominant-baseline="central" fill="#66c266">2a</text>
<text x="490.45" y="327.65" transform="rotate(19.55 490.45 327.65)" text-anchor="start" dominant-baseline="central" fill="#66c266">2a</text>
<text x="487.78" y="334.80" transform="rotate(21.41 487.78 334.80)" text-anchor="start" dominant-baseline="central" fill="#66c266">2a</text>
<text x="484.88" y="341.85" transform="rotate(23.27 484.88 341.85)" text-anchor="start" dominant-baseline="central" fill="#d4b84a">Y</text>
<text x="481.75" y="348.81" transform="rotate(25.13 481.75 348.81)" text-anchor="start" dominant-baseline="central" fill="#66c266">2a</text>
<text x="478.40" y="355.66" transform="rotate(26.99 478.40 355.66)" text-anchor="start" dominant-baseline="central" fill="#d4b84a">Y</text>
<text x="474.83" y="362.40" transform="rotate(28.85 474.83 362.40)" text-anchor="start" dominant-baseline="central" fill="#66c266">2a</text>
<text x="471.04" y="369.02" transform="rotate(30.71 471.04 369.02)" text-anchor="start" dominant-baseline="central" fill="#66c266">2a</text>
<text x="467.04" y="375.51" transform="rotate(32.57 467.04 375.51)" text-anchor="start" dominant-baseline="central" fill="#66c266">2a</text>
<text x="462.83" y="381.87" transform="rotate(34.43 462.83 381.87)" text-anchor="start" dominant-baseline="central" fill="#66c266">2a</text>
<text x="458.42" y="388.09" transform="rotate(36.29 458.42 388.09)" text-anchor="start" dominant-baseline="central" fill="#66c266">2a</text>
<text x="453.80" y="394.16" transform="rotate(38.15 453.80 394.16)" text-anchor="start" dominant-baseline="central" fill="#d4b84a">Y</text>
<text x="449.00" y="400.08" transform="rotate(40.01 449.00 400.08)" text-anchor="start" dominant-baseline="central" fill="#66c266">2a</text>
<text x="444.00" y="405.85" transform="rotate(41.87 444.00 405.85)" text-anchor="start" dominant-baseline="central" fill="#66c266">2a</text>
<text x="438.82" y="411.44" transform="rotate(43.73 438.82 411.44)" text-anchor="start" dominant-baseline="central" fill="#66c266">2a</text>
<text x="433.46" y="416.87" transform="rotate(45.59 433.46 416.87)" text-anchor="start" dominant-baseline="central" fill="#66c266">2a</text>
<text x="427.92" y="422.11" transform="rotate(47.45 427.92 422.11)" text-anchor="start" dominant-baseline="central" fill="#66c266">2a</text>
<text x="422.22" y="427.18" transform="rotate(49.31 422.22 427.18)" text-anchor="start" dominant-baseline="central" fill="#6a9fd8">1a</text>
<text x="416.36" y="432.06" transform="rotate(51.17 416.36 432.06)" text-anchor="start" dominant-baseline="central" fill="#ec7fc0">X</text>
<text x="410.34" y="436.74" transform="rotate(53.03 410.34 436.74)" text-anchor="start" dominant-baseline="central" fill="#66c266">2a</text>
<text x="404.17" y="441.23" transform="rotate(54.89 404.17 441.23)" text-anchor="start" dominant-baseline="central" fill="#66c266">2a</text>
<text x="397.86" y="445.52" transform="rotate(56.75 397.86 445.52)" text-anchor="start" dominant-baseline="central" fill="#d99a7a">3b</text>
<text x="391.42" y="449.60" transform="rotate(58.61 391.42 449.60)" text-anchor="start" dominant-baseline="central" fill="#d99a7a">3b</text>
<text x="384.85" y="453.46" transform="rotate(60.46 384.85 453.46)" text-anchor="start" dominant-baseline="central" fill="#999999">.</text>
<text x="378.15" y="457.11" transform="rotate(62.32 378.15 457.11)" text-anchor="start" dominant-baseline="central" fill="#d99a7a">3b</text>
<text x="371.34" y="460.55" transform="rotate(64.18 371.34 460.55)" text-anchor="start" dominant-baseline="central" fill="#999999">.</text>
<text x="364.42" y="463.76" transform="rotate(66.04 364.42 463.76)" text-anchor="start" dominant-baseline="central" fill="#d99a7a">3b</text>
<text x="357.40" y="466.74" transform="rotate(67.90 357.40 466.74)" text-anchor="start" dominant-baseline="central" fill="#66c266">2a</text>
<text x="350.29" y="469.49" transform="rotate(69.76 350.29 469.49)" text-anchor="start" dominant-baseline="central" fill="#66c266">2a</text>
<text x="343.09" y="472.01" transform="rotate(71.62 343.09 472.01)" text-anchor="start" dominant-baseline="central" fill="#66c266">2a</text>
<text x="335.81" y="474.30" transform="rotate(73.48 335.81 474.30)" text-anchor="start" dominant-baseline="central" fill="#66c266">2a</text>
<text x="328.47" y="476.35" transform="rotate(75.34 328.47 476.35)" text-anchor="start" dominant-baseline="central" fill="#66c266">2a</text>
<text x="321.06" y="478.16" transform="rotate(77.20 321.06 478.16)" text-anchor="start" dominant-baseline="central" fill="#66c266">2a</text>
<text x="313.60" y="479.73" transform="rotate(79.06 313.60 479.73)" text-anchor="start" dominant-baseline="central" fill="#66c266">2a</text>
<text x="306.08" y="481.06" transform="rotate(80.92 306.08 481.06)" text-anchor="start" dominant-baseline="central" fill="#66c266">2a</text>
<text x="298.53" y="482.14" transform="rotate(82.78 298.53 482.14)" text-anchor="start" dominant-baseline="central" fill="#ec7fc0">X</text>
<text x="290.95" y="482.97" transform="rotate(84.64 290.95 482.97)" text-anchor="start" dominant-baseline="central" fill="#ec7fc0">X</text>
<text x="283.35" y="483.56" transform="rotate(86.50 283.35 483.56)" text-anchor="start" dominant-baseline="central" fill="#d4b84a">Y</text>
<text x="275.73" y="483.90" transform="rotate(88.36 275.73 483.90)" text-anchor="start" dominant-baseline="central" fill="#d4b84a">Y</text>
<text x="268.10" y="484.00" transform="rotate(-89.78 268.10 484.00)" text-anchor="end" dominant-baseline="central" fill="#ec7fc0">X</text>
<text x="260.48" y="483.85" transform="rotate(-87.92 260.48 483.85)" text-anchor="end" dominant-baseline="central" fill="#ec7fc0">X</text>
<text x="252.86" y="483.45" transform="rotate(-86.06 252.86 483.45)" text-anchor="end" dominant-baseline="central" fill="#ec7fc0">X</text>
<text x="245.26" y="482.80" transform="rotate(-84.20 245.26 482.80)" text-anchor="end" dominant-baseline="central" fill="#ec7fc0">X</text>
<text x="237.69" y="481.90" transform="rotate(-82.34 237.69 481.90)" text-anchor="end" dominant-baseline="central" fill="#66c266">2a</text>
<text x="230.15" y="480.77" transform="rotate(-80.48 230.15 480.77)" text-anchor="end" dominant-baseline="central" fill="#66c266">2a</text>
<text x="222.65" y="479.38" transform="rotate(-78.62 222.65 479.38)" text-anchor="end" dominant-baseline="central" fill="#66c266">2a</text>
<text x="215.20" y="477.76" transform="rotate(-76.76 215.20 477.76)" text-anchor="end" dominant-baseline="central" fill="#66c266">2a</text>
<text x="207.80" y="475.89" transform="rotate(-74.90 207.80 475.89)" text-anchor="end" dominant-baseline="central" fill="#66c266">2a</text>
<text x="200.47" y="473.79" transform="rotate(-73.05 200.47 473.79)" text-anchor="end" dominant-baseline="central" fill="#66c266">2a</text>
<text x="193.21" y="471.44" transform="rotate(-71.19 193.21 471.44)" text-anchor="end" dominant-baseline="central" fill="#66c266">2a</text>
<text x="186.03" y="468.87" transform="rotate(-69.33 186.03 468.87)" text-anchor="end" dominant-baseline="central" fill="#66c266">2a</text>
<text x="178.94" y="466.06" transform="rotate(-67.47 178.94 466.06)" text-anchor="end" dominant-baseline="central" fill="#66c266">2a</text>
<text x="171.95" y="463.02" transform="rotate(-65.61 171.95 463.02)" text-anchor="end" dominant-baseline="central" fill="#66c266">2a</text>
<text x="165.05" y="459.76" transform="rotate(-63.75 165.05 459.76)" text-anchor="end" dominant-baseline="central" fill="#66c266">2a</text>
<text x="158.27" y="456.28" transform="rotate(-61.89 158.27 456.28)" text-anchor="end" dominant-baseline="central" fill="#66c266">2a</text>
<text x="151.60" y="452.57" transform="rotate(-60.03 151.60 452.57)" text-anchor="end" dominant-baseline="central" fill="#66c266">2a</text>
<text x="145.06" y="448.66" transform="rotate(-58.17 145.06 448.66)" text-anchor="end" dominant-baseline="central" fill="#66c266">2a</text>
<text x="138.64" y="444.53" transform="rotate(-56.31 138.64 444.53)" text-anchor="end" dominant-baseline="central" fill="#66c266">2a</text>
<text x="132.37" y="440.20" transform="rotate(-54.45 132.37 440.20)" text-anchor="end" dominant-baseline="central" fill="#66c266">2a</text>
<text x="126.23" y="435.66" transform="rotate(-52.59 126.23 435.66)" text-anchor="end" dominant-baseline="central" fill="#66c266">2a</text>
<text x="120.25" y="430.93" transform="rotate(-50.73 120.25 430.93)" text-anchor="end" dominant-baseline="central" fill="#66c266">2a</text>
<text x="114.43" y="426.01" transform="rotate(-48.87 114.43 426.01)" text-anchor="end" dominant-baseline="central" fill="#66c266">2a</text>
<text x="108.76" y="420.90" transform="rotate(-47.01 108.76 420.90)" text-anchor="end" dominant-baseline="central" fill="#66c266">2a</text>
<text x="103.27" y="415.61" transform="rotate(-45.15 103.27 415.61)" text-anchor="end" dominant-baseline="central" fill="#66c266">2a</text>
<text x="97.95" y="410.14" transform="rotate(-43.29 97.95 410.14)" text-anchor="end" dominant-baseline="central" fill="#6a9fd8">1c</text>
<text x="92.81" y="404.51" transform="rotate(-41.43 92.81 404.51)" text-anchor="end" dominant-baseline="central" fill="#6a9fd8">1a</text>
<text x="87.86" y="398.71" transform="rotate(-39.57 87.86 398.71)" text-anchor="end" dominant-baseline="central" fill="#f59a45">4b</text>
<text x="83.09" y="392.75" transform="rotate(-37.71 83.09 392.75)" text-anchor="end" dominant-baseline="central" fill="#f59a45">4a</text>
<text x="78.53" y="386.64" transform="rotate(-35.85 78.53 386.64)" text-anchor="end" dominant-baseline="central" fill="#f59a45">4ac</text>
<text x="74.16" y="380.39" transform="rotate(-33.99 74.16 380.39)" text-anchor="end" dominant-baseline="central" fill="#f59a45">4ac</text>
<text x="70.00" y="374.00" transform="rotate(-32.13 70.00 374.00)" text-anchor="end" dominant-baseline="central" fill="#f59a45">4ac</text>
<text x="66.05" y="367.47" transform="rotate(-30.27 66.05 367.47)" text-anchor="end" dominant-baseline="central" fill="#5cbf5c">2b</text>
<text x="62.31" y="360.83" transform="rotate(-28.41 62.31 360.83)" text-anchor="end" dominant-baseline="central" fill="#5cbf5c">2b</text>
<text x="58.79" y="354.06" transform="rotate(-26.56 58.79 354.06)" text-anchor="end" dominant-baseline="central" fill="#d4b84a">Y</text>
<text x="55.49" y="347.18" transform="rotate(-24.70 55.49 347.18)" text-anchor="end" dominant-baseline="central" fill="#6a9fd8">1b</text>
<text x="52.42" y="340.20" transform="rotate(-22.84 52.42 340.20)" text-anchor="end" dominant-baseline="central" fill="#6a9fd8">1b</text>
<text x="49.57" y="333.13" transform="rotate(-20.98 49.57 333.13)" text-anchor="end" dominant-baseline="central" fill="#6a9fd8">1c</text>
<text x="46.96" y="325.96" transform="rotate(-19.12 46.96 325.96)" text-anchor="end" dominant-baseline="central" fill="#6a9fd8">1c</text>
<text x="44.58" y="318.72" transform="rotate(-17.26 44.58 318.72)" text-anchor="end" dominant-baseline="central" fill="#6a9fd8">1c</text>
<text x="42.43" y="311.40" transform="rotate(-15.40 42.43 311.40)" text-anchor="end" dominant-baseline="central" fill="#b07ad0">3b</text>
<text x="40.53" y="304.01" transform="rotate(-13.54 40.53 304.01)" text-anchor="end" dominant-baseline="central" fill="#6a9fd8">1b</text>
<text x="38.86" y="296.57" transform="rotate(-11.68 38.86 296.57)" text-anchor="end" dominant-baseline="central" fill="#6a9fd8">1c</text>
<text x="37.44" y="289.08" transform="rotate(-9.82 37.44 289.08)" text-anchor="end" dominant-baseline="central" fill="#6a9fd8">1c</text>
<text x="36.26" y="281.54" transform="rotate(-7.96 36.26 281.54)" text-anchor="end" dominant-baseline="central" fill="#6a9fd8">1c</text>
<text x="35.33" y="273.97" transform="rotate(-6.10 35.33 273.97)" text-anchor="end" dominant-baseline="central" fill="#6a9fd8">1c</text>
<text x="34.64" y="266.37" transform="rotate(-4.24 34.64 266.37)" text-anchor="end" dominant-baseline="central" fill="#6a9fd8">1b</text>
<text x="34.20" y="258.76" transform="rotate(-2.38 34.20 258.76)" text-anchor="end" dominant-baseline="central" fill="#6a9fd8">1b</text>
<text x="34.01" y="251.14" transform="rotate(-0.52 34.01 251.14)" text-anchor="end" dominant-baseline="central" fill="#6a9fd8">1b</text>
<text x="34.06" y="243.51" transform="rotate(1.34 34.06 243.51)" text-anchor="end" dominant-baseline="central" fill="#6a9fd8">1a</text>
<text x="34.37" y="235.89" transform="rotate(3.20 34.37 235.89)" text-anchor="end" dominant-baseline="central" fill="#6a9fd8">1b</text>
<text x="34.92" y="228.28" transform="rotate(5.06 34.92 228.28)" text-anchor="end" dominant-baseline="central" fill="#6a9fd8">1a</text>
<text x="35.71" y="220.70" transform="rotate(6.92 35.71 220.70)" text-anchor="end" dominant-baseline="central" fill="#6a9fd8">1b</text>
<text x="36.75" y="213.14" transform="rotate(8.78 36.75 213.14)" text-anchor="end" dominant-baseline="central" fill="#6a9fd8">1b</text>
<text x="38.04" y="205.62" transform="rotate(10.64 38.04 205.62)" text-anchor="end" dominant-baseline="central" fill="#6a9fd8">1cv</text>
<text x="39.57" y="198.15" transform="rotate(12.50 39.57 198.15)" text-anchor="end" dominant-baseline="central" fill="#6a9fd8">1c</text>
<text x="41.34" y="190.73" transform="rotate(14.36 41.34 190.73)" text-anchor="end" dominant-baseline="central" fill="#6a9fd8">1b</text>
<text x="43.35" y="183.38" transform="rotate(16.22 43.35 183.38)" text-anchor="end" dominant-baseline="central" fill="#6a9fd8">1b</text>
<text x="45.60" y="176.09" transform="rotate(18.08 45.60 176.09)" text-anchor="end" dominant-baseline="central" fill="#6a9fd8">1b</text>
</g>
<g font-size="4.9" fill="#1a1a1a" font-weight="bold">
<text x="512.59" y="205.17" transform="rotate(349.80 512.59 205.17)" text-anchor="start" dominant-baseline="central">F1</text>
<text x="513.88" y="213.10" transform="rotate(351.66 513.88 213.10)" text-anchor="start" dominant-baseline="central">F1</text>
<text x="514.92" y="221.06" transform="rotate(353.52 514.92 221.06)" text-anchor="start" dominant-baseline="central">F1</text>
<text x="515.70" y="229.06" transform="rotate(355.38 515.70 229.06)" text-anchor="start" dominant-baseline="central">F1</text>
<text x="516.21" y="237.08" transform="rotate(357.24 516.21 237.08)" text-anchor="start" dominant-baseline="central">F1</text>
<text x="516.47" y="245.10" transform="rotate(359.10 516.47 245.10)" text-anchor="start" dominant-baseline="central">F1</text>
<text x="516.47" y="253.14" transform="rotate(0.96 516.47 253.14)" text-anchor="start" dominant-baseline="central">F1</text>
<text x="516.20" y="261.16" transform="rotate(2.82 516.20 261.16)" text-anchor="start" dominant-baseline="central">F1</text>
<text x="515.68" y="269.18" transform="rotate(4.68 515.68 269.18)" text-anchor="start" dominant-baseline="central">F1</text>
<text x="514.89" y="277.17" transform="rotate(6.54 514.89 277.17)" text-anchor="start" dominant-baseline="central">F1</text>
<text x="513.85" y="285.14" transform="rotate(8.40 513.85 285.14)" text-anchor="start" dominant-baseline="central">F1</text>
<text x="512.55" y="293.06" transform="rotate(10.26 512.55 293.06)" text-anchor="start" dominant-baseline="central">F1</text>
<text x="510.99" y="300.94" transform="rotate(12.12 510.99 300.94)" text-anchor="start" dominant-baseline="central">F1</text>
<text x="509.17" y="308.77" transform="rotate(13.97 509.17 308.77)" text-anchor="start" dominant-baseline="central">F1</text>
<text x="507.11" y="316.53" transform="rotate(15.83 507.11 316.53)" text-anchor="start" dominant-baseline="central">F1</text>
<text x="504.79" y="324.22" transform="rotate(17.69 504.79 324.22)" text-anchor="start" dominant-baseline="central">F1</text>
<text x="502.23" y="331.84" transform="rotate(19.55 502.23 331.84)" text-anchor="start" dominant-baseline="central">F1</text>
<text x="499.42" y="339.36" transform="rotate(21.41 499.42 339.36)" text-anchor="start" dominant-baseline="central">F1</text>
<text x="496.36" y="346.79" transform="rotate(23.27 496.36 346.79)" text-anchor="start" dominant-baseline="central">F1</text>
<text x="493.07" y="354.12" transform="rotate(25.13 493.07 354.12)" text-anchor="start" dominant-baseline="central">F1</text>
<text x="458.57" y="408.12" transform="rotate(40.01 458.57 408.12)" text-anchor="start" dominant-baseline="central">F1.3</text>
<text x="453.31" y="414.19" transform="rotate(41.87 453.31 414.19)" text-anchor="start" dominant-baseline="central">F1.3</text>
<text x="447.85" y="420.08" transform="rotate(43.73 447.85 420.08)" text-anchor="start" dominant-baseline="central">F1.3</text>
<text x="442.20" y="425.80" transform="rotate(45.59 442.20 425.80)" text-anchor="start" dominant-baseline="central">F1.3</text>
<text x="125.10" y="450.37" transform="rotate(-54.45 125.10 450.37)" text-anchor="end" dominant-baseline="central">F1.1</text>
<text x="118.64" y="445.59" transform="rotate(-52.59 118.64 445.59)" text-anchor="end" dominant-baseline="central">F1.1</text>
<text x="112.34" y="440.61" transform="rotate(-50.73 112.34 440.61)" text-anchor="end" dominant-baseline="central">F1.1</text>
<text x="106.20" y="435.42" transform="rotate(-48.87 106.20 435.42)" text-anchor="end" dominant-baseline="central">F1.1</text>
<text x="100.24" y="430.04" transform="rotate(-47.01 100.24 430.04)" text-anchor="end" dominant-baseline="central">F1.1</text>
<text x="94.45" y="424.47" transform="rotate(-45.15 94.45 424.47)" text-anchor="end" dominant-baseline="central">F1.1</text>
<text x="166.78" y="474.41" transform="rotate(-65.61 166.78 474.41)" text-anchor="end" dominant-baseline="central">F1.2</text>
<text x="159.52" y="470.97" transform="rotate(-63.75 159.52 470.97)" text-anchor="end" dominant-baseline="central">F1.2</text>
<text x="152.38" y="467.30" transform="rotate(-61.89 152.38 467.30)" text-anchor="end" dominant-baseline="central">F1.2</text>
<text x="145.35" y="463.40" transform="rotate(-60.03 145.35 463.40)" text-anchor="end" dominant-baseline="central">F1.2</text>
<text x="138.46" y="459.28" transform="rotate(-58.17 138.46 459.28)" text-anchor="end" dominant-baseline="central">F1.2</text>
<text x="131.71" y="454.93" transform="rotate(-56.31 131.71 454.93)" text-anchor="end" dominant-baseline="central">F1.2</text>
</g>
<g font-size="5.8" fill="#1e1e1e" stroke="#1e1e1e" stroke-width="0.1">
<text x="53.32" y="137.22" transform="rotate(-58 53.32 137.22)" text-anchor="end" dominant-baseline="central">Flexneri type</text>
<text x="61.21" y="141.35" transform="rotate(-58 61.21 141.35)" text-anchor="end" dominant-baseline="central">PG</text>
<text x="67.95" y="144.87" transform="rotate(-58 67.95 144.87)" text-anchor="end" dominant-baseline="central">qnr</text>
<text x="73.71" y="147.88" transform="rotate(-58 73.71 147.88)" text-anchor="end" dominant-baseline="central">parC p80</text>
<text x="79.47" y="150.89" transform="rotate(-58 79.47 150.89)" text-anchor="end" dominant-baseline="central">gyrA p87</text>
<text x="84.52" y="153.53" transform="rotate(-58 84.52 153.53)" text-anchor="end" dominant-baseline="central">gyrA p83</text>
<text x="89.83" y="156.31" transform="rotate(-58 89.83 156.31)" text-anchor="end" dominant-baseline="central">CipR</text>
<text x="96.66" y="159.88" transform="rotate(-58 96.66 159.88)" text-anchor="end" dominant-baseline="central">Gender</text>
<text x="103.13" y="163.26" transform="rotate(-58 103.13 163.26)" text-anchor="end" dominant-baseline="central">Collection</text>
</g>
<rect x="22.3" y="5.8" width="62.5" height="51" fill="#fff" stroke="#f0f0f0" stroke-width="0.6"/>
<text x="24.900000000000002" y="13.899999999999999" font-size="6.45" font-weight="bold" fill="#111" stroke="#111" stroke-width="0.08">Ciproflaxin</text>
<line x1="24.3" y1="17.5" x2="83.3" y2="17.5" stroke="#cfcfcf" stroke-width="0.6"/>
<rect x="24.900000000000002" y="20.40" width="8.8" height="8.6" fill="#b2dfaa" stroke="#8fbf88" stroke-width="0.5"/>
<text x="38.1" y="27.00" font-size="6.45" fill="#1e1e1e" stroke="#1e1e1e" stroke-width="0.12">Susceptible</text>
<rect x="24.900000000000002" y="33.35" width="8.8" height="8.6" fill="#f9b57e" stroke="#d09060" stroke-width="0.5"/>
<text x="38.1" y="39.95" font-size="6.45" fill="#1e1e1e" stroke="#1e1e1e" stroke-width="0.12">Low resistance</text>
<rect x="24.900000000000002" y="46.30" width="8.8" height="8.6" fill="#e4462e" stroke="#b03020" stroke-width="0.5"/>
<text x="38.1" y="52.90" font-size="6.45" fill="#1e1e1e" stroke="#1e1e1e" stroke-width="0.12">High resistance</text>
<rect x="476.0" y="5.8" width="65.5" height="103" fill="#fff" stroke="#f0f0f0" stroke-width="0.6"/>
<text x="478.6" y="13.899999999999999" font-size="6.45" font-weight="bold" fill="#111" stroke="#111" stroke-width="0.08">Phylogenetic group</text>
<line x1="478.0" y1="17.5" x2="540.0" y2="17.5" stroke="#cfcfcf" stroke-width="0.6"/>
<rect x="478.6" y="20.40" width="8.8" height="8.6" fill="#52bd96" stroke="#3c9a78" stroke-width="0.5"/>
<text x="491.8" y="27.00" font-size="6.45" fill="#1e1e1e" stroke="#1e1e1e" stroke-width="0.12">PG1</text>
<rect x="478.6" y="33.35" width="8.8" height="8.6" fill="#f47d4c" stroke="#c66038" stroke-width="0.5"/>
<text x="491.8" y="39.95" font-size="6.45" fill="#1e1e1e" stroke="#1e1e1e" stroke-width="0.12">PG2</text>
<rect x="478.6" y="46.30" width="8.8" height="8.6" fill="#7a8ccc" stroke="#5a6aa8" stroke-width="0.5"/>
<text x="491.8" y="52.90" font-size="6.45" fill="#1e1e1e" stroke="#1e1e1e" stroke-width="0.12">PG3</text>
<rect x="478.6" y="59.25" width="8.8" height="8.6" fill="#e57cc5" stroke="#b85c9e" stroke-width="0.5"/>
<text x="491.8" y="65.85" font-size="6.45" fill="#1e1e1e" stroke="#1e1e1e" stroke-width="0.12">PG4</text>
<rect x="478.6" y="72.20" width="8.8" height="8.6" fill="#8fce4e" stroke="#6ea83a" stroke-width="0.5"/>
<text x="491.8" y="78.80" font-size="6.45" fill="#1e1e1e" stroke="#1e1e1e" stroke-width="0.12">PG5</text>
<rect x="478.6" y="85.15" width="8.8" height="8.6" fill="#fdd731" stroke="#c8aa20" stroke-width="0.5"/>
<text x="491.8" y="91.75" font-size="6.45" fill="#1e1e1e" stroke="#1e1e1e" stroke-width="0.12">PG6</text>
<rect x="478.6" y="98.10" width="8.8" height="8.6" fill="#e0bd85" stroke="#b89862" stroke-width="0.5"/>
<text x="491.8" y="104.70" font-size="6.45" fill="#1e1e1e" stroke="#1e1e1e" stroke-width="0.12">PG7</text>
<rect x="488.9" y="449.1" width="53.5" height="39.5" fill="#fff" stroke="#f0f0f0" stroke-width="0.6"/>
<text x="491.5" y="457.20000000000005" font-size="6.45" font-weight="bold" fill="#111" stroke="#111" stroke-width="0.08">Sample</text>
<line x1="490.9" y1="460.8" x2="540.9" y2="460.8" stroke="#cfcfcf" stroke-width="0.6"/>
<rect x="491.5" y="463.70" width="8.8" height="8.6" fill="#f1eff7" stroke="#c8c6d0" stroke-width="0.5"/>
<text x="504.7" y="470.30" font-size="6.45" fill="#1e1e1e" stroke="#1e1e1e" stroke-width="0.12">Background</text>
<rect x="491.5" y="476.65" width="8.8" height="8.6" fill="#5d9fd6" stroke="#4a80b0" stroke-width="0.5"/>
<text x="504.7" y="483.25" font-size="6.45" fill="#1e1e1e" stroke="#1e1e1e" stroke-width="0.12">Belgium</text>
<rect x="16" y="479" width="90" height="14" fill="none" stroke="#f8f8f8" stroke-width="0.5"/>
<text x="22.8" y="489.4" font-size="5.35" fill="#2a2a2a" stroke="#2a2a2a" stroke-width="0.12">Tree scale: 1000</text>
<g stroke="#777" stroke-width="0.6"><line x1="66" y1="487.6" x2="96.4" y2="487.6"/><line x1="66" y1="486.2" x2="66" y2="489"/><line x1="96.4" y1="486.2" x2="96.4" y2="489"/><line x1="81.2" y1="486.8" x2="81.2" y2="488.4"/></g>
</svg>
</body></html>
